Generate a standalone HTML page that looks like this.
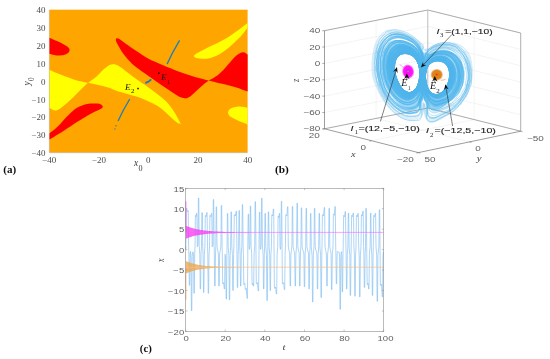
<!DOCTYPE html>
<html><head><meta charset="utf-8"><title>Figure</title>
<style>
html,body{margin:0;padding:0;background:#fff;}
body{width:550px;height:359px;overflow:hidden;}
svg{display:block;}
</style></head><body>
<svg width="550" height="359" viewBox="0 0 550 359">
<defs><filter id="soft" x="0" y="0" width="550" height="359" filterUnits="userSpaceOnUse"><feGaussianBlur stdDeviation="0.38"/></filter></defs>
<rect width="550" height="359" fill="#ffffff"/>
<g filter="url(#soft)">
<rect x="49.3" y="9.7" width="198.3" height="143.0" fill="#ffa500"/>
<path d="M49.3,37.7C50.6,38.2 54.7,40.0 57.0,41.0C59.3,42.0 61.4,43.1 63.0,44.0C64.6,44.9 65.8,45.6 66.8,46.3C67.8,47.0 68.5,47.6 69.0,48.3C69.5,48.9 69.6,49.5 69.5,50.2C69.4,50.9 69.3,51.9 68.6,52.6C67.9,53.3 66.9,54.1 65.5,54.6C64.1,55.1 61.9,55.5 60.0,55.6C58.1,55.7 55.8,55.3 54.0,55.0C52.2,54.7 50.1,53.9 49.3,53.7Z" fill="#ff0000"/>
<path d="M116.2,38.2C116.6,38.3 117.4,38.1 118.5,38.6C119.6,39.1 121.0,40.3 122.8,41.5C124.5,42.7 126.9,44.5 129.0,46.0C131.1,47.5 132.3,48.4 135.6,50.5C138.8,52.6 144.2,56.5 148.5,58.8C152.8,61.1 157.7,62.9 161.3,64.4C164.9,65.9 166.9,66.7 170.0,68.0C173.1,69.3 175.8,70.5 180.0,72.0C184.2,73.5 190.2,75.6 195.0,77.0C199.8,78.4 206.4,79.9 208.7,80.5L208.7,80.5C209.4,80.1 211.4,79.3 213.0,78.3C214.6,77.3 216.5,76.3 218.5,74.6C220.5,72.9 222.3,71.0 224.9,68.2C227.5,65.4 231.5,60.4 233.8,58.0C236.1,55.6 237.0,55.0 238.5,54.0C240.0,53.0 241.6,52.4 242.8,52.2C244.0,52.0 244.7,52.6 245.5,53.0C246.3,53.4 247.2,54.4 247.6,54.7L247.6,54.7C247.6,60.9 247.6,85.4 247.6,91.6L247.6,91.6C245.6,90.9 239.9,88.6 235.5,87.3C231.1,86.0 225.4,84.7 220.9,83.6C216.4,82.5 210.7,81.0 208.7,80.5L208.7,80.5C207.8,81.2 205.1,83.1 203.5,84.4C201.9,85.7 200.5,87.2 199.0,88.5C197.5,89.8 196.1,91.1 194.7,92.4C193.3,93.7 191.7,95.4 190.5,96.3C189.3,97.2 188.5,97.7 187.5,98.0C186.5,98.3 185.8,98.5 184.5,98.3C183.2,98.1 181.7,97.8 180.0,97.0C178.3,96.2 177.2,95.5 174.1,93.5C171.0,91.5 165.6,87.9 161.3,85.0C157.0,82.1 152.8,79.0 148.5,76.0C144.2,73.0 138.8,69.3 135.6,66.8C132.4,64.3 131.3,63.1 129.2,60.8C127.1,58.5 124.6,55.5 122.8,53.0C121.0,50.5 119.6,48.0 118.5,46.0C117.4,44.0 116.4,42.3 116.0,41.0C115.6,39.7 116.2,38.7 116.2,38.2Z" fill="#ff0000"/>
<path d="M49.3,133.5C50.7,132.3 54.7,129.5 57.8,126.5C60.9,123.5 64.8,118.6 68.0,115.5C71.2,112.4 73.8,109.7 77.0,107.8C80.2,105.9 84.1,104.7 87.3,104.0C90.5,103.3 94.0,103.5 96.3,103.6C98.6,103.7 99.9,104.0 101.0,104.5C102.1,105.0 102.6,106.2 102.9,106.5L102.9,106.5C102.8,106.8 102.5,107.5 102.0,108.0C101.5,108.5 102.0,108.3 100.0,109.3C98.0,110.3 93.7,112.1 89.9,114.2C86.1,116.3 81.3,119.3 77.0,122.0C72.7,124.7 68.8,127.5 64.2,130.5C59.6,133.4 51.8,138.2 49.3,139.7Z" fill="#ff0000"/>
<path d="M49.3,69.8C50.4,70.3 53.5,71.8 56.0,72.8C58.5,73.8 60.7,74.7 64.2,76.0C67.7,77.3 73.0,79.4 77.0,80.5C81.0,81.6 86.2,82.4 88.0,82.8L88.0,82.8C86.8,83.9 83.8,86.7 80.9,89.5C78.0,92.3 73.4,97.1 70.6,99.7C67.8,102.3 66.1,103.7 64.2,105.3C62.3,106.9 60.5,108.4 59.0,109.3C57.5,110.2 56.5,110.5 55.3,110.5C54.1,110.5 53.0,110.0 52.0,109.5C51.0,109.0 49.8,108.1 49.3,107.8Z" fill="#ffff00"/>
<path d="M88.0,82.8C89.4,81.8 93.8,78.8 96.3,76.7C98.8,74.6 100.6,72.2 102.7,70.3C104.8,68.4 107.2,66.3 109.1,65.3C110.9,64.3 112.3,64.2 113.8,64.2C115.3,64.2 116.5,64.8 118.0,65.6C119.5,66.4 120.9,67.4 122.8,68.8C124.7,70.2 127.1,72.2 129.2,73.8C131.3,75.4 132.4,76.3 135.6,78.6C138.8,80.9 144.2,84.5 148.5,87.6C152.8,90.7 158.1,94.6 161.3,97.2C164.5,99.8 165.6,100.6 167.7,103.0C169.8,105.4 172.4,109.1 174.1,111.7C175.8,114.3 176.8,116.4 178.0,118.5C179.2,120.6 180.5,123.3 181.0,124.3L181.0,124.3C180.4,124.0 179.1,124.1 177.3,122.8C175.5,121.5 172.4,118.6 170.0,116.5C167.6,114.4 165.5,112.0 163.0,110.0C160.5,108.0 158.4,106.5 154.9,104.6C151.4,102.7 146.3,100.3 142.0,98.6C137.7,96.9 133.5,95.9 129.2,94.6C124.9,93.3 119.8,91.9 116.4,90.8C113.1,89.7 112.4,88.8 109.1,87.8C105.8,86.8 99.8,85.4 96.3,84.6C92.8,83.8 89.4,83.1 88.0,82.8Z" fill="#ffff00"/>
<path d="M247.6,23.0C245.9,24.3 240.8,28.3 237.7,30.6C234.5,32.9 231.7,34.8 228.7,36.7C225.7,38.6 222.3,40.5 219.5,42.0C216.7,43.5 214.3,44.5 212.0,45.6C209.7,46.7 207.7,47.7 205.6,48.8C203.5,49.9 200.9,51.1 199.2,52.0C197.5,52.9 196.2,53.6 195.3,54.3C194.4,55.0 194.1,55.9 193.8,56.2L193.8,56.2C194.1,56.5 194.6,57.4 195.5,57.8C196.4,58.2 197.1,58.4 199.2,58.5C201.3,58.6 205.0,59.1 208.2,58.5C211.4,57.9 215.1,56.5 218.5,54.7C221.9,52.9 225.7,50.1 228.7,47.7C231.7,45.3 234.3,42.5 236.4,40.5C238.5,38.5 239.6,37.6 241.5,35.5C243.4,33.4 246.6,29.1 247.6,27.8Z" fill="#ffff00"/>
<path d="M247.6,107.8C246.3,107.6 242.3,106.5 239.8,106.5C237.3,106.5 234.3,107.2 232.5,107.8C230.7,108.4 229.8,109.2 229.0,110.0C228.2,110.8 228.1,112.2 227.9,112.7L227.9,112.7C228.1,113.1 228.5,114.5 229.0,115.2C229.5,115.9 229.5,116.1 231.1,117.0C232.7,117.9 235.7,119.5 238.4,120.7C241.2,121.9 246.1,123.8 247.6,124.4Z" fill="#ffff00"/>
<path d="M179.3,40.8Q172.5,52 167.3,63.6" fill="none" stroke="#1f7fb8" stroke-width="1.35" stroke-linecap="round"/>
<path d="M146.1,82.7Q149,81.6 150.7,79.9" fill="none" stroke="#1f7fb8" stroke-width="2.0" stroke-linecap="round"/>
<path d="M129.5,99.5Q123,110 118.3,120.6" fill="none" stroke="#1f7fb8" stroke-width="1.35" stroke-linecap="round"/>
<circle cx="116" cy="125.8" r="0.8" fill="#1f7fb8" opacity="0.85"/><circle cx="114.9" cy="129" r="0.8" fill="#1f7fb8" opacity="0.8"/>
<rect x="158" y="72.5" width="1.5" height="1.5" fill="#111"/>
<rect x="137.3" y="87.8" width="1.5" height="1.5" fill="#111"/>
<path d="M49.3,9.7V152.7H247.6" fill="none" stroke="#b0b0b0" stroke-width="0.5"/>
<text transform="translate(36.54,13.00) scale(1.120,1)" font-family="Liberation Serif, serif" font-size="8.00" fill="#4a4a4a">40</text>
<text transform="translate(36.54,30.90) scale(1.120,1)" font-family="Liberation Serif, serif" font-size="8.00" fill="#4a4a4a">30</text>
<text transform="translate(36.54,48.80) scale(1.120,1)" font-family="Liberation Serif, serif" font-size="8.00" fill="#4a4a4a">20</text>
<text transform="translate(36.54,66.70) scale(1.120,1)" font-family="Liberation Serif, serif" font-size="8.00" fill="#4a4a4a">10</text>
<text transform="translate(41.02,84.60) scale(1.120,1)" font-family="Liberation Serif, serif" font-size="8.00" fill="#4a4a4a">0</text>
<text transform="translate(31.49,102.50) scale(1.120,1)" font-family="Liberation Serif, serif" font-size="8.00" fill="#4a4a4a">−10</text>
<text transform="translate(31.49,120.40) scale(1.120,1)" font-family="Liberation Serif, serif" font-size="8.00" fill="#4a4a4a">−20</text>
<text transform="translate(31.49,138.30) scale(1.120,1)" font-family="Liberation Serif, serif" font-size="8.00" fill="#4a4a4a">−30</text>
<text transform="translate(31.49,156.20) scale(1.120,1)" font-family="Liberation Serif, serif" font-size="8.00" fill="#4a4a4a">−40</text>
<text transform="translate(42.29,163.10) scale(1.120,1)" font-family="Liberation Serif, serif" font-size="8.00" fill="#4a4a4a">−40</text>
<text transform="translate(91.99,163.10) scale(1.120,1)" font-family="Liberation Serif, serif" font-size="8.00" fill="#4a4a4a">−20</text>
<text transform="translate(145.96,163.10) scale(1.120,1)" font-family="Liberation Serif, serif" font-size="8.00" fill="#4a4a4a">0</text>
<text transform="translate(193.52,163.10) scale(1.120,1)" font-family="Liberation Serif, serif" font-size="8.00" fill="#4a4a4a">20</text>
<text transform="translate(243.32,163.10) scale(1.120,1)" font-family="Liberation Serif, serif" font-size="8.00" fill="#4a4a4a">40</text>
<text transform="translate(134.00,166.40) scale(0.986,1)" font-family="Liberation Serif, serif" font-size="9.60" fill="#3a3a3a" font-style="italic">x</text>
<text transform="translate(138.50,170.50) scale(1.108,1)" font-family="Liberation Serif, serif" font-size="7.40" fill="#3a3a3a">0</text>
<text transform="translate(29.9,85.6) rotate(-90)" font-family="Liberation Serif, serif" font-style="italic" font-size="9.4" fill="#3a3a3a">y</text>
<text transform="translate(33.9,80.9) rotate(-90)" font-family="Liberation Serif, serif" font-size="7.2" fill="#3a3a3a">0</text>
<text transform="translate(161.00,80.00) scale(1.042,1)" font-family="Liberation Serif, serif" font-size="8.80" fill="#151515" font-style="italic">E</text>
<text transform="translate(167.20,83.80) scale(0.839,1)" font-family="Liberation Serif, serif" font-size="6.20" fill="#151515">1</text>
<text transform="translate(125.00,89.60) scale(1.042,1)" font-family="Liberation Serif, serif" font-size="8.80" fill="#151515" font-style="italic">E</text>
<text transform="translate(131.00,92.70) scale(1.097,1)" font-family="Liberation Serif, serif" font-size="6.20" fill="#151515">2</text>
<text transform="translate(3.30,172.70) scale(1.054,1)" font-family="Liberation Serif, serif" font-size="10.50" fill="#111" font-weight="bold">(a)</text>
<path d="M324.5,30.7L427.8,10.0L520.7,33.0M324.5,47.0L427.8,26.3L520.7,49.4M324.5,63.4L427.8,42.7L520.7,65.7M324.5,79.8L427.8,59.0L520.7,82.1M324.5,96.1L427.8,75.3L520.7,98.5M324.5,112.5L427.8,91.7L520.7,114.8M324.5,128.8L427.8,108.0L520.7,131.2M371.4,140.7L474.2,119.6L474.2,21.5M469.6,141.9L376.1,118.4L376.1,20.4" stroke="#e9e9e9" stroke-width="0.5" fill="none"/>
<path d="M324.5,30.7L427.8,10.0L520.7,33.0V131.2L427.8,108.0L324.5,128.8" stroke="#6e6e6e" stroke-width="0.55" fill="none"/>
<path d="M427.8,10.0V108.0" stroke="#b6b6b6" stroke-width="0.9" fill="none"/>
<path d="M324.5,30.7V128.8L418.4,152.6L520.7,131.2" stroke="#5a5a5a" stroke-width="0.6" fill="none"/>
<path d="M324.5,30.7h-2.2M324.5,47.0h-2.2M324.5,63.4h-2.2M324.5,79.8h-2.2M324.5,96.1h-2.2M324.5,112.5h-2.2M324.5,128.8h-2.2M324.5,128.8l-2.0,0.4M418.4,152.6l1.9,0.5M371.4,140.7l-2.0,0.4M469.6,141.9l1.9,0.5M418.4,152.6l-2.0,0.4M520.7,131.2l1.9,0.5" stroke="#5a5a5a" stroke-width="0.5" fill="none"/>
<path d="M381.4,73.1L381.3,71.7L381.1,70.2L381.0,68.8L380.9,67.3L380.9,65.8L380.9,64.2L381.0,62.7L381.1,61.1L381.3,59.4L381.5,57.7L381.8,56.0L382.2,54.2L382.7,52.5L383.3,50.7L384.1,49.0L385.0,47.4L386.1,45.8L387.2,44.2L388.5,42.8L390.0,41.7L391.7,40.8L393.5,40.2L395.5,40.0L397.4,39.9L399.3,40.1L401.2,40.5L403.1,41.0L404.8,41.4L406.5,42.0L408.2,42.6L409.7,43.2L411.2,43.9L412.7,44.7L414.0,45.5L415.3,46.4L416.6,47.2L417.7,48.1L418.8,49.1L419.8,50.2L420.9,51.0L422.2,51.5L423.2,52.3L424.0,53.5L424.0,55.5L424.0,57.2L424.0,58.8L424.0,60.2L424.0,61.6L424.0,62.8L424.0,63.9L424.0,65.0L424.0,66.0L424.0,67.0L424.0,67.9L424.0,68.8L424.0,69.7L424.0,70.6L424.0,71.4L424.0,72.2L424.0,73.1L424.0,73.9L424.0,74.7L424.0,75.6L424.0,76.4L424.0,77.3L424.0,78.2L424.0,79.2L424.0,80.1L424.0,81.1L424.0,82.2L424.0,83.4L424.0,84.6L424.0,85.9L424.0,87.3L424.0,88.9L424.0,90.7L424.0,92.6L424.0,94.9L424.0,97.5L423.5,99.6L422.3,100.9L420.9,101.8L419.6,102.9L418.7,105.4L417.2,106.9L415.6,107.9L413.8,108.4L411.9,108.8L410.0,108.9L408.2,108.6L406.3,108.1L404.5,107.5L402.8,106.8L401.2,105.8L399.7,104.7L398.3,103.5L396.9,102.3L395.7,101.0L394.6,99.8L393.5,98.5L392.5,97.2L391.5,96.0L390.6,94.7L389.8,93.5L389.0,92.3L388.2,91.0L387.5,89.8L386.9,88.5L386.3,87.3L385.7,86.0L385.2,84.8L384.6,83.5L384.1,82.3L383.6,81.1L383.1,79.8L382.6,78.5L382.2,77.2L381.9,75.8L381.6,74.5ZM394.0,73.1L393.8,72.3L393.6,71.5L393.4,70.7L393.3,69.9L393.2,69.1L393.1,68.2L393.0,67.3L393.0,66.3L393.0,65.4L393.1,64.4L393.3,63.4L393.5,62.4L393.8,61.5L394.2,60.5L394.6,59.5L395.1,58.6L395.7,57.7L396.4,56.8L397.1,56.1L398.0,55.4L398.8,54.8L399.8,54.3L400.8,53.9L401.8,53.6L402.9,53.5L404.0,53.5L405.1,53.4L406.1,53.5L407.1,53.6L408.2,53.7L409.2,53.9L410.1,54.2L411.1,54.6L412.0,55.0L412.9,55.5L413.7,56.1L414.4,56.7L415.2,57.4L415.8,58.0L416.4,58.8L417.0,59.5L417.4,60.3L417.9,61.1L418.3,61.8L418.6,62.6L418.9,63.4L419.2,64.1L419.4,64.9L419.6,65.6L419.8,66.4L419.9,67.1L419.9,67.8L420.0,68.5L420.0,69.2L420.1,69.9L420.1,70.5L420.1,71.2L420.1,71.8L420.1,72.5L420.1,73.1L420.1,73.7L420.0,74.3L420.0,75.0L419.9,75.6L419.9,76.2L419.8,76.9L419.7,77.5L419.6,78.2L419.5,78.9L419.4,79.6L419.3,80.3L419.1,81.0L418.9,81.8L418.7,82.6L418.5,83.4L418.2,84.2L417.9,85.1L417.5,86.0L417.1,86.8L416.6,87.6L416.0,88.4L415.3,89.2L414.6,90.0L413.9,90.7L413.1,91.3L412.2,91.9L411.2,92.4L410.2,92.7L409.2,92.8L408.2,92.6L407.1,92.4L406.2,92.0L405.2,91.5L404.4,91.0L403.5,90.3L402.8,89.6L402.1,88.9L401.5,88.1L400.9,87.4L400.3,86.6L399.8,85.9L399.4,85.2L398.9,84.5L398.5,83.8L398.1,83.1L397.7,82.5L397.4,81.8L397.1,81.1L396.7,80.5L396.4,79.8L396.1,79.2L395.9,78.5L395.6,77.9L395.3,77.2L395.1,76.6L394.9,75.9L394.6,75.2L394.4,74.5L394.2,73.8ZM424.0,77.9L424.0,77.1L424.0,76.3L424.0,75.4L424.0,74.6L424.0,73.7L424.0,72.8L424.0,71.8L424.0,70.9L424.0,69.9L424.0,68.8L424.0,67.6L424.0,66.4L424.0,65.1L424.0,63.7L424.0,62.1L424.0,60.3L424.0,58.4L424.0,56.1L424.0,53.6L424.9,52.1L427.0,52.7L429.2,54.0L430.6,53.8L431.8,53.3L433.1,52.8L434.4,52.3L435.7,52.0L437.1,51.7L438.5,51.4L439.8,51.2L441.2,51.1L442.7,51.1L444.1,51.1L445.5,51.2L447.0,51.3L448.4,51.5L449.9,51.8L451.3,52.1L452.8,52.6L454.1,53.2L455.4,54.0L456.6,54.9L457.6,55.9L458.6,57.1L459.5,58.3L460.3,59.5L461.0,60.8L461.5,62.2L462.0,63.5L462.3,64.9L462.6,66.3L462.8,67.7L462.9,69.1L463.0,70.4L463.1,71.7L463.1,73.0L463.1,74.2L463.1,75.5L463.0,76.7L462.8,77.9L462.6,79.1L462.4,80.3L462.1,81.5L461.8,82.6L461.4,83.7L461.0,84.8L460.6,85.9L460.2,87.0L459.8,88.1L459.3,89.2L458.8,90.2L458.2,91.3L457.6,92.3L456.9,93.3L456.2,94.3L455.5,95.3L454.7,96.3L453.9,97.3L453.0,98.2L452.1,99.2L451.2,100.2L450.2,101.1L449.1,102.1L448.0,103.0L446.8,104.0L445.6,105.0L444.3,105.9L442.9,106.9L441.4,107.9L439.8,108.7L438.2,109.4L436.5,109.9L434.7,110.2L433.0,110.1L431.3,109.7L429.8,108.8L428.7,107.0L428.0,104.6L427.3,102.5L426.0,101.9L424.9,100.9L424.0,99.7L424.0,97.5L424.0,95.5L424.0,93.8L424.0,92.2L424.0,90.8L424.0,89.4L424.0,88.2L424.0,87.1L424.0,86.0L424.0,85.0L424.0,84.0L424.0,83.1L424.0,82.2L424.0,81.3L424.0,80.4L424.0,79.6L424.0,78.8ZM425.3,77.9L425.2,77.2L425.1,76.4L425.1,75.6L425.1,74.8L425.1,74.0L425.1,73.1L425.1,72.3L425.2,71.4L425.3,70.5L425.4,69.6L425.7,68.7L426.0,67.8L426.3,67.0L426.8,66.2L427.3,65.4L427.9,64.6L428.5,63.9L429.2,63.3L430.0,62.7L430.8,62.2L431.6,61.8L432.5,61.5L433.4,61.2L434.4,61.0L435.3,60.9L436.2,60.8L437.1,60.8L438.0,60.8L438.9,60.9L439.8,61.0L440.7,61.2L441.6,61.5L442.4,61.8L443.2,62.1L444.0,62.5L444.7,63.0L445.4,63.5L446.0,64.0L446.7,64.5L447.2,65.1L447.8,65.7L448.2,66.3L448.7,67.0L449.0,67.7L449.3,68.4L449.6,69.1L449.9,69.8L450.1,70.5L450.3,71.2L450.4,71.8L450.5,72.5L450.5,73.2L450.6,73.8L450.5,74.4L450.5,75.1L450.5,75.7L450.4,76.3L450.3,76.8L450.2,77.4L450.1,77.9L450.0,78.5L449.9,79.0L449.8,79.5L449.6,80.0L449.5,80.5L449.3,81.0L449.1,81.5L449.0,82.0L448.8,82.5L448.6,83.0L448.3,83.4L448.1,83.9L447.9,84.4L447.6,84.9L447.3,85.4L447.0,85.9L446.7,86.4L446.4,87.0L446.1,87.5L445.7,88.1L445.3,88.6L444.9,89.2L444.4,89.8L443.9,90.4L443.3,91.0L442.7,91.6L442.1,92.1L441.4,92.6L440.6,93.2L439.8,93.6L439.0,94.1L438.1,94.4L437.2,94.6L436.3,94.7L435.4,94.6L434.5,94.4L433.6,94.2L432.8,93.8L432.0,93.3L431.2,92.8L430.6,92.2L429.9,91.5L429.4,90.8L428.9,90.1L428.4,89.4L428.0,88.6L427.6,87.8L427.3,87.0L427.0,86.3L426.7,85.5L426.5,84.7L426.3,84.0L426.1,83.2L425.9,82.5L425.7,81.7L425.6,80.9L425.5,80.2L425.4,79.4L425.3,78.7Z" fill="#5cbcee" fill-rule="evenodd" opacity="0.6"/>
<path d="M432.2,93.7l1,.5 .9,.3 .9,.2 .9,.1 1,0 1.1-.1 1.1-.4 1.1-.6 1.3-.8 1.5-1.1 1.6-1.6 1.7-2.3 1.7-3.3 1.5-4.3 .7-4.9 -.3-4.8 -1.4-3.9 -1.9-2.9 -2.1-1.7 -2.1-1.1 -2.2-.6 -2.3-.2 -2.5,.3 -2.7,.9 -2.6,1.8 -2.3,2.8 -1.6,3.6 -.8,4.1 -.1,4 .4,3.5 .5,3.1 .7,2.5 .8,2.1 .9,1.7 1,1.2 .9,1 .9,.8 .9,.5 .9,.5 .8,.3 .9,.2 .9,.2 .9,0 1-.1 1.1-.2 1.1-.5 1.3-.6 1.5-1 1.7-1.4 2-2.1 2-3.1 1.9-4.4 .9-5.4 -.2-5.4 -1.4-4.6 -2.1-3.2 -2.4-2 -2.3-1.2 -2.4-.5 -2.4-.2 -2.6,.4 -2.8,.9 -2.7,1.9 -2.3,2.9 -1.5,3.7 -.8,4 -.2,3.9 .2,3.5 .4,3.1 .5,2.6 .6,2.2 .8,1.9 .8,1.4 .8,1.1 .8,.9 .9,.7 .8,.5 .7,.5 .8,.4 .7,.3 .8,.2 .8,.3 .9,.1 .9,0 1.1-.1 1.2-.4 1.3-.5 1.6-.7 1.9-1.2 2.3-1.9 2.5-3.1 2.3-4.8 1.5-6.2 -.1-6.5 -1.5-5.7 -2.4-4 -2.9-2.4 -2.8-1.2 -2.7-.4 -2.8,0 -2.9,.6 -2.9,1.2 -2.7,2.3 -2.2,3.2 -1.4,3.8 -.8,4 -.2,3.8 -.1,3.4 .2,3 .1,2.7 .3,2.5 .2,2.2 .4,1.9 .4,1.7 .5,1.4 .5,1.2 .6,1 .5,.8 .5,.7 .5,.6 .5,.7 .4,.6 .5,.6 .5,.6 .5,.5 .6,.4 .6,.4 .7,.4 .8,.3 .9,.3 1.1,.1 1.3-.1 1.5-.4 1.7-.6 2.2-.6 2.6-1.1 3.3-2.1 4.1-4.3 4.1-6.9 2.9-9.3 -.2-10.1 -2.9-8.5 -4.5-5.5 -4.6-2.6 -4.3-.8 -3.9,.2 -3.8,.7 -3.6,1.6 -3.2,2.5 -2.4,3.8 -1.7,4.2 -.9,4.3 -.8,3.8 -.7,3.4 -.7,3.1 -.8,2.6 -.9,2.3 -.8,1.8 -.8,1.5 -.8,1.1 -.8,1 -.7,.7 -.7,.7 -.7,.7 -.6,.6 -.8,.6 -.7,.5 -.9,.5 -.9,.5 -1.2,.3 -1.4,.2 -1.7-.2 -2.1-.7 -2.7-1.5 -3.2-3 -3.4-4.9 -2.9-7.2 -1.4-8.5 .5-8.1 2.2-6 3.2-3.6 3.4-1.5 3.2-.3 3.1,.5 3,1 3,1.7 2.8,2.6 2.4,3.6 1.7,4.3 1.1,4.5 .5,4.2 .2,3.6 0,3.3 -.2,2.7 -.3,2.4 -.5,2 -.4,1.8 -.5,1.4 -.6,1.2 -.6,1 -.6,.8 -.6,.7 -.6,.6 -.5,.6 -.6,.7 -.6,.6 -.6,.5 -.7,.5 -.9,.6 -.9,.5 -1.1,.4 -1.4,.4 -1.8,.1 -2.2-.3 -2.8-1.1 -3.6-2.6 -4-4.9 -3.7-7.7 -2.4-9.8 -.2-10.1 2-8.2 3.7-5.1 4.2-2.1 4-.4 3.7,.7 3.6,1.3 3.5,2 3.1,3.1 2.5,4.2 1.8,4.8 1.1,4.9 .7,4.3 .4,3.8 .3,3.4 .2,3 .2,2.9 .1,2.6 .1,2.4 .2,2.2 .2,2 .2,1.9 .2,1.6 .4,1.4 .5,1.3 .7,1.1 .5,1 .4,1 .3,.9 .1,1 .2,1 .1,1 .1,1 .1,1 .1,.9 .1,1 .2,.9 .2,.8 .4,.7 .4,.5 .4,.6 .6,.5 .6,.4 .8,.3 1,.3 1.1,.1 1.3-.2 1.6-.4 1.9-.9 2.2-1.1 2.7-1.1 3.3-1.4 4.6-2.2 6.4-4.5 6.9-8.5 4.8-12.7 -.5-14.6 -4.9-12.2 -7.2-7.3 -6.8-2.8 -5.9-.4 -5.1,.9 -4.7,1.5 -4.2,2.6 -3.5,3.5 -2.2,4.8 -1.3,4.7 -.9,4.4 -.7,3.8 -.7,3.5 -.7,3.2 -.7,2.8 -.8,2.4 -.9,2 -.9,1.6 -.8,1.3 -.9,1 -.9,.9 -.8,.8 -1,.6 -1,.5 -1.2,.3 -1.3,.1 -1.5-.3 -1.8-.8 -2.1-1.5 -2.3-2.5 -2.5-3.9 -2.4-5.2 -1.6-6.3 -.4-6.5 1-5.4 2.1-3.7 2.5-2.1 2.5-1 2.3-.2 2.4,.2 2.4,.6 2.5,1.3 2.5,2 2.2,2.9 1.8,3.8 1,4.2 .4,4.1 -.1,3.7 -.3,3.1 -.5,2.5 -.6,2.2 -.7,1.7 -.7,1.5 -.8,1.1 -.7,1 -.8,.9 -.8,.7 -.8,.7 -.9,.5 -1,.5 -1.1,.3 -1.3,0 -1.6-.3 -1.8-.8 -2.1-1.5 -2.4-2.6 -2.6-4 -2.4-5.5 -1.6-6.5 -.2-6.5 1.2-5.4 2.2-3.7 2.6-2 2.5-.9 2.5-.1 2.4,.3 2.4,.8 2.6,1.3 2.5,2.3 2.2,3.2 1.6,3.9 .9,4.2 .3,4 -.1,3.6 -.4,3 -.5,2.5 -.6,2 -.6,1.7 -.7,1.4 -.8,1.1 -.7,.9 -.7,.9 -.8,.7 -.8,.6 -.8,.6 -.9,.5 -1.1,.4 -1.2,.1 -1.5-.1 -1.7-.5 -2-1.2 -2.4-2.2 -2.5-3.5 -2.6-5.1 -2-6.4 -.8-6.9 .7-6.1 1.9-4.4 2.6-2.6 2.7-1.2 2.6-.3 2.5,.3 2.5,.6 2.6,1.3 2.6,2.1 2.3,3 1.8,3.9 1.1,4.2 .5,4.1 0,3.7 -.3,3.1 -.5,2.6 -.5,2.2 -.7,1.7 -.6,1.5 -.7,1.2 -.7,1 -.8,.8 -.7,.7 -.7,.7 -.7,.6 -.9,.6 -.9,.4 -1,.4 -1.2,.2 -1.5-.1 -1.8-.4 -2.1-1.2 -2.4-2.1 -2.7-3.6 -2.7-5.3 -2.1-6.8 -.8-7.2 .8-6.4 2.1-4.6 2.8-2.6 2.8-1.1 2.8-.2 2.6,.3 2.7,.9 2.7,1.5 2.6,2.3 2.2,3.3 1.7,4.1 1,4.2 .4,4.1 0,3.6 -.2,3 -.4,2.6 -.6,2.1 -.6,1.8 -.6,1.4 -.7,1.2 -.7,1 -.7,.8 -.6,.7 -.7,.7 -.7,.6 -.7,.5 -.8,.6 -.9,.5 -1.1,.3 -1.2,.3 -1.5,0 -1.8-.4 -2.3-1.1 -2.6-2.2 -3-3.9 -2.9-5.8 -2.2-7.4 -.8-7.9 1-6.8 2.5-4.6 3.1-2.6 3.2-.9 2.9,0 2.9,.5 2.8,1.1 2.9,1.9 2.6,2.8 2.2,3.8 1.5,4.3 .8,4.3 .4,4 0,3.5 -.2,3 -.3,2.5 -.5,2.1 -.5,1.8 -.6,1.5 -.6,1.2 -.7,1 -.6,.8 -.7,.7 -.6,.7 -.6,.6 -.6,.6 -.7,.5 -.7,.6 -.9,.5 -.9,.4 -1.1,.5 -1.4,.2 -1.7,0 -2.1-.5 -2.8-1.4 -3.3-2.7 -3.7-4.9 -3.3-7.3 -1.9-9 .3-8.8 2.3-6.9 3.4-4.1 3.6-1.8 3.6-.3 3.2,.6 3.2,1 3.2,1.8 3,2.7 2.4,3.9 1.7,4.5 1.1,4.6 .6,4.2 .3,3.7 .1,3.3 -.1,2.9 -.2,2.5 -.3,2.2 -.3,1.9 -.4,1.7 -.4,1.5 -.5,1.2 -.5,1 -.5,.8 -.5,.8 -.5,.7 -.4,.8 -.5,.7 -.5,.7 -.5,.6 -.6,.6 -.6,.5 -.8,.5 -.9,.5 -1,.5 -1.3,.5 -1.5,.4 -2,.1 -2.6-.4 -3.3-1.3 -4.2-3 -4.9-5.8 -4.4-9.3 -2.5-11.7 .3-11.8 2.9-9.2 4.6-5.4 4.9-1.9 4.7,.2 4.3,1.2 4.1,1.9 3.9,2.8 3.2,4 2.3,5.1 1.5,5.4 .9,5 .7,4.2 .5,3.8 .3,3.4 .4,3.2 .4,2.9 .6,2.5 .7,2.1 .8,1.8 .8,1.3 .8,1.1 .9,.8 .8,.6 .7,.5 .7,.5 .7,.4 .7,.4 .7,.3 .8,.2 .8,.3 .9,.1 1,.1 1.1-.2 1.3-.3 1.5-.6 1.8-.7 2.3-1.2 3-2.1 3.4-3.7 2.9-5.9 1.2-7.5 -1-7.5 -2.7-5.8 -3.4-3.7 -3.3-2 -3.1-.8 -3-.2 -3.1,.3 -3,1.1 -3,1.8 -2.5,3 -1.8,3.7 -1.1,4 -.5,3.9 -.2,3.5 -.2,3.2 -.2,2.8 -.2,2.6 -.4,2.3 -.4,2.1 -.3,1.8 -.5,1.5 -.4,1.4 -.5,1.1 -.5,.9 -.5,.9 -.3,.9 -.3,1 -.3,1 -.2,1 -.3,1 -.3,.9 -.3,.9 -.4,.7 -.5,.7 -.6,.5 -.7,.5 -.9,.4 -1,.4 -1.1,.3 -1.4,.4 -1.8,.4 -2.1,.1 -2.8-.4 -3.7-1.5 -4.7-3.2 -6-6.1 -5.7-10.1 -4.1-13.8 -.4-15 3.1-12.3 5.7-7.2 6.2-2.7 6,.3 5.3,1.7 4.9,2.4 4.5,3.6 3.7,4.8 2.3,6 1.3,6.1 .6,5.2 .4,4.3 .3,3.9 .4,3.6 .5,3.5 .8,3 .9,2.5 1.1,2 1.1,1.6 1.1,1.1 1,.8 1,.6 .9,.5 .9,.3 .9,.2 1,.1 .9,0 1.1-.2 1.1-.4 1.2-.5 1.4-.9 1.5-1.1 1.7-1.8 1.8-2.5 1.9-3.7 1.4-4.6 .6-5.3 -.7-4.9 -1.6-3.8 -2.2-2.5 -2.2-1.6 -2.3-.9 -2.3-.4 -2.4,0 -2.6,.5 -2.8,1.2 -2.5,2.2 -2.1,3.2 -1.3,3.8 -.5,4.1 0,3.8 .3,3.4 .6,2.8 .6,2.5 .8,2 .8,1.5 .9,1.3 .9,.9 .9,.8 .8,.5 .9,.5 .8,.3 .8,.3 .8,.2 .9,.2 .9,0 1-.1 1.1-.3 1.3-.4 1.4-.7 1.6-1 1.9-1.6 2.3-2.5 2.4-3.8 2-5.2 .7-6.1 -.9-5.7 -2.2-4.3 -2.6-2.8 -2.6-1.6 -2.5-.8 -2.6-.3 -2.6,.1 -2.8,.7 -2.8,1.5 -2.5,2.5 -1.9,3.4 -1.2,4 -.5,3.9 -.1,3.7 .2,3.3 .3,2.9 .4,2.5 .5,2.1 .6,1.8 .7,1.5 .7,1.3 .7,.9 .8,.7 .7,.6 .7,.6 .6,.4 .7,.4 .6,.4 .7,.3 .8,.3 .8,.3 .8,.2 1,0 1.2-.1 1.3-.3 1.5-.5 1.8-.7 2.2-1.1 2.8-2 3.3-3.7 3-5.8 1.5-7.5 -.5-7.7 -2.4-6.4 -3.3-4.2 -3.4-2.2 -3.3-.9 -3.1-.2 -3.1,.3 -3.2,1 -3,1.9 -2.5,2.9 -1.8,3.7 -1.2,4.1 -.5,3.9 -.3,3.5 -.3,3.2 -.3,2.8 -.5,2.5 -.5,2.2 -.6,1.9 -.5,1.7 -.6,1.3 -.5,1.2 -.6,.9 -.5,.9 -.4,.8 -.4,.8 -.4,.8 -.4,.8 -.4,.8 -.5,.7 -.5,.7 -.6,.6 -.7,.5 -.7,.5 -.9,.5 -1.1,.4 -1.3,.5 -1.6,.4 -2,.2 -2.7-.4 -3.4-1.3 -4.3-3 -5.1-5.9 -4.8-9.4 -3.1-12.5 -.2-12.9 2.8-10.4 4.8-6.1 5.4-2.3 5.2,.2 4.7,1.3 4.4,2.1 4.1,3 3.4,4.2 2.4,5.5 1.4,5.6 .9,5.2 .5,4.3 .5,3.8 .3,3.5 .4,3.2 .6,3 .7,2.5 .9,2.1 1,1.6 .9,1.2 1,.9 .9,.7 .8,.5 .8,.5 .8,.3 .8,.3 .8,.3 .8,.2 .9,.1 1-.1 1.1-.2 1.3-.4 1.4-.6 1.6-.9 2-1.3 2.4-2.2 2.6-3.6 2.1-5.2 .9-6.4 -.6-6.2 -2-4.9 -2.7-3.3 -2.8-1.8 -2.6-1 -2.7-.3 -2.7,.1 -2.9,.7 -2.8,1.4 -2.6,2.6 -2,3.3 -1.2,3.9 -.6,4 -.2,3.7 .1,3.3 .2,2.9 .3,2.6 .3,2.4 .5,2 .5,1.7 .5,1.4 .6,1.2 .6,1 .6,.8 .6,.6 .6,.6 .6,.6 .5,.5 .6,.5 .6,.4 .6,.4 .7,.4 .7,.3 .8,.3 1,.2 1.1,0 1.2-.2 1.5-.4 1.8-.6 2.2-.8 2.8-1.2 3.9-2.3 4.4-4.7 3.8-7.6 1.2-9.6 -1.8-9.1 -4-6.5 -4.5-3.6 -4.2-1.5 -3.7-.5 -3.6,.3 -3.4,.9 -3.4,1.7 -2.9,2.7 -2.2,3.7 -1.3,4.2 -.8,4.1 -.6,3.7 -.6,3.3 -.7,2.9 -.7,2.5 -.8,2.2 -.7,1.7 -.8,1.5 -.7,1.2 -.7,.9 -.7,.7 -.7,.7 -.6,.6 -.6,.6 -.6,.6 -.6,.6 -.7,.6 -.8,.5 -.9,.5 -1,.4 -1.3,.4 -1.6,.3 -2-.2 -2.5-.9 -3.1-2.1 -3.8-3.9 -3.8-6.5 -3-8.9 -1-9.9 1.3-8.6 3.2-5.8 4-2.9 4-.8 3.6,.2 3.5,1 3.4,1.6 3.2,2.6 2.7,3.7 2,4.5 1.3,4.8 .8,4.5 .5,4 .3,3.5 .1,3.1 0,2.8 0,2.5 -.1,2.4 -.1,2.1 -.1,1.9 -.2,1.7 -.3,1.5 -.4,1.2 -.4,1 -.4,1 -.4,.9 -.2,1.1 -.2,1 -.2,1.1 -.2,1.1 -.2,1 -.3,1 -.3,.8 -.5,.8 -.5,.6 -.6,.6 -.7,.5 -.8,.4 -1,.3 -1.2,.3 -1.4,.3 -1.7,.4 -2.2,.1 -2.8-.4 -3.6-1.5 -4.7-3.1 -6.2-5.7 -6.3-9.8 -5-14 -.9-15.7 2.9-13.4 6.1-8 6.7-3 6.3,.1 5.5,1.7 5.2,2.4 4.6,3.5 3.8,4.8 2.5,6.2 1.3,6.2 .6,5.4 .4,4.3 .3,3.9 .3,3.8 .6,3.5 .8,3.1 .9,2.6 1.1,2.1 1.1,1.6 1.1,1.1 1.1,.9 1,.6 1,.4 .9,.3 1,.2 1,.1 1-.2 1-.2 1.2-.5 1.3-.7 1.3-1 1.6-1.5 1.7-2 1.8-2.9 1.6-3.9 1-4.8 0-5 -1-4.3 -1.7-3.3 -2.1-2.1 -2.1-1.3 -2.2-.7 -2.3-.3 -2.4,.1 -2.6,.7 -2.7,1.4 -2.5,2.5 -1.9,3.4 -1,4 -.3,4 .2,3.7 .5,3.3 .6,2.7 .8,2.2 .9,1.8 .9,1.4 1,1.1 .9,.8 .9,.6 .8,.5 .9,.4 .8,.3 .9,.2 .9,.1 1-.1 1-.1 1.1-.4 1.3-.6 1.4-.8 1.6-1.2 1.8-1.8 2-2.7 2-3.9 1.5-5.1 .3-5.5 -.9-5.1 -1.9-3.8 -2.3-2.5 -2.4-1.4 -2.4-.8 -2.4-.2 -2.6,.1 -2.7,.7 -2.7,1.5 -2.5,2.5 -1.9,3.4 -1.1,4 -.4,3.9 0,3.7 .4,3.3 .4,2.8 .6,2.4 .7,1.9 .8,1.7 .8,1.2 .8,1 .8,.8 .8,.6 .8,.5 .8,.4 .7,.3 .8,.3 .7,.3 .9,.1 .9,.1 1,0 1.1-.2 1.3-.4 1.4-.6 1.7-.9 2.1-1.3 2.6-2.4 2.8-3.9 2.3-5.6 .9-6.7 -.9-6.5 -2.3-5 -2.9-3.1 -3-1.7 -2.8-.8 -2.8-.3 -2.8,.3 -2.9,.8 -2.9,1.7 -2.5,2.8 -1.8,3.5 -1.1,4 -.6,3.9 -.1,3.6 0,3.2 .2,2.9 .1,2.6 .2,2.4 .3,2.1 .3,1.9 .4,1.6 .5,1.4 .5,1.1 .5,.9 .6,.8 .4,.8 .5,.7 .4,.6 .4,.7 .4,.6 .5,.6 .4,.6 .6,.5 .6,.4 .7,.4 .7,.4 .9,.3 1,.2 1.2,0 1.4-.4 1.7-.5 2-.7 2.4-.9 3.3-1.3 4.7-2.5 5.5-5.3 4.7-8.9 1.4-11.4 -2.5-10.7 -5.1-7.3 -5.6-3.7 -5-1.3 -4.3-.2 -3.9,.6 -3.8,1.4 -3.5,2.3 -2.9,3.4 -2,4.1 -1.2,4.4 -.8,4 -.8,3.6 -.7,3.2 -.7,2.9 -.9,2.4 -.8,2 -.9,1.6 -.8,1.3 -.8,1 -.7,.9 -.8,.7 -.7,.7 -.7,.6 -.7,.6 -.8,.6 -.9,.5 -1,.4 -1.1,.3 -1.5,.1 -1.7-.3 -2.1-.8 -2.6-1.9 -3-3.3 -3.1-5.3 -2.6-7.1 -1.2-8 .6-7.4 2.3-5.4 3.1-3.2 3.2-1.2 3-.2 2.9,.5 2.9,1 2.9,1.6 2.8,2.6 2.3,3.6 1.6,4.2 1,4.4 .5,4.1 .1,3.6 -.1,3.1 -.3,2.7 -.4,2.3 -.5,1.9 -.6,1.6 -.5,1.3 -.7,1 -.6,.9 -.6,.7 -.7,.7 -.6,.6 -.6,.6 -.6,.6 -.7,.5 -.7,.6 -.9,.5 -1,.4 -1.2,.4 -1.5,.3 -1.8-.2 -2.4-.7 -2.9-1.8 -3.6-3.5 -3.7-5.8 -3-8.2 -1.4-9.4 .9-8.6 2.8-6.1 3.7-3.4 3.8-1.2 3.5,.1 3.4,.8 3.3,1.4 3.1,2.2 2.9,3.2 2.2,4.3 1.4,4.6 .9,4.6 .5,4.1 .3,3.5 .1,3.2 -.1,2.8 -.2,2.4 -.2,2.2 -.3,2 -.3,1.7 -.4,1.5 -.4,1.2 -.5,1.1 -.4,.9 -.5,.8 -.4,.9 -.3,.8 -.4,.8 -.4,.8 -.5,.8 -.4,.6 -.6,.6 -.7,.6 -.7,.5 -.9,.5 -1,.4 -1.2,.4 -1.6,.5 -1.9,.3 -2.4-.3 -3.2-1.1 -4.1-2.5 -5.2-5 -5.3-8.4 -4.1-12 -.9-13.3 2.2-11.4 4.9-7 5.6-2.9 5.4-.2 4.8,1.1 4.4,1.7 4.2,2.7 3.6,4 2.6,5.2 1.6,5.7 1.1,5.3 .6,4.5 .5,3.8 .3,3.6 .4,3.3 .5,3.1 .8,2.6 .8,2.2 .9,1.7 1,1.3 1,1 .9,.7 .8,.6 .9,.5 .7,.3 .8,.4 .8,.2 .9,.2 .9,.1 .9,0 1.1-.2 1.2-.4 1.4-.6 1.5-.8 2-1.2 2.3-2 2.5-3.2 2.3-4.9 1.1-6.1 -.4-6.4 -1.7-5.2 -2.5-3.6 -2.7-2.1 -2.7-1.1 -2.7-.5 -2.7,0 -2.8,.6 -2.9,1.3 -2.6,2.3 -2.1,3.2 -1.4,3.8 -.7,4 -.3,3.8 .1,3.4 .2,3 .3,2.7 .3,2.3 .4,2.1 .5,1.7 .6,1.5 .6,1.3 .6,1 .6,.8 .6,.6 .6,.6 .6,.5 .6,.6 .5,.4 .6,.5 .6,.4 .7,.3 .8,.4 .8,.3 .9,.1 1.1,.1 1.3-.3 1.5-.4 1.7-.5 2.2-.8 2.9-1.3 3.8-2.4 4.4-4.7 3.7-7.6 1.2-9.6 -1.9-8.9 -4-6.3 -4.5-3.5 -4.2-1.5 -3.7-.4 -3.4,.3 -3.5,.9 -3.3,1.7 -2.9,2.7 -2.2,3.7 -1.3,4.1 -.8,4.1 -.5,3.7 -.6,3.3 -.7,2.9 -.7,2.5 -.8,2.2 -.7,1.8 -.7,1.5 -.7,1.1 -.8,1 -.6,.7 -.7,.7 -.6,.6 -.6,.6 -.6,.6 -.6,.6 -.7,.6 -.7,.5 -.9,.5 -1,.5 -1.2,.4 -1.5,.3 -1.9-.1 -2.4-.6 -3.1-1.7 -3.8-3.2 -4.1-5.8 -3.5-8.5 -1.5-10.1 .9-9.4 3-6.8 3.9-3.8 4.1-1.2 3.8,.1 3.6,.9 3.5,1.5 3.3,2.4 2.9,3.4 2.2,4.4 1.5,4.9 .9,4.6 .6,4.1 .3,3.6 .2,3.3 .1,2.9 0,2.6 0,2.5 0,2.2 0,2.1 0,1.9 -.1,1.7 -.2,1.4 -.3,1.3 -.5,1 -.4,1 -.3,1.1 -.2,1.2 0,1.3 -.1,1.2 -.1,1.3 0,1.3 -.1,1.3 -.1,1.2 -.1,1.1 -.3,.9 -.3,.8 -.4,.8 -.5,.7 -.6,.5 -.8,.4 -.9,.2 -1,.2 -1.3,.1 -1.5,.1 -1.9,.1 -2.3,0 -2.9-.6 -3.8-1.5 -5.2-3 -6.7-5.6 -7.4-9.9 -6-15.3 -1.9-18 2.8-15.8 6.7-9.7 7.7-3.8 7.3,.1 6.3,1.8 5.7,2.7 5.1,3.9 4.1,5.3 2.5,6.6 1.2,6.6 .4,5.5 .2,4.4 .2,4 .3,3.9 .6,3.8 .8,3.3 1.1,2.8 1.1,2.2 1.2,1.7 1.2,1.2 1.2,.9 1.1,.5 1.1,.4 1.1,.1 1,0 1.1-.1 1.2-.4 1.2-.6 1.3-.9 1.3-1.2 1.5-1.7 1.6-2.2 1.6-3.1 1.4-3.9 .7-4.5 -.2-4.5 -1.1-3.7 -1.7-2.8 -1.9-1.8 -1.9-1.1 -2-.7 -2.1-.3 -2.3,0 -2.6,.5 -2.7,1.3 -2.5,2.4 -1.9,3.4 -1,4.1 -.2,4.2 .3,3.9 .7,3.2 .8,2.7 1,2.2 1,1.6 1,1.3 1.1,1 1,.7 1,.5 1,.4 .9,.2 1,.1 1.1-.1 1.1-.3 1.1-.5 1.2-.7 1.4-1 1.4-1.4 1.6-2 1.6-2.6 1.6-3.6 1.1-4.4 .2-4.7 -.7-4.3 -1.5-3.3 -1.9-2.3 -2-1.4 -2-.9 -2.1-.4 -2.3-.1 -2.5,.3 -2.7,1.1 -2.6,2 -2.1,3.1 -1.4,3.9 -.5,4.2 .2,3.9 .5,3.4 .7,2.9 .8,2.4 1,1.8 1,1.5 1,1.1 .9,.8 1,.7 .9,.4 1,.4 .9,.2 1,0 1,0 1-.2 1.1-.5 1.2-.6 1.4-.9 1.5-1.3 1.6-1.8 1.8-2.6 1.7-3.6 1.3-4.6 .4-4.9 -.7-4.6 -1.6-3.6 -2-2.5 -2.1-1.5 -2.2-.8 -2.2-.5 -2.4,0 -2.5,.4 -2.7,1.1 -2.6,2.2 -2.1,3.1 -1.3,3.9 -.6,4 .1,3.9 .4,3.4 .6,2.9 .8,2.4 .9,1.9 .9,1.5 .9,1.2 .9,.9 .9,.6 .9,.6 .9,.4 .8,.3 .9,.2 .9,.1 1,0 1-.1 1.1-.4 1.2-.5 1.4-.7 1.5-1.1 1.7-1.6 2.1-2.5 2.1-3.7 1.7-4.8 .6-5.5 -.7-5.2 -1.8-4.1 -2.3-2.7 -2.4-1.6 -2.3-.9 -2.4-.4 -2.5,0 -2.7,.5 -2.8,1.3 -2.5,2.3 -2.1,3.2 -1.3,3.8 -.5,4 -.1,3.8 .3,3.4 .5,2.9 .5,2.5 .7,2 .8,1.7 .8,1.3 .8,1.1 .9,.8 .8,.6 .8,.5 .7,.4 .8,.4 .8,.2 .7,.3 .9,.2 .9,.1 1-.1 1.1-.2 1.2-.4 1.5-.6 1.7-.9 2.1-1.3 2.4-2.4 2.7-3.8 2.3-5.5 .9-6.6 -.8-6.3 -2.3-5 -2.8-3.1 -2.9-1.8 -2.7-.8 -2.8-.3 -2.8,.2 -2.9,.8 -2.8,1.7 -2.5,2.6 -1.9,3.5 -1.2,4 -.5,3.9 -.2,3.6 .1,3.3 .2,2.9 .2,2.6 .2,2.4 .4,2 .4,1.8 .5,1.5 .5,1.3 .5,1.1 .6,.9 .5,.7 .5,.7 .5,.6 .5,.6 .5,.6 .5,.6 .5,.5 .5,.4 .7,.4 .7,.4 .7,.4 .9,.3 1.1,.1 1.2-.1 1.4-.3 1.7-.5 2-.6 2.5-.9 3.3-1.8 4.3-3.5 4.8-6.3 3.6-9 .4-10.5 -2.9-9 -4.9-5.9 -4.9-2.8 -4.5-.9 -3.9,0 -3.7,.6 -3.6,1.4 -3.3,2.4 -2.6,3.5 -1.8,4.1 -1.1,4.3 -.8,3.9 -.6,3.5 -.8,3.1 -.7,2.7 -.8,2.3 -.9,1.9 -.8,1.6 -.8,1.2 -.7,1 -.8,.8 -.7,.7 -.6,.7 -.7,.6 -.7,.6 -.7,.5 -.8,.5 -.9,.5 -1.1,.4 -1.2,.4 -1.6,0 -1.9-.3 -2.4-1.1 -2.9-2.2 -3.3-4.1 -3.1-6.3 -2.4-8.1 -.7-8.6 1.3-7.4 2.8-4.8 3.5-2.5 3.4-.8 3.2,.1 3.1,.8 3.1,1.4 3,2.2 2.6,3.3 2,4.1 1.4,4.6 .7,4.4 .4,3.9 .1,3.4 -.1,3 -.2,2.6 -.4,2.2 -.4,1.9 -.4,1.7 -.6,1.4 -.5,1.1 -.6,.9 -.6,.8 -.5,.7 -.5,.6 -.6,.7 -.5,.6 -.6,.6 -.6,.6 -.7,.5 -.8,.5 -.9,.5 -1.1,.5 -1.4,.4 -1.7,.3 -2.1-.2 -2.8-.9 -3.4-2.2 -4.2-4.4 -4.2-7.2 -3.2-9.9 -.9-10.9 1.6-9.4 3.8-6 4.4-2.7 4.4-.6 4,.5 3.7,1.2 3.7,2 3.3,3 2.7,4.3 1.9,4.9 1.2,5 .7,4.5 .6,3.9 .4,3.5 .3,3.2 .3,2.9 .2,2.8 .4,2.4 .4,2.3 .5,1.9 .5,1.6 .6,1.4 .6,1.1 .6,.8 .6,.8 .5,.7 .5,.6 .4,.7 .4,.6 .5,.6 .5,.6 .5,.5 .6,.4 .6,.4 .7,.4 .8,.4 1,.2 1.1,.1 1.3-.2 1.5-.4 1.8-.6 2.3-.7 2.7-1.2 3.6-2.2 4.2-4.4 4.2-7.3 2.4-9.7 -.6-10.3 -3.3-8.4 -4.6-5.3 -4.6-2.4 -4.2-.7 -4,.3 -3.8,.8 -3.6,1.8 -3.2,2.7 -2.3,3.9 -1.5,4.3 -.9,4.3 -.8,3.8 -.7,3.3 -.7,3 -.8,2.6 -.9,2.2 -.8,1.8 -.9,1.4 -.8,1.2 -.7,.9 -.8,.7 -.7,.7 -.6,.7 -.7,.6 -.8,.5 -.7,.6 -.9,.5 -1.1,.4 -1.2,.3 -1.5,0 -1.8-.3 -2.3-1 -2.8-2.1 -3.1-3.8 -3-5.9 -2.4-7.6 -.9-8.3 1-7.2 2.6-5 3.2-2.7 3.3-.9 3.1,0 3,.6 3,1.2 2.9,2 2.7,2.9 2.1,3.9 1.5,4.4 .8,4.4 .4,4 .1,3.5 -.1,3 -.3,2.6 -.4,2.2 -.5,1.9 -.5,1.6 -.6,1.3 -.6,1 -.6,.9 -.6,.7 -.6,.7 -.6,.6 -.6,.6 -.6,.6 -.6,.5 -.7,.6 -.8,.5 -1,.5 -1.1,.4 -1.4,.4 -1.7,.1 -2.1-.3 -2.8-1.1 -3.4-2.6 -3.8-4.7 -3.6-7.4 -2.3-9.5 -.3-9.7 2-7.9 3.5-4.9 4-2.2 3.8-.4 3.6,.6 3.5,1.1 3.3,1.9 3.2,2.9 2.5,4 1.8,4.7 1.1,4.8 .7,4.3 .4,3.8 .2,3.4 .1,3 .1,2.8 -.1,2.5 0,2.3 -.1,2.1 -.1,1.9 -.2,1.7 -.2,1.4 -.4,1.2 -.4,1.1 -.4,.9 -.4,1 -.2,1.1 -.1,1.2 -.2,1.1 -.1,1.1 -.2,1.2 -.2,1.1 -.2,.9 -.4,.8 -.4,.7 -.5,.7 -.6,.6 -.7,.5 -.9,.3 -1,.3 -1.2,.2 -1.5,.2 -1.8,.3 -2.3,.1 -2.9-.5 -3.7-1.6 -4.9-3.3 -6.5-6 -6.6-10.3 -5.1-14.6 -.9-16.4 3.2-13.8 6.4-8.3 6.9-3 6.6,.3 5.8,1.9 5.3,2.6 4.7,3.8 3.9,5.1 2.4,6.4 1.1,6.2 .5,5.4 .3,4.3 .3,3.9 .3,3.8 .6,3.6 .9,3.1 1,2.7 1.1,2 1.1,1.6 1.2,1.1 1.1,.9 1,.6 1,.4 1,.2 1,.1 1,0 1.1-.3 1.1-.4 1.2-.6 1.3-1 1.5-1.2 1.6-1.8 1.6-2.5 1.7-3.4 1.2-4.4 .5-4.7 -.5-4.6 -1.4-3.6 -1.9-2.5 -2-1.5 -2.1-1 -2.1-.5 -2.3-.2 -2.5,.3 -2.7,1 -2.6,1.8 -2.2,3 -1.5,3.7 -.7,4.2 0,3.9 .5,3.5 .6,3 .8,2.4 .9,2 1,1.6 1,1.2 .9,.9 1,.6 .9,.6 .9,.3 .9,.3 .9,.2 .9,0 1-.1 1.1-.3 1.2-.5 1.2-.7 1.4-1 1.6-1.4 1.8-2 1.9-3 1.6-4.1 1-5 -.1-5.1 -1.1-4.4 -1.8-3.2 -2.2-2.1 -2.2-1.2 -2.2-.7 -2.3-.2 -2.5,.2 -2.7,.7 -2.7,1.6 -2.4,2.6 -1.8,3.6 -.9,4 -.3,4 .2,3.6 .5,3.2 .6,2.6 .8,2.3 .8,1.7 .9,1.4 .9,1.1 .9,.8 .9,.7 .8,.5 .8,.4 .9,.3 .8,.2 .8,.2 1,0 .9,0 1.1-.3 1.2-.4 1.4-.7 1.5-.9 1.8-1.4 2.2-2.1 2.2-3.4 2-4.7 .9-5.8 -.5-5.7 -1.6-4.7 -2.3-3.2 -2.6-1.9 -2.4-1.1 -2.5-.4 -2.6-.1 -2.7,.5 -2.8,1.2 -2.6,2.2 -2.2,3.1 -1.4,3.8 -.7,4 -.2,3.8 .2,3.4 .3,3 .5,2.6 .5,2.3 .6,1.8 .7,1.6 .8,1.2 .7,.9 .8,.8 .7,.6 .8,.5 .6,.4 .7,.4 .7,.4 .7,.3 .8,.2 .8,.3 .9,.1 1.1,0 1.2-.3 1.3-.3 1.6-.6 1.9-.9 2.4-1.4 2.9-2.6 3.4-4.5 2.8-6.5 .9-7.7 -1.5-7.1 -3.1-5.1 -3.5-2.9 -3.4-1.5 -3.1-.6 -3,0 -3,.5 -3.1,1.3 -2.9,2.1 -2.3,3.2 -1.6,3.8 -.8,4.1 -.5,3.8 -.1,3.4 -.2,3.1 -.2,2.7 -.2,2.5 -.4,2.3 -.3,2 -.3,1.8 -.4,1.6 -.5,1.2 -.5,1.1 -.5,.9 -.4,.9 -.3,1 -.3,1 -.2,1.1 -.2,1 -.2,1.1 -.3,1 -.3,.9 -.4,.7 -.5,.7 -.5,.6 -.7,.6 -.8,.4 -.9,.4 -1.1,.3 -1.3,.3 -1.6,.3 -2,.3 -2.5-.2 -3.3-1 -4.4-2.2 -5.8-4.3 -6.5-8.1 -5.6-12.9 -2.4-15.6 1.8-14.6 5.2-9.8 6.6-4.7 6.5-.8 5.7,1.2 5.3,2.1 4.8,3.1 4.1,4.4 2.9,5.8 1.7,6.3 .9,5.7 .4,4.6 .3,4 .4,3.8 .4,3.6 .7,3.2 .9,2.8 1.1,2.3 1.1,1.7 1.1,1.3 1,1 1.1,.7 .9,.5 1,.4 .9,.2 1,.1 1,0 1-.2 1.1-.4 1.2-.6 1.3-.8 1.5-1.2 1.6-1.7 1.8-2.5 1.8-3.4 1.5-4.5 .6-5 -.6-4.8 -1.5-3.8 -2-2.7 -2.2-1.6 -2.2-1 -2.2-.5 -2.3-.1 -2.6,.4 -2.7,1 -2.6,2 -2.2,3.1 -1.4,3.7 -.7,4.1 0,3.9 .4,3.5 .5,2.9 .8,2.5 .8,2 .9,1.6 .9,1.2 .9,1 .9,.7 .9,.5 .8,.5 .9,.3 .8,.3 .9,.1 .9,.1 1-.1 1-.2 1.2-.4 1.3-.6 1.4-.9 1.8-1.3 1.9-2 2.2-3.1 1.9-4.3 1.1-5.4 -.2-5.7 -1.3-4.8 -2.1-3.4 -2.3-2.2 -2.5-1.2 -2.4-.6 -2.4-.1 -2.7,.3 -2.7,1 -2.8,1.8 -2.3,2.9 -1.6,3.6 -.8,4 -.3,3.9 .2,3.6 .3,3.1 .5,2.7 .6,2.2 .6,1.9 .8,1.6 .8,1.2 .8,.9 .8,.7 .8,.6 .7,.5 .7,.4 .8,.4 .7,.3 .8,.2 .8,.2 .9,.2 1,0 1.1-.2 1.2-.4 1.5-.6 1.7-.7 2.1-1.3 2.7-2.1 3-3.6 2.6-5.5 1.1-6.9 -.8-6.9 -2.4-5.4 -2.9-3.5 -3.1-2 -2.9-.9 -2.8-.3 -2.9,.2 -3,.9 -2.9,1.6 -2.5,2.7 -1.9,3.6 -1.2,3.9 -.6,3.9 -.2,3.7 0,3.2 0,2.9 .1,2.7 0,2.4 .1,2.2 .1,2 .1,1.8 .2,1.6 .4,1.5 .4,1.2 .6,1 .5,1 .4,.8 .3,.9 .2,.9 .2,.9 .2,.9 .2,.9 .2,.8 .3,.8 .3,.8 .3,.7 .5,.5 .5,.5 .6,.5 .7,.4 .8,.4 1,.2 1.1,.1 1.4-.2 1.6-.5 1.8-.8 2.3-1 2.8-1.1 3.7-1.5 5.3-2.7 6.7-5.9 6.2-10 2.4-13.5 -2.9-12.9 -6.4-9.1 -7-4.4 -6-1.3 -5.1,.1 -4.6,.9 -4.2,1.8 -3.8,2.9 -2.8,4.1 -1.9,4.6 -1.2,4.4 -.8,4.1 -.7,3.6 -.7,3.3 -.8,3 -.8,2.5 -.9,2.1 -.8,1.7 -.9,1.3 -.8,1.2 -.8,.9 -.8,.8 -.9,.7 -.8,.6 -1,.5 -1.1,.4 -1.2,.1 -1.5-.1 -1.7-.5 -2-1.2 -2.3-2.2 -2.6-3.5 -2.5-5.1 -1.9-6.3 -.9-6.8 .7-6 1.9-4.4 2.6-2.6 2.6-1.2 2.6-.3 2.4,.2 2.5,.6 2.6,1.2 2.6,2.1 2.3,2.9 1.8,3.8 1.1,4.2 .5,4.2 0,3.7 -.3,3.1 -.4,2.6 -.6,2.2 -.6,1.8 -.7,1.4 -.7,1.2 -.7,1 -.8,.9 -.7,.7 -.7,.7 -.8,.6 -.8,.5 -1,.5 -1.1,.3 -1.2,.2 -1.5-.2 -1.8-.6 -2.2-1.3 -2.5-2.4 -2.7-3.9 -2.6-5.6 -1.9-6.9 -.5-7 1.2-6 2.3-4.1 2.7-2.3 2.8-.8 2.7-.2 2.6,.5 2.6,.9 2.6,1.5 2.6,2.5 2.2,3.4 1.5,4.1 .9,4.3 .4,4 -.1,3.5 -.3,2.9 -.5,2.5 -.5,2 -.7,1.7 -.6,1.4 -.7,1.1 -.7,1 -.7,.8 -.7,.7 -.7,.6 -.7,.6 -.8,.6 -.8,.5 -1,.4 -1.1,.3 -1.4,.1 -1.6-.2 -2.1-.8 -2.4-1.7 -2.9-2.9 -3.1-4.7 -2.6-6.6 -1.3-7.7 .3-7.3 2-5.6 2.8-3.4 3.1-1.6 2.9-.4 2.8,.3 2.8,.7 2.8,1.4 2.7,2.2 2.4,3.2 1.9,4 1.1,4.3 .6,4.2 .1,3.8 -.1,3.2 -.3,2.7 -.4,2.3 -.6,2 -.6,1.6 -.6,1.3 -.6,1 -.7,.9 -.7,.7 -.6,.7 -.6,.6 -.7,.6 -.7,.6 -.7,.5 -.9,.5 -.9,.5 -1.2,.3 -1.4,.2 -1.7-.1 -2.2-.7 -2.7-1.6 -3.3-3 -3.5-5.1 -3-7.4 -1.4-8.6 .6-8.3 2.3-6.1 3.3-3.6 3.5-1.5 3.3-.2 3.1,.6 3.1,1.1 3,1.7 2.9,2.7 2.3,3.8 1.7,4.4 1,4.5 .6,4.2 .2,3.6 0,3.2 -.2,2.8 -.3,2.4 -.4,2 -.4,1.8 -.5,1.5 -.5,1.3 -.6,1 -.6,.8 -.6,.7 -.5,.7 -.5,.7 -.6,.6 -.5,.6 -.6,.6 -.7,.5 -.8,.5 -.8,.5 -1.1,.5 -1.2,.5 -1.5,.3 -1.9,.1 -2.5-.6 -3.2-1.5 -4.1-3.2 -4.5-5.8 -3.8-9 -1.9-10.8 .8-10.3 3.1-7.5 4.3-4.3 4.5-1.4 4.1,.2 3.8,1 3.7,1.7 3.5,2.6 3.1,3.6 2.2,4.7 1.4,5.1 .9,4.8 .7,4.1 .5,3.7 .3,3.3 .2,3 .3,2.8 .3,2.6 .3,2.3 .5,2.1 .5,1.8 .6,1.5 .5,1.2 .6,1 .6,.8 .5,.7 .5,.7 .5,.6 .4,.7 .4,.6 .5,.6 .4,.6 .6,.4 .6,.5 .6,.4 .8,.4 .8,.3 1,.2 1.2,0 1.4-.3 1.6-.5 1.9-.7 2.4-.8 3.2-1.2 4.5-2.3 5.5-4.9 4.8-8.3 1.6-11 -2.3-10.7 -4.9-7.7 -5.4-4.1 -4.9-1.6 -4.2-.4 -4,.5 -3.8,1.3 -3.5,2.1 -3,3.2 -2,4.1 -1.3,4.3 -.9,4.2 -.7,3.6 -.7,3.2 -.8,2.9 -.8,2.5 -.8,2 -.9,1.7 -.8,1.3 -.8,1.1 -.8,.9 -.7,.7 -.7,.7 -.7,.6 -.7,.6 -.7,.6 -.9,.5 -.9,.4 -1.2,.4 -1.3,.2 -1.6-.2 -2.1-.6 -2.5-1.5 -3-2.7 -3.4-4.7 -2.9-6.7 -1.6-8.1 .2-7.9 2-6.1 3.1-3.8 3.2-1.8 3.2-.4 3,.3 2.9,.8 2.9,1.5 2.8,2.3 2.5,3.4 1.8,4.1 1.2,4.5 .6,4.2 .2,3.8 -.1,3.2 -.2,2.8 -.3,2.4 -.5,2 -.5,1.8 -.6,1.4 -.6,1.1 -.6,1 -.6,.7 -.6,.7 -.6,.6 -.6,.7 -.6,.6 -.7,.5 -.7,.6 -.8,.5 -.9,.5 -1.1,.4 -1.3,.4 -1.6,.1 -2.1-.2 -2.6-1 -3.1-2.4 -3.7-4.4 -3.5-6.9 -2.7-9 -.6-9.5 1.5-8.1 3.3-5.1 3.9-2.5 3.9-.6 3.5,.3 3.4,1 3.3,1.7 3.1,2.7 2.7,3.7 1.9,4.6 1.2,4.8 .7,4.4 .4,3.9 .3,3.4 0,3 0,2.7 -.1,2.5 -.2,2.2 -.2,2 -.3,1.8 -.3,1.5 -.4,1.3 -.4,1.1 -.4,.9 -.4,.9 -.3,.9 -.3,1 -.3,.9 -.3,.9 -.3,1 -.4,.8 -.4,.7 -.5,.7 -.6,.5 -.7,.6 -.9,.4 -.9,.4 -1.2,.4 -1.4,.4 -1.8,.3 -2.2,.1 -2.8-.4 -3.7-1.5 -4.8-3.4 -5.6-6.5 -5.1-10.5 -3.3-13.7 .1-14 3.2-11.2 5.4-6.4 6-2.1 5.6,.4 5,1.7 4.8,2.5 4.2,3.6 3.5,4.8 2.2,5.9 1.2,5.9 .7,5.1 .4,4.2 .4,3.8 .3,3.6 .6,3.3 .7,2.9 .9,2.5 1,1.9 1.1,1.5 1,1.1 1,.8 1,.7 .9,.4 .9,.4 .8,.2 .9,.2 1,0 .9,0 1.1-.3 1.2-.4 1.3-.7 1.4-.9 1.7-1.4 2-2 2-3.1 1.9-4.4 1-5.3 -.2-5.5 -1.4-4.6 -2-3.3 -2.3-2.1 -2.4-1.2 -2.4-.5 -2.4-.2 -2.6,.3 -2.8,1 -2.7,1.8 -2.3,2.8 -1.6,3.7 -.8,4 -.2,3.9 .2,3.6 .4,3.1 .5,2.6 .6,2.2 .7,1.9 .8,1.4 .8,1.2 .9,.9 .8,.7 .8,.5 .8,.5 .7,.4 .8,.3 .7,.2 .8,.3 .9,.1 1,0 1-.1 1.2-.3 1.3-.5 1.6-.7 1.9-1.1 2.2-1.8 2.5-3.1 2.4-4.7 1.6-6.1 .2-6.6 -1.5-5.8 -2.5-4.1 -2.8-2.5 -2.8-1.2 -2.8-.5 -2.8,0 -2.8,.5 -3,1.2 -2.7,2.1 -2.2,3.2 -1.5,3.8 -.8,4 -.3,3.8 -.1,3.4 .1,3.1 .2,2.7 .2,2.5 .3,2.2 .3,2 .4,1.7 .5,1.4 .5,1.2 .6,1 .5,.9 .5,.7 .5,.7 .5,.6 .4,.7 .4,.6 .5,.5 .5,.6 .6,.4 .6,.4 .7,.4 .8,.4 .8,.3 1.1,.1 1.2,0 1.4-.3 1.7-.6 2-.6 2.6-.9 3.3-1.6 4.6-3.2 5.4-6 4.2-9.3 .8-11.1 -3.1-9.6 -5.4-6.3 -5.4-2.8 -4.6-1 -4.1,0 -3.8,.6 -3.7,1.4 -3.4,2.4 -2.6,3.5 -1.9,4.2 -1.1,4.3 -.8,3.9 -.7,3.5 -.7,3.2 -.8,2.7 -.8,2.4 -.8,1.9 -.9,1.6 -.8,1.2 -.7,1 -.8,.8 -.7,.7 -.7,.7 -.7,.6 -.7,.6 -.7,.5 -.9,.5 -.9,.5 -1.1,.4 -1.4,.2 -1.6-.2 -2.1-.6 -2.6-1.4 -3.1-2.7 -3.4-4.8 -3-6.8 -1.7-8.3 .3-8.1 2.1-6.3 3.1-3.9 3.3-1.7 3.3-.4 3,.4 3,.8 3,1.6 2.8,2.4 2.5,3.5 1.8,4.2 1.1,4.5 .6,4.2 .2,3.8 0,3.2 -.2,2.8 -.3,2.5 -.4,2 -.5,1.8 -.5,1.4 -.6,1.2 -.6,1 -.6,.8 -.6,.7 -.6,.6 -.6,.7 -.5,.6 -.6,.6 -.7,.5 -.7,.5 -.9,.6 -.9,.4 -1.2,.5 -1.4,.3 -1.8,.1 -2.3-.5 -3-1.3 -3.7-2.8 -4.1-5.3 -3.7-8 -2-10 .4-9.7 2.6-7.6 3.8-4.4 4.1-1.8 3.9-.1 3.6,.8 3.5,1.4 3.4,2.1 3.1,3.2 2.3,4.3 1.6,4.8 1.1,4.8 .6,4.2 .4,3.7 .3,3.3 .1,3 .1,2.7 0,2.5 .1,2.4 0,2.1 0,2 0,1.7 0,1.6 -.2,1.4 -.4,1.1 -.5,1.1 -.4,1.1 -.2,1.3 -.1,1.3 .1,1.4 0,1.4 0,1.4 .1,1.4 0,1.4 .1,1.5 0,1.4 -.1,1.2 -.1,1 -.3,.9 -.2,.8 -.4,.9 -.4,.7 -.6,.5 -.8,.3 -.8,.1 -1.1,.1 -1.2-.1 -1.5,0 -1.8-.1 -2.2,0 -2.8-.4 -3.5-1.1 -4.5-2.5 -6-4.6 -7.3-8.1 -7-13.2 -4.5-17.7 .3-18.5 4.5-14.6 7.3-8.1 7.9-2.2 7.3,1.3 6.5,2.6 5.8,3.8 4.9,5.2 3.3,6.7 1.7,7.1 .7,6.1 .1,4.9 .1,4.1 .2,4 .4,4 .7,3.7 .9,3.3 1.2,2.6 1.3,2 1.3,1.5 1.2,1 1.2,.6 1.2,.4 1.2,.2 1.1,0 1.2-.2 1.2-.5 1.2-.7 1.4-1 1.4-1.3 1.5-1.8 1.6-2.4 1.5-3.3 1.3-4 .5-4.5 -.5-4.3 -1.2-3.4 -1.8-2.4 -1.8-1.6 -1.9-1.1 -1.9-.6 -2.1-.3 -2.3,0 -2.5,.5 -2.7,1.4 -2.5,2.5 -1.9,3.5 -.9,4.2 -.2,4.3 .5,3.9 .7,3.3 .9,2.7 1.1,2.1 1.1,1.6 1.1,1.2 1.1,.9 1.1,.6 1.1,.4 1.1,.3 1,0 1.1-.1 1.2-.3 1.2-.5 1.2-.8 1.3-1.1 1.5-1.5 1.5-2 1.7-2.7 1.4-3.6 1-4.3 .2-4.5 -.8-4 -1.5-3.1 -1.8-2.1 -1.9-1.3 -1.9-.9 -2-.5 -2.2-.2 -2.4,.3 -2.7,.8 -2.6,1.9 -2.3,3 -1.4,3.8 -.6,4.3 .1,4.1 .6,3.6 .8,3 1,2.4 1,1.9 1.1,1.4 1.1,1.1 1.1,.8 1,.5 1.1,.4 1,.2 1,.1 1.1-.2 1.1-.3 1.2-.5 1.2-.8 1.4-1.1 1.4-1.5 1.6-2 1.6-2.7 1.5-3.7 .9-4.3 .2-4.6 -.9-4 -1.5-3.1 -1.8-2.1 -2-1.4 -1.9-.8 -2.1-.5 -2.2-.1 -2.5,.3 -2.6,1.1 -2.7,2 -2.1,3 -1.4,4 -.4,4.2 .1,4 .6,3.5 .8,2.8 .9,2.4 1,1.8 1.1,1.4 1,1.1 1.1,.8 1,.6 1,.4 .9,.2 1,.1 1.1,0 1-.2 1.2-.4 1.2-.7 1.3-.9 1.4-1.3 1.5-1.7 1.6-2.4 1.7-3.3 1.2-4.2 .6-4.7 -.5-4.5 -1.3-3.6 -1.8-2.5 -2-1.7 -2-1 -2.1-.6 -2.2-.2 -2.4,.2 -2.6,.8 -2.7,1.7 -2.3,2.8 -1.7,3.6 -.7,4.2 0,4 .4,3.6 .6,3.1 .9,2.5 .9,2 1,1.6 1,1.2 1,.9 .9,.7 1,.5 .9,.4 1,.2 .9,.1 1,0 1-.2 1.1-.4 1.2-.5 1.3-.9 1.5-1.1 1.6-1.7 1.7-2.3 1.8-3.4 1.4-4.3 .7-4.9 -.5-4.7 -1.4-3.9 -1.9-2.7 -2.1-1.7 -2.1-1.1 -2.2-.5 -2.3-.2 -2.5,.3 -2.7,.9 -2.7,1.8 -2.2,2.9 -1.6,3.7 -.7,4.1 -.1,3.9 .4,3.6 .6,3 .7,2.5 .8,2 1,1.6 .9,1.3 .9,.9 1,.8 .9,.5 .8,.5 .9,.3 .8,.2 .9,.2 1,0 1-.1 1.1-.4 1.2-.4 1.3-.7 1.5-1.1 1.7-1.5 1.9-2.3 2-3.4 1.7-4.5 .8-5.4 -.4-5.3 -1.5-4.3 -2.2-2.9 -2.3-1.8 -2.3-1.1 -2.4-.5 -2.4-.1 -2.7,.4 -2.7,1.1 -2.7,2.1 -2.1,3 -1.5,3.8 -.7,4 -.1,3.9 .3,3.4 .4,3 .6,2.6 .6,2.1 .8,1.7 .8,1.4 .9,1.1 .8,.8 .9,.6 .8,.5 .7,.5 .8,.3 .8,.3 .7,.2 .9,.2 .9,.1 1,0 1.1-.3 1.2-.4 1.5-.6 1.6-.8 2.1-1.4 2.4-2.3 2.6-3.8 2.2-5.4 1-6.5 -.8-6.2 -2.2-4.9 -2.8-3.2 -2.8-1.7 -2.7-.9 -2.7-.3 -2.8,.1 -2.8,.8 -2.9,1.6 -2.5,2.6 -1.9,3.5 -1.2,3.9 -.6,4 -.1,3.6 .1,3.3 .1,2.9 .3,2.6 .3,2.3 .4,2 .5,1.8 .5,1.4 .5,1.3 .6,1 .6,.9 .5,.7 .6,.6 .5,.6 .5,.5 .5,.6 .6,.5 .6,.4 .6,.4 .7,.3 .7,.4 .9,.3 1,.2 1.2-.1 1.3-.2 1.6-.5 1.9-.6 2.4-.9 3.1-1.5 4.2-3 4.8-5.7 3.9-8.6 .8-10.2 -2.7-9 -4.8-5.9 -4.9-2.9 -4.4-1.1 -3.8-.2 -3.6,.5 -3.6,1.2 -3.3,2.1 -2.7,3.2 -1.9,4 -1.2,4.2 -.7,4 -.6,3.6 -.7,3.2 -.8,2.7 -.7,2.4 -.8,2 -.8,1.7 -.8,1.3 -.8,1 -.7,.8 -.7,.8 -.6,.6 -.7,.6 -.6,.6 -.7,.6 -.7,.5 -.8,.6 -.9,.5 -1.1,.4 -1.2,.3 -1.6,.1 -2.1-.3 -2.5-1 -3.1-2.4 -3.5-4.3 -3.3-6.7 -2.5-8.6 -.6-9.1 1.5-7.7 3.2-5 3.7-2.3 3.6-.7 3.4,.3 3.2,.9 3.2,1.6 3.1,2.5 2.6,3.5 2,4.5 1.2,4.6 .7,4.4 .4,3.9 .2,3.4 0,3 -.2,2.6 -.2,2.3 -.3,2.1 -.4,1.8 -.4,1.5 -.4,1.4 -.5,1 -.5,1 -.5,.8 -.4,.8 -.5,.7 -.4,.8 -.4,.7 -.5,.7 -.5,.6 -.6,.6 -.7,.6 -.8,.5 -.9,.4 -1.1,.5 -1.3,.5 -1.7,.4 -2,0 -2.7-.5 -3.6-1.6 -4.6-3.3 -5.2-6.4 -4.7-10 -2.4-12.4 .9-12 3.7-8.9 5.1-4.8 5.2-1.5 4.7,.3 4.4,1.5 4.2,2.1 3.8,3.1 3.2,4.4 2.1,5.3 1.4,5.5 .8,4.9 .6,4.1 .5,3.7 .3,3.4 .4,3.2 .5,2.8 .7,2.5 .7,2 .9,1.6 .9,1.3 .9,.9 .8,.7 .8,.6 .8,.4 .7,.5 .7,.3 .8,.3 .8,.3 .8,.2 .9,.1 1,0 1.1-.1 1.2-.4 1.5-.6 1.7-.7 2.2-1.3 2.7-2 3.1-3.7 2.7-5.6 1.1-7 -.9-7 -2.4-5.5 -3.1-3.6 -3.1-1.9 -2.9-.9 -2.9-.3 -2.9,.3 -3,.9 -2.9,1.7 -2.5,2.7 -1.9,3.6 -1.2,4 -.6,3.9 -.2,3.6 0,3.2 0,2.9 0,2.7 0,2.4 -.1,2.2 0,2 .1,1.8 0,1.7 .2,1.5 .3,1.3 .5,1.2 .6,1.2 .5,1 .3,1 .1,1 .1,1 .1,1.1 0,1.1 .1,1.1 0,1.1 0,1 .1,1 .1,1 .1,1 .2,.9 .2,.7 .4,.6 .4,.5 .5,.5 .6,.5 .7,.4 .8,.2 1.1,.1 1.2,0 1.4-.3 1.8-.7 2-1 2.4-1.3 3-1.2 3.7-1.7 4.5-3.1 6-6.2 6-10.1 4-13.6 -.9-14.3 -4.9-11.5 -7.1-6.7 -6.7-2.6 -5.8-.2 -5.2,1.1 -4.8,2 -4.1,3.2 -3.2,4.3 -2,4.8 -1.2,4.7 -.7,4.2 -.7,3.7 -.6,3.5 -.7,3.2 -.7,2.9 -.9,2.4 -.8,1.9 -.9,1.6 -.9,1.3 -.9,1 -.9,.9 -1,.7 -1,.6 -1.2,.4 -1.3,.1 -1.5-.2 -1.7-.6 -2-1.3 -2.2-2.3 -2.4-3.4 -2.4-4.8 -1.9-6 -.8-6.3 .6-5.7 1.8-4.2 2.3-2.5 2.5-1.2 2.3-.5 2.3,0 2.3,.4 2.4,.9 2.5,1.6 2.4,2.6 2,3.4 1.3,4.1 .7,4.2 0,3.9 -.3,3.4 -.4,2.8 -.6,2.3 -.7,1.9 -.7,1.6 -.8,1.3 -.8,1 -.8,.9 -.8,.8 -.9,.7 -.9,.6 -1.1,.4 -1.2,.3 -1.3-.1 -1.6-.4 -1.9-1 -2.1-1.8 -2.4-2.9 -2.5-4.2 -2.2-5.6 -1.4-6.4 .1-6.2 1.4-4.9 2.2-3.2 2.5-1.7 2.4-.7 2.4-.2 2.3,.3 2.4,.8 2.4,1.3 2.5,2.3 2.2,3.1 1.6,4 .8,4.2 .3,4 -.2,3.5 -.4,3 -.5,2.5 -.7,2 -.7,1.7 -.7,1.3 -.8,1.2 -.7,.9 -.8,.8 -.8,.7 -.9,.7 -1,.5 -1,.4 -1.2,.2 -1.5-.2 -1.6-.5 -2-1.2 -2.2-2.1 -2.5-3.3 -2.4-4.7 -2.1-6 -.9-6.5 .4-6 1.7-4.5 2.4-2.7 2.6-1.4 2.4-.5 2.4,.1 2.4,.4 2.4,1 2.6,1.7 2.4,2.7 1.9,3.5 1.3,4.1 .6,4.2 .1,3.8 -.2,3.3 -.5,2.8 -.5,2.3 -.7,1.9 -.7,1.5 -.7,1.3 -.7,1 -.8,.9 -.8,.8 -.7,.7 -.9,.6 -.9,.5 -1.1,.4 -1.1,.2 -1.4-.1 -1.7-.4 -1.9-1.1 -2.3-2 -2.5-3.2 -2.5-4.6 -2.2-6.1 -1.1-6.7 .4-6.3 1.7-4.7 2.4-2.9 2.7-1.4 2.5-.5 2.5,0 2.4,.5 2.5,1.1 2.6,1.8 2.4,2.7 2,3.6 1.2,4.2 .6,4.1 .1,3.8 -.2,3.3 -.4,2.8 -.6,2.2 -.6,1.9 -.7,1.5 -.7,1.3 -.7,1 -.7,.9 -.7,.8 -.8,.7 -.8,.6 -.8,.5 -1,.5 -1,.3 -1.3,.2 -1.5-.2 -1.8-.6 -2.1-1.4 -2.5-2.3 -2.7-3.9 -2.5-5.5 -1.9-6.7 -.5-7 1.1-5.9 2.2-4.1 2.7-2.3 2.8-.9 2.6-.1 2.5,.3 2.6,.9 2.6,1.5 2.6,2.3 2.2,3.4 1.6,4 .9,4.2 .4,4.1 -.1,3.5 -.3,3 -.5,2.5 -.5,2 -.7,1.7 -.6,1.4 -.7,1.1 -.7,1 -.7,.8 -.7,.7 -.7,.7 -.8,.6 -.8,.5 -.9,.5 -1,.4 -1.2,.2 -1.4,0 -1.7-.3 -2.1-1 -2.5-2 -2.8-3.4 -2.8-5.2 -2.3-6.8 -1-7.5 .7-6.8 2.1-4.9 2.8-2.9 3-1.2 2.8-.2 2.7,.3 2.7,.9 2.8,1.5 2.6,2.3 2.4,3.3 1.7,4.1 1,4.3 .4,4.1 .1,3.6 -.2,3.1 -.4,2.7 -.5,2.1 -.6,1.9 -.6,1.5 -.6,1.2 -.7,1 -.7,.8 -.6,.7 -.7,.6 -.6,.7 -.7,.5 -.8,.6 -.8,.5 -.9,.5 -1.1,.3 -1.4,.3 -1.6-.1 -2-.6 -2.5-1.3 -3-2.6 -3.3-4.6 -3-6.6 -1.8-8.1 .1-8.1 1.8-6.5 3-4 3.3-1.9 3.2-.5 3,.2 3,.8 2.9,1.5 2.9,2.3 2.5,3.3 1.9,4.2 1.2,4.5 .6,4.2 .3,3.8 0,3.3 -.2,2.9 -.3,2.4 -.5,2.1 -.5,1.7 -.5,1.5 -.6,1.2 -.6,1 -.6,.8 -.6,.7 -.6,.6 -.6,.6 -.6,.7 -.6,.5 -.7,.6 -.7,.5 -.9,.5 -1,.5 -1.2,.4 -1.4,.3 -1.9,0 -2.3-.6 -3-1.6 -3.8-3.1 -4.1-5.6 -3.5-8.3 -1.6-9.9 .8-9.5 2.8-6.9 3.9-3.9 4-1.4 3.8,0 3.6,.9 3.4,1.4 3.3,2.3 3,3.3 2.2,4.4 1.5,4.8 1,4.6 .6,4.2 .3,3.6 .2,3.2 .1,3 0,2.6 0,2.4 -.1,2.3 -.1,2 -.1,1.9 -.1,1.6 -.3,1.4 -.4,1.2 -.5,.9 -.3,1 -.3,1.1 -.2,1.1 -.1,1.2 -.1,1.1 -.2,1.2 -.1,1.1 -.2,1.2 -.3,.9 -.3,.8 -.4,.8 -.5,.7 -.6,.5 -.7,.5 -.9,.3 -1,.3 -1.2,.2 -1.5,.2 -1.8,.2 -2.2,.1 -2.9-.5 -3.7-1.5 -4.9-3.1 -6.4-5.6 -6.8-9.9 -5.5-14.7 -1.5-16.8 2.9-14.5 6.3-8.8 7.3-3.2 6.8,.2 5.9,1.7 5.4,2.5 4.9,3.7 3.9,5.1 2.5,6.4 1.2,6.3 .6,5.5 .2,4.4 .3,3.9 .3,3.9 .6,3.6 .8,3.2 1,2.7 1.2,2.1 1.1,1.6 1.2,1.2 1.1,.8 1,.6 1,.4 1,.3 1.1,.1 1-.1 1.1-.2 1.1-.5 1.2-.7 1.4-.9 1.4-1.3 1.6-1.9 1.6-2.5 1.7-3.5 1.2-4.3 .4-4.8 -.6-4.4 -1.5-3.5 -1.9-2.4 -2-1.5 -2-.9 -2.1-.5 -2.3-.2 -2.5,.3 -2.7,1 -2.6,1.9 -2.2,3 -1.5,3.8 -.6,4.1 .1,4 .4,3.5 .7,2.9 .9,2.4 .9,2 1,1.5 .9,1.1 1,.9 1,.7 .9,.5 .9,.3 .9,.3 1,.1 .9,0 1.1-.2 1.1-.3 1.2-.6 1.3-.8 1.4-1.1 1.6-1.6 1.8-2.3 1.8-3.3 1.4-4.4 .8-5 -.4-4.8 -1.4-4 -2-2.8 -2.1-1.8 -2.1-1 -2.2-.6 -2.4-.2 -2.5,.3 -2.7,1 -2.7,1.8 -2.2,2.8 -1.6,3.8 -.7,4 -.1,4 .3,3.5 .6,3 .7,2.6 .8,2 .8,1.7 1,1.3 .9,.9 .9,.8 .9,.6 .8,.4 .9,.4 .8,.2 .9,.2 .9,.1 1-.1 1-.2 1.2-.4 1.2-.6 1.5-.9 1.6-1.2 2-1.9 2-3 1.9-4.2 1.2-5.2 .1-5.7 -1.1-4.9 -2-3.6 -2.4-2.3 -2.4-1.3 -2.4-.6 -2.4-.2 -2.7,.3 -2.7,.9 -2.8,1.7 -2.3,2.7 -1.7,3.6 -1,4 -.3,3.9 .2,3.6 .3,3.2 .4,2.7 .6,2.3 .7,1.9 .7,1.6 .8,1.2 .8,1 .9,.7 .7,.6 .8,.5 .7,.4 .7,.4 .8,.3 .8,.2 .8,.3 .9,.1 .9,0 1.1-.2 1.3-.4 1.4-.5 1.7-.8 2.1-1.2 2.7-2 3-3.6 2.6-5.3 1.1-6.9 -.8-6.8 -2.2-5.6 -3-3.5 -3-2 -2.9-1 -2.8-.3 -2.9,.2 -2.9,.8 -2.9,1.6 -2.6,2.6 -1.9,3.5 -1.3,4 -.6,3.9 -.2,3.6 0,3.3 .1,2.9 0,2.7 .1,2.4 .1,2.2 .1,2 .2,1.8 .3,1.6 .3,1.4 .5,1.2 .6,1 .5,.9 .4,.8 .3,.9 .2,.8 .3,.9 .2,.8 .3,.8 .2,.8 .4,.8 .3,.6 .5,.6 .5,.5 .6,.4 .7,.4 .8,.4 .9,.3 1.2,.1 1.3-.1 1.6-.5 1.8-.8 2.2-.9 2.8-1.1 3.8-1.4 5.5-2.6 6.7-5.8 5.9-10.1 1.6-13.4 -3.1-12.5 -6.4-8.5 -6.8-3.9 -5.8-1.2 -4.9,.1 -4.4,.9 -4.2,1.8 -3.6,2.8 -2.8,4 -1.8,4.6 -1.2,4.4 -.9,4 -.7,3.6 -.7,3.2 -.8,2.9 -.8,2.5 -.9,2 -.8,1.7 -.9,1.3 -.8,1.1 -.8,.9 -.8,.8 -.8,.7 -.8,.6 -.9,.5 -1,.4 -1.2,.3 -1.4,0 -1.6-.4 -2-.9 -2.2-1.8 -2.7-3.1 -2.6-4.6 -2.4-6.1 -1.2-7 .3-6.5 1.7-5.1 2.5-3.2 2.8-1.5 2.6-.5 2.6,0 2.5,.6 2.6,1.1 2.6,1.9 2.5,2.8 1.9,3.7 1.3,4.2 .6,4.2 .1,3.8 -.2,3.3 -.3,2.7 -.6,2.3 -.6,1.9 -.6,1.5 -.7,1.3 -.7,1 -.7,.9 -.7,.7 -.7,.7 -.7,.6 -.8,.6 -.9,.5 -.9,.5 -1.1,.3 -1.3,.1 -1.6-.2 -1.9-.7 -2.4-1.5 -2.7-2.6 -2.9-4.4 -2.7-6.1 -1.6-7.3 0-7.3 1.6-5.8 2.7-3.7 2.9-1.8 2.9-.7 2.7,.1 2.7,.5 2.7,1.2 2.7,1.9 2.5,2.9 2,3.8 1.3,4.3 .7,4.2 .2,3.9 -.1,3.3 -.3,2.8 -.4,2.4 -.6,2 -.6,1.6 -.6,1.3 -.7,1.1 -.7,.9 -.6,.7 -.7,.7 -.6,.6 -.7,.6 -.7,.6 -.8,.5 -.9,.5 -1.1,.4 -1.2,.3 -1.6,0 -1.8-.4 -2.4-1.1 -2.7-2.2 -3.1-4 -3-6 -2.2-7.7 -.7-8.1 1.1-7 2.6-4.7 3.3-2.5 3.2-.9 3.1,.1 2.9,.6 3,1.2 2.9,2 2.6,3 2.1,4 1.4,4.4 .8,4.3 .4,4 0,3.4 -.1,3 -.3,2.6 -.5,2.1 -.5,1.9 -.5,1.5 -.6,1.2 -.6,1.1 -.6,.8 -.7,.7 -.5,.6 -.6,.7 -.6,.6 -.6,.5 -.7,.6 -.8,.5 -.8,.5 -1,.5 -1.2,.4 -1.5,.3 -1.8,0 -2.3-.7 -3-1.6 -3.7-3.1 -4-5.5 -3.3-8.2 -1.6-9.7 .8-9.2 2.7-6.8 3.8-3.8 4-1.4 3.7,0 3.4,.9 3.4,1.3 3.3,2.2 2.9,3.3 2.3,4.2 1.5,4.8 .9,4.6 .6,4.1 .3,3.7 .2,3.2 0,2.9 -.1,2.6 -.1,2.3 -.1,2.1 -.2,2 -.3,1.7 -.3,1.4 -.4,1.3 -.4,1 -.4,.9 -.4,.9 -.3,1 -.2,1 -.3,.9 -.3,1 -.3,1 -.3,.8 -.4,.8 -.5,.6 -.6,.6 -.7,.5 -.8,.4 -1,.4 -1.1,.4 -1.4,.3 -1.7,.4 -2.2,.2 -2.7-.4 -3.6-1.4 -4.6-3.1 -5.9-5.9 -5.8-9.8 -4.1-13.6 -.5-14.8 2.9-12.3 5.6-7.3 6.2-2.7 5.9,.2 5.3,1.6 4.9,2.3 4.4,3.4 3.7,4.7 2.4,6 1.3,6 .7,5.3 .4,4.3 .4,3.9 .3,3.6 .6,3.4 .7,3.1 .9,2.5 1.1,2 1,1.6 1.1,1.1 1,.9 1,.6 .9,.5 .9,.3 .9,.3 .9,.1 1,0 1-.1 1.1-.3 1.2-.5 1.3-.8 1.5-1 1.7-1.6 1.8-2.3 2-3.4 1.5-4.5 .8-5.2 -.4-5.2 -1.4-4.1 -2.1-2.9 -2.3-1.8 -2.3-1 -2.3-.6 -2.4-.1 -2.6,.4 -2.7,1 -2.7,2 -2.2,3 -1.4,3.8 -.7,4 -.1,3.9 .3,3.5 .4,3 .6,2.5 .8,2.1 .8,1.7 .8,1.3 .9,1.1 .9,.8 .8,.6 .8,.5 .8,.4 .8,.3 .8,.3 .8,.2 .9,.1 1,0 1-.2 1.2-.4 1.3-.5 1.5-.8 1.8-1.2 2.1-1.8 2.3-3.1 2.2-4.4 1.3-5.8 .1-6.1 -1.3-5.4 -2.3-3.9 -2.6-2.4 -2.6-1.2 -2.6-.6 -2.6,0 -2.8,.4 -2.8,1.1 -2.8,1.9 -2.3,3 -1.5,3.7 -.9,4 -.3,3.9 .1,3.5 .2,3.1 .3,2.7 .3,2.4 .5,2.1 .6,1.7 .6,1.5 .6,1.2 .7,.9 .7,.8 .7,.6 .6,.5 .6,.5 .6,.5 .6,.4 .7,.4 .7,.3 .7,.3 .8,.3 .9,.2 1.1,0 1.2-.2 1.4-.3 1.7-.6 2-.8 2.6-1.2 3.5-2.3 4-4.3 3.4-6.9 1.1-8.7 -1.5-8.4 -3.5-6.2 -4-3.6 -3.8-1.6 -3.5-.6 -3.3,.1 -3.3,.7 -3.2,1.4 -3,2.4 -2.3,3.4 -1.5,4 -.8,4.2 -.5,3.7 -.4,3.4 -.5,3 -.6,2.6 -.7,2.2 -.7,2 -.6,1.6 -.7,1.3 -.6,1.1 -.7,.9 -.6,.8 -.5,.7 -.6,.6 -.5,.7 -.5,.6 -.6,.6 -.6,.6 -.7,.6 -.8,.5 -.8,.5 -1.1,.5 -1.3,.4 -1.6,.4 -2-.1 -2.6-.7 -3.5-1.7 -4.3-3.5 -4.7-6.4 -3.8-9.6 -1.6-11.3 1.2-10.5 3.5-7.4 4.6-3.8 4.6-1.2 4.2,.4 4,1.2 3.8,1.9 3.5,2.9 3,4 2,5 1.3,5.1 .9,4.7 .7,4.1 .4,3.6 .4,3.3 .3,3 .3,2.8 .4,2.6 .5,2.2 .6,1.8 .7,1.5 .6,1.3 .7,1 .7,.8 .6,.6 .6,.6 .6,.6 .5,.5 .6,.5 .6,.4 .6,.4 .6,.4 .8,.3 .8,.3 .9,.3 1.1,0 1.2-.2 1.5-.4 1.7-.5 2.1-.8 2.7-1.1 3.8-2.1 4.4-4.3 3.9-7.1 1.6-9.4 -1.6-9.2 -3.7-7 -4.4-4.1 -4.2-1.9 -3.7-.6 -3.6,.2 -3.5,.8 -3.4,1.6 -3,2.5 -2.2,3.6 -1.5,4.2 -.8,4.1 -.6,3.8 -.6,3.3 -.7,3 -.7,2.6 -.8,2.2 -.7,1.8 -.8,1.5 -.7,1.2 -.8,.9 -.7,.8 -.6,.7 -.6,.6 -.6,.6 -.6,.6 -.7,.6 -.7,.5 -.7,.6 -.9,.5 -1.1,.4 -1.2,.4 -1.6,.3 -1.9-.2 -2.5-.8 -3.1-2 -3.7-3.8 -3.9-6.3 -3.1-8.6 -1.1-9.8 1.2-8.8 3.1-6 3.9-3.1 4-1 3.7,.2 3.4,1 3.4,1.5 3.2,2.5 2.8,3.6 2.1,4.5 1.3,4.8 .8,4.5 .6,4 .3,3.5 .1,3.2 0,2.8 -.1,2.5 -.1,2.3 -.1,2.2 -.2,1.9 -.2,1.7 -.3,1.4 -.4,1.2 -.4,1 -.4,1 -.4,.9 -.2,1 -.3,1 -.2,1.1 -.2,1 -.3,1 -.3,.9 -.4,.8 -.4,.7 -.6,.6 -.6,.5 -.8,.5 -.9,.4 -1.1,.3 -1.2,.3 -1.6,.4 -1.9,.3 -2.5-.2 -3.2-.8 -4.2-2 -5.6-4.1 -6.4-7.8 -5.7-12.4 -2.8-15.3 1.5-14.5 4.9-10.2 6.5-5.1 6.5-1.1 5.7,1.1 5.2,2 4.8,3 4.1,4.2 3.1,5.7 1.8,6.2 1,5.7 .5,4.8 .3,4 .3,3.8 .5,3.6 .6,3.3 .9,2.8 1,2.3 1.1,1.8 1.1,1.3 1,1 1.1,.7 .9,.6 1,.3 .9,.3 .9,.1 1,.1 1-.2 1.1-.3 1.2-.5 1.3-.8 1.4-1 1.6-1.5 1.8-2.3 1.8-3.2 1.6-4.3 .8-5 -.3-5 -1.2-4.2 -1.9-2.9 -2.2-1.9 -2.2-1.1 -2.2-.6 -2.4-.2 -2.5,.3 -2.7,.9 -2.7,1.7 -2.3,2.8 -1.6,3.7 -.8,4 -.1,4 .2,3.5 .5,3.1 .7,2.6 .7,2.1 .9,1.7 .9,1.3 .9,1.1 .9,.8 .9,.6 .8,.4 .9,.4 .8,.3 .8,.2 .9,.1 .9,.1 1-.2 1.1-.3 1.3-.4 1.4-.7 1.6-1.1 1.8-1.6 2.2-2.5 2.3-3.7 1.9-5.1 .6-5.8 -.8-5.5 -2-4.3 -2.5-2.7 -2.5-1.6 -2.5-.9 -2.5-.3 -2.6,.1 -2.7,.6 -2.8,1.4 -2.5,2.5 -2,3.3 -1.2,3.9 -.6,4 0,3.7 .2,3.3 .4,2.9 .5,2.5 .5,2.1 .7,1.7 .7,1.5 .8,1.1 .8,.9 .7,.7 .8,.5 .7,.5 .7,.4 .7,.4 .7,.3 .8,.3 .8,.2 .8,.2 1,0 1.1-.1 1.2-.3 1.5-.5 1.7-.7 2.1-1.2 2.6-1.9 2.9-3.5 2.7-5.3 1.5-7 -.4-7.2 -2-6.1 -2.9-4.1 -3.2-2.2 -3-1.1 -3-.3 -3,.2 -3,.8 -3,1.6 -2.6,2.7 -2,3.5 -1.2,4 -.7,3.9 -.2,3.7 -.1,3.3 -.1,2.9 -.2,2.6 -.2,2.4 -.2,2.2 -.3,2 -.2,1.8 -.3,1.6 -.4,1.3 -.4,1.1 -.6,.9 -.4,1 -.3,1.1 -.1,1.1 -.2,1.2 -.1,1.2 -.1,1.2 -.1,1.2 -.1,1.1 -.3,1 -.3,.9 -.4,.8 -.4,.7 -.6,.6 -.7,.5 -.8,.3 -1,.3 -1.1,.2 -1.4,.2 -1.7,.2 -2.1,.1 -2.6-.2 -3.4-1 -4.5-2.2 -5.9-4.5 -7.1-8.4 -6.3-13.3 -3.3-16.7 1.5-16.1 5.4-11.3 7.2-5.6 7.1-1 6.3,1.3 5.6,2.3 5.2,3.4 4.3,4.8 3.1,6.2 1.6,6.5 .8,5.8 .3,4.7 .2,4.1 .3,3.9 .5,3.7 .7,3.4 1,2.9 1.1,2.4 1.2,1.8 1.1,1.3 1.2,1 1,.7 1.1,.4 1,.3 1.1,.1 1,0 1.1-.2 1.1-.4 1.2-.7 1.3-.9 1.4-1.2 1.6-1.8 1.6-2.4 1.6-3.3 1.3-4.1 .6-4.7 -.5-4.4 -1.3-3.7 -1.8-2.6 -1.9-1.6 -2-1.1 -2.1-.6 -2.2-.2 -2.4,.2 -2.6,.8 -2.7,1.6 -2.4,2.8 -1.6,3.6 -.8,4.2 0,4 .4,3.6 .6,3.1 .9,2.5 .9,2.1 1,1.6 1,1.2 1,.9 .9,.7 1,.5 .9,.4 1,.2 .9,.1 1,0 1-.2 1.2-.4 1.1-.6 1.3-.8 1.5-1.2 1.6-1.6 1.7-2.4 1.8-3.4 1.4-4.3 .6-4.9 -.4-4.7 -1.4-3.8 -2-2.7 -2-1.7 -2.2-1.1 -2.1-.5 -2.3-.2 -2.5,.3 -2.7,.9 -2.7,1.8 -2.2,2.9 -1.6,3.7 -.7,4.1 -.1,4 .4,3.5 .6,3 .7,2.5 .9,2.1 .9,1.6 1,1.2 .9,1 .9,.7 .9,.5 .9,.5 .8,.3 .9,.2 .9,.1 1,0 1-.1 1.1-.3 1.2-.5 1.3-.8 1.5-1 1.7-1.6 2-2.4 2-3.5 1.7-4.6 .7-5.4 -.5-5.2 -1.7-4.1 -2.2-2.9 -2.3-1.7 -2.3-1 -2.4-.5 -2.4,0 -2.7,.4 -2.7,1.2 -2.6,2.1 -2.1,3.1 -1.5,3.8 -.6,4 -.1,3.9 .3,3.4 .5,2.9 .6,2.6 .7,2 .7,1.7 .9,1.4 .8,1 .9,.8 .8,.6 .8,.5 .8,.4 .8,.4 .7,.3 .8,.2 .9,.1 .9,.1 1-.1 1.2-.3 1.2-.4 1.5-.6 1.8-1 2-1.6 2.4-2.7 2.6-4.2 2.2-5.6 .7-6.5 -1.1-6 -2.5-4.4 -2.9-2.8 -2.8-1.4 -2.7-.7 -2.7-.2 -2.8,.3 -2.8,.9 -2.9,1.7 -2.4,2.8 -1.7,3.6 -1.1,4 -.4,3.9 -.1,3.6 .1,3.2 .3,2.8 .2,2.6 .4,2.2 .5,1.9 .5,1.6 .5,1.4 .6,1.2 .6,.9 .6,.7 .6,.7 .6,.6 .5,.5 .6,.5 .5,.5 .6,.5 .6,.3 .7,.4 .8,.3 .8,.3 1,.2 1.1,0 1.3-.2 1.5-.5 1.9-.5 2.3-.8 2.9-1.4 3.9-2.7 4.6-5.3 3.7-8.1 1.2-9.9 -2.2-8.8 -4.4-6.1 -4.8-3.1 -4.2-1.2 -3.8-.3 -3.5,.3 -3.5,1.1 -3.3,1.9 -2.8,2.9 -2.1,3.8 -1.2,4.2 -.8,4.1 -.5,3.6 -.6,3.2 -.8,2.9 -.7,2.4 -.8,2.1 -.7,1.7 -.8,1.4 -.7,1.1 -.7,.9 -.7,.7 -.7,.7 -.6,.6 -.6,.6 -.6,.6 -.7,.6 -.7,.5 -.8,.5 -.9,.5 -1.2,.5 -1.3,.3 -1.7,.1 -2.1-.3 -2.8-1.2 -3.3-2.5 -3.8-4.8 -3.5-7.3 -2.3-9.3 -.1-9.5 1.9-7.7 3.5-4.8 3.9-2.1 3.8-.4 3.5,.5 3.3,1.1 3.4,1.9 3,2.8 2.6,4 1.8,4.6 1.1,4.7 .6,4.4 .4,3.8 .2,3.3 .1,3 0,2.7 -.2,2.4 -.1,2.2 -.2,2 -.2,1.8 -.3,1.5 -.4,1.3 -.4,1.1 -.4,.9 -.4,1 -.3,.9 -.3,1 -.2,1 -.3,.9 -.3,1 -.3,.8 -.4,.8 -.5,.7 -.6,.6 -.7,.5 -.7,.5 -.9,.4 -1.1,.3 -1.3,.4 -1.7,.4 -2,.2 -2.5-.3 -3.3-1.1 -4.4-2.5 -5.7-4.8 -6.2-8.6 -4.9-13 -1.7-15 2.3-13.3 5.3-8.4 6.4-3.5 6.2-.3 5.3,1.2 4.9,2 4.6,3.1 3.8,4.4 2.7,5.7 1.6,6.1 .9,5.5 .5,4.5 .4,3.9 .3,3.7 .5,3.5 .7,3.1 .8,2.7 1,2.2 1.1,1.6 1.1,1.3 1,.9 1,.7 .9,.5 .9,.4 .9,.2 1,.2 .9,.1 1-.1 1.1-.3 1.1-.4 1.3-.7 1.4-1 1.6-1.3 1.9-2 2-3 1.7-4.2 1-5.1 0-5.3 -1.2-4.6 -1.9-3.3 -2.3-2.1 -2.2-1.3 -2.3-.6 -2.4-.2 -2.6,.2 -2.7,.9 -2.7,1.6 -2.4,2.7 -1.7,3.6 -.9,4 -.2,3.9 .1,3.6 .5,3.2 .5,2.7 .7,2.2 .8,1.8 .8,1.5 .9,1.1 .9,.9 .8,.6 .8,.6 .8,.4 .8,.3 .8,.3 .8,.2 .8,.2 1,.1 1-.1 1.1-.3 1.2-.5 1.5-.6 1.7-.9 1.9-1.6 2.4-2.5 2.6-3.9 2.1-5.5 .7-6.3 -.9-5.9 -2.3-4.5 -2.8-2.8 -2.7-1.6 -2.7-.8 -2.6-.2 -2.7,.2 -2.8,.8 -2.9,1.6 -2.4,2.6 -1.9,3.5 -1.1,3.9 -.5,4 -.1,3.6 .1,3.3 .3,2.8 .3,2.6 .4,2.2 .5,1.9 .6,1.6 .6,1.3 .7,1.1 .7,.8 .6,.7 .7,.6 .6,.5 .6,.5 .6,.5 .6,.4 .6,.3 .7,.4 .8,.3 .8,.3 1,.1 1.1,0 1.2-.3 1.5-.4 1.8-.5 2.2-.9 2.8-1.5 3.7-3 4.2-5.2 3.4-7.7 .7-9 -2.3-8.1 -4.1-5.5 -4.3-2.8 -3.9-1.2 -3.5-.4 -3.4,.3 -3.3,1 -3.2,1.7 -2.8,2.8 -2,3.7 -1.3,4.1 -.7,4 -.5,3.7 -.5,3.2 -.6,2.9 -.7,2.5 -.7,2.1 -.6,1.8 -.7,1.5 -.7,1.2 -.7,1 -.6,.8 -.6,.7 -.6,.7 -.5,.6 -.6,.7 -.5,.6 -.7,.5 -.6,.6 -.8,.5 -.9,.5 -1,.5 -1.2,.5 -1.6,.3 -1.9,0 -2.5-.6 -3.2-1.6 -4.1-3.2 -4.5-5.9 -3.9-9 -1.7-10.9 .8-10.3 3.2-7.5 4.3-4.1 4.5-1.4 4.1,.2 3.9,1.1 3.7,1.7 3.5,2.7 3,3.6 2.2,4.8 1.4,5.1 .9,4.7 .6,4.1 .5,3.7 .3,3.3 .3,3 .2,2.8 .3,2.6 .4,2.3 .5,2.1 .5,1.7 .6,1.5 .6,1.2 .5,.9 .6,.8 .6,.7 .4,.7 .5,.7 .4,.6 .5,.6 .4,.6 .5,.5 .6,.5 .6,.4 .7,.4 .7,.4 .9,.3 1.1,.2 1.2-.1 1.4-.3 1.7-.6 2-.6 2.5-.9 3.4-1.4 4.5-2.9 5.4-5.9 4.4-9.4 1.2-11.3 -2.9-10 -5.3-6.4 -5.6-3.1 -4.8-1 -4.2-.1 -3.8,.6 -3.8,1.4 -3.4,2.4 -2.7,3.5 -1.8,4.1 -1.2,4.4 -.8,3.9 -.7,3.6 -.7,3.1 -.8,2.8 -.8,2.4 -.9,1.9 -.8,1.6 -.8,1.3 -.8,1 -.8,.8 -.7,.7 -.7,.7 -.6,.6 -.7,.6 -.8,.5 -.9,.5 -.9,.5 -1.2,.3 -1.4,.2 -1.6-.2 -2.1-.7 -2.6-1.5 -3.2-2.9 -3.3-4.9 -2.8-7 -1.5-8.3 .5-7.9 2.1-5.9 3.1-3.6 3.3-1.6 3.2-.3 3,.4 2.9,.9 3,1.6 2.8,2.5 2.4,3.5 1.8,4.2 1,4.5 .6,4.2 .2,3.7 -.1,3.2 -.2,2.8 -.4,2.3 -.4,2 -.5,1.7 -.6,1.4 -.6,1.2 -.6,.9 -.6,.8 -.6,.6 -.6,.7 -.6,.6 -.6,.6 -.6,.6 -.7,.5 -.8,.5 -.9,.5 -1,.5 -1.3,.4 -1.5,.2 -2-.1 -2.5-.9 -3.2-2 -3.8-3.9 -3.8-6.5 -3.1-8.8 -1-9.9 1.3-8.7 3.2-5.9 4-3 4-.9 3.6,.2 3.5,1 3.4,1.6 3.2,2.6 2.8,3.6 2,4.6 1.3,4.8 .8,4.5 .5,4 .3,3.5 .2,3.1 0,2.8 0,2.6 -.1,2.3 -.1,2.2 -.1,1.9 -.2,1.8 -.3,1.5 -.3,1.2 -.5,1.1 -.4,.9 -.3,1 -.3,1 -.2,1.1 -.1,1.1 -.2,1.1 -.2,1.1 -.2,1 -.4,.9 -.3,.8 -.5,.7 -.5,.6 -.7,.5 -.8,.4 -.9,.4 -1.1,.3 -1.3,.3 -1.6,.3 -2,.2 -2.5-.1 -3.3-.9 -4.3-2.1 -5.7-4.2 -6.7-8 -6-12.7 -3-15.8 1.4-15.1 5.2-10.7 6.8-5.3 6.6-1.1 6,1.1 5.4,2.1 4.9,3.2 4.3,4.4 3,5.8 1.8,6.4 .9,5.8 .4,4.7 .3,4.1 .3,3.8 .5,3.6 .6,3.4 .9,2.8 1.1,2.4 1.1,1.7 1.1,1.4 1.1,.9 1.1,.8 1,.5 .9,.3 1,.2 1,.1 1-.1 1.1-.2 1.1-.5 1.2-.6 1.4-1 1.4-1.3 1.7-1.8 1.7-2.7 1.7-3.6 1.2-4.6 .4-4.9 -.8-4.5 -1.6-3.5 -2-2.4 -2.1-1.4 -2.1-.9 -2.2-.4 -2.4,0 -2.5,.4 -2.7,1.2 -2.6,2.1 -2.1,3.2 -1.3,3.9 -.5,4.1 .1,3.8 .5,3.4 .6,2.8 .8,2.4 .9,1.9 .9,1.5 1,1.1 .9,.9 .9,.7 .9,.5 .9,.4 .8,.3 .9,.1 .9,.1 1,0 1-.2 1.2-.4 1.2-.6 1.4-.9 1.6-1.2 1.7-1.8 2-2.7 1.9-3.9 1.4-4.9 .3-5.4 -.9-4.9 -1.8-3.8 -2.3-2.4 -2.3-1.4 -2.3-.8 -2.4-.3 -2.5,.1 -2.7,.7 -2.7,1.4 -2.5,2.4 -1.9,3.4 -1.1,4 -.4,4 0,3.7 .4,3.2 .5,2.8 .6,2.4 .7,2 .9,1.5 .8,1.3 .9,.9 .8,.7 .8,.6 .8,.5 .8,.3 .8,.4 .8,.2 .8,.2 .9,.1 .9,0 1.1-.1 1.2-.4 1.3-.6 1.6-.7 1.8-1.2 2.2-1.9 2.5-3.2 2.2-4.7 1.3-6 -.1-6.3 -1.5-5.4 -2.4-3.9 -2.7-2.2 -2.7-1.2 -2.7-.5 -2.7,0 -2.8,.5 -2.9,1.2 -2.7,2.2 -2.2,3.1 -1.4,3.8 -.8,4 -.3,3.8 .1,3.4 .2,3.1 .2,2.7 .3,2.4 .4,2.1 .5,1.8 .6,1.5 .6,1.3 .6,1 .6,.8 .6,.7 .6,.6 .6,.5 .5,.6 .6,.5 .6,.4 .6,.4 .6,.4 .8,.3 .8,.3 .9,.2 1.1,.1 1.2-.2 1.4-.3 1.7-.6 2.1-.7 2.7-1.2 3.5-2.1 4.2-4.2 3.8-6.9 1.7-9.1 -1.3-9.1 -3.5-7 -4.3-4.2 -4.1-2 -3.7-.7 -3.5,.1 -3.5,.7 -3.4,1.6 -3,2.4 -2.3,3.6 -1.5,4.1 -.9,4.2 -.6,3.8 -.5,3.3 -.7,3 -.7,2.6 -.8,2.2 -.7,1.9 -.7,1.5 -.8,1.2 -.7,1 -.7,.8 -.6,.7 -.7,.6 -.6,.6 -.5,.6 -.7,.6 -.6,.6 -.8,.5 -.8,.5 -1,.5 -1.2,.4 -1.5,.3 -1.8,0 -2.4-.6 -3-1.6 -3.8-3.1 -4.1-5.5 -3.4-8.3 -1.7-9.9 .7-9.5 2.9-6.9 3.8-4 4.1-1.4 3.8,0 3.5,.9 3.5,1.4 3.3,2.3 2.9,3.3 2.3,4.3 1.5,4.8 1,4.7 .5,4.1 .4,3.7 .2,3.2 .1,2.9 0,2.7 -.1,2.4 0,2.2 -.1,2.1 -.1,1.8 -.1,1.7 -.3,1.4 -.4,1.1 -.5,1 -.4,1 -.2,1 -.2,1.2 -.1,1.1 -.2,1.2 -.1,1.1 -.1,1.2 -.2,1.1 -.3,1 -.3,.8 -.5,.7 -.4,.7 -.6,.6 -.8,.4 -.8,.3 -1.1,.3 -1.2,.2 -1.5,.2 -1.8,.3 -2.3,.1 -2.8-.6 -3.7-1.6 -5-3.2 -6.5-5.8 -6.8-10.1 -5.3-14.7 -1.2-16.7 3.1-14.2 6.4-8.6 7.1-3.2 6.8,.3 5.8,1.8 5.4,2.6 4.8,3.8 4,5.1 2.4,6.4 1.2,6.3 .5,5.4 .2,4.4 .3,3.9 .3,3.8 .6,3.6 .9,3.2 1,2.7 1.1,2.1 1.2,1.6 1.1,1.1 1.1,.9 1,.6 1.1,.3 1,.3 1,.1 1-.1 1.1-.2 1.1-.5 1.3-.7 1.3-.9 1.4-1.4 1.6-1.8 1.7-2.6 1.6-3.5 1.2-4.3 .4-4.8 -.6-4.4 -1.5-3.5 -1.9-2.4 -2-1.5 -2.1-.9 -2.1-.5 -2.3-.1 -2.5,.3 -2.7,1 -2.6,1.9 -2.2,3.1 -1.4,3.8 -.6,4.1 .1,4 .5,3.4 .6,3 .9,2.4 .9,1.9 1,1.5 1,1.2 .9,.8 1,.7 .9,.5 .9,.3 .9,.3 1,.1 .9,0 1.1-.2 1.1-.3 1.1-.6 1.4-.8 1.4-1.1 1.6-1.6 1.8-2.3 1.8-3.3 1.5-4.4 .7-5 -.4-4.8 -1.4-4 -1.9-2.8 -2.2-1.8 -2.1-1.1 -2.3-.5 -2.3-.2 -2.5,.3 -2.7,.9 -2.7,1.9 -2.2,2.8 -1.6,3.8 -.7,4 -.1,4 .3,3.5 .5,3 .7,2.6 .8,2 .9,1.7 .9,1.3 1,.9 .9,.8 .8,.6 .9,.4 .8,.4 .9,.2 .8,.2 .9,.1 1,0 1-.2 1.2-.4 1.3-.6 1.4-.9 1.7-1.2 1.9-1.9 2-2.8 2-4.2 1.2-5.3 .2-5.6 -1.1-5 -2-3.7 -2.3-2.4 -2.5-1.3 -2.4-.6 -2.4-.2 -2.6,.2 -2.8,.9 -2.8,1.6 -2.3,2.8 -1.8,3.5 -.9,4 -.4,3.9 .1,3.6 .3,3.2 .5,2.7 .6,2.4 .6,1.9 .7,1.6 .8,1.3 .8,1 .8,.7 .8,.6 .8,.5 .7,.5 .7,.3 .8,.3 .7,.3 .8,.2 .9,.2 1,0 1-.1 1.3-.4 1.4-.5 1.6-.7 2-1.2 2.5-1.9 2.8-3.4 2.5-5.1 1.4-6.6 -.3-6.9 -1.8-5.8 -2.8-4 -3-2.2 -2.9-1.1 -2.9-.4 -2.9,.1 -2.9,.7 -3,1.5 -2.6,2.5 -2,3.4 -1.4,3.9 -.7,4 -.2,3.7 0,3.3 0,3 0,2.7 .1,2.4 0,2.3 .1,2 .1,1.9 .2,1.6 .2,1.5 .4,1.3 .6,1.1 .5,1 .4,.9 .4,.9 .2,.9 .2,.9 .1,1 .2,.9 .2,.9 .2,.8 .2,.9 .3,.7 .4,.7 .4,.5 .6,.5 .6,.5 .7,.4 .8,.3 1,.2 1.2,.1 1.4-.2 1.7-.6 1.9-.9 2.3-1.1 3-1.1 3.9-1.5 5.8-2.7 7.2-6.2 6.3-10.7 1.8-14.3 -3.4-13.2 -7-8.9 -7.2-3.9 -6.2-1 -5.1,.3 -4.7,1 -4.2,2 -3.7,3.1 -2.8,4.2 -1.8,4.6 -1.1,4.5 -.8,3.9 -.7,3.6 -.7,3.3 -.8,2.9 -.8,2.5 -.8,2.1 -.9,1.7 -.8,1.4 -.9,1.1 -.8,.9 -.8,.8 -.9,.7 -.9,.6 -1,.5 -1.1,.3 -1.3,.1 -1.6-.3 -1.8-.8 -2.1-1.4 -2.4-2.6 -2.6-3.9 -2.4-5.4 -1.7-6.5 -.3-6.7 1.1-5.5 2.2-3.8 2.6-2.1 2.6-.9 2.5-.1 2.4,.3 2.5,.7 2.5,1.4 2.5,2.3 2.3,3.1 1.6,4 .9,4.2 .4,4 -.1,3.6 -.4,3 -.5,2.5 -.6,2 -.6,1.7 -.7,1.4 -.8,1.1 -.7,1 -.7,.8 -.7,.7 -.8,.7 -.8,.6 -.9,.5 -1.1,.4 -1.1,.2 -1.4,0 -1.7-.4 -2-1.1 -2.3-1.9 -2.6-3.2 -2.6-4.7 -2.3-6.3 -1.1-7 .4-6.4 1.8-4.9 2.6-3 2.7-1.4 2.7-.4 2.5,.1 2.6,.6 2.6,1.2 2.6,1.9 2.4,2.9 1.9,3.8 1.2,4.2 .5,4.2 .1,3.7 -.2,3.2 -.4,2.7 -.5,2.3 -.6,1.8 -.7,1.5 -.7,1.3 -.7,1 -.7,.8 -.7,.8 -.7,.7 -.7,.6 -.8,.6 -.9,.5 -.9,.4 -1.2,.3 -1.3,.1 -1.6-.3 -2-.8 -2.4-1.6 -2.7-2.7 -3-4.6 -2.6-6.3 -1.4-7.4 .2-7.1 1.8-5.6 2.7-3.5 2.9-1.7 2.9-.5 2.7,.2 2.7,.6 2.7,1.2 2.7,2 2.5,3 1.9,3.9 1.2,4.3 .7,4.2 .1,3.8 -.1,3.2 -.3,2.8 -.5,2.3 -.5,2 -.6,1.5 -.7,1.3 -.7,1.1 -.6,.9 -.7,.7 -.7,.7 -.6,.6 -.7,.6 -.7,.6 -.9,.5 -.9,.5 -1,.3 -1.3,.3 -1.6-.1 -1.9-.4 -2.4-1.2 -2.8-2.4 -3.2-4.2 -3-6.3 -2-7.8 -.4-8.1 1.5-6.7 2.7-4.4 3.3-2.2 3.2-.7 3,.1 2.9,.7 3,1.2 2.8,2.2 2.6,3.1 2,4 1.3,4.5 .7,4.3 .4,3.9 0,3.4 -.2,2.9 -.3,2.5 -.4,2.1 -.5,1.8 -.6,1.5 -.6,1.2 -.6,1 -.6,.8 -.7,.7 -.6,.6 -.5,.6 -.6,.6 -.7,.6 -.6,.5 -.8,.6 -.9,.5 -1,.4 -1.2,.5 -1.6,.2 -1.9-.1 -2.4-.8 -3-1.9 -3.7-3.6 -3.7-6.1 -3.2-8.4 -1.3-9.7 1-8.8 3-6.2 3.8-3.3 4-1.1 3.6,.2 3.4,.9 3.4,1.4 3.2,2.4 2.9,3.4 2.1,4.4 1.4,4.8 .8,4.6 .6,4 .3,3.6 .1,3.1 0,2.8 -.1,2.6 -.2,2.3 -.1,2.1 -.3,1.8 -.2,1.7 -.4,1.3 -.4,1.2 -.4,1 -.4,.9 -.4,.9 -.3,1 -.2,1 -.3,.9 -.3,1 -.3,.8 -.4,.8 -.5,.7 -.5,.6 -.7,.6 -.7,.5 -.9,.4 -1,.4 -1.3,.4 -1.5,.3 -1.9,.3 -2.4-.1 -3.1-.8 -4.2-2 -5.4-4 -6.2-7.7 -5.3-12.1 -2.4-14.7 1.5-13.9 4.8-9.6 6.2-4.7 6.1-1 5.5,1 5,1.9 4.6,2.8 4.1,4.1 3,5.5 1.8,6 1.1,5.7 .5,4.7 .4,4.1 .3,3.7 .4,3.5 .7,3.2 .8,2.8 .9,2.3 1.1,1.8 1.1,1.3 1,1 1,.7 .9,.6 .9,.4 .9,.3 .9,.2 .9,.1 1,0 1-.2 1.2-.4 1.2-.5 1.4-.8 1.5-1.2 1.8-1.8 1.9-2.6 1.9-3.8 1.5-4.9 .5-5.4 -.8-5 -1.8-3.8 -2.2-2.6 -2.4-1.4 -2.3-.9 -2.3-.3 -2.5,.1 -2.7,.6 -2.8,1.3 -2.5,2.4 -2,3.3 -1.2,3.9 -.4,4 0,3.8 .3,3.3 .5,2.8 .6,2.4 .8,2 .8,1.6 .8,1.3 .9,.9 .8,.8 .8,.6 .8,.4 .8,.4 .8,.3 .8,.3 .8,.2 .8,.1 1,.1 1-.2 1.2-.3 1.3-.5 1.6-.8 1.8-1.1 2.1-1.8 2.4-3 2.3-4.6 1.6-5.8 .1-6.4 -1.4-5.6 -2.3-4.1 -2.7-2.4 -2.7-1.3 -2.7-.5 -2.7-.1 -2.8,.5 -2.9,1.1 -2.8,2 -2.2,3 -1.6,3.8 -.8,4 -.3,3.8 0,3.5 .1,3.1 .2,2.8 .4,2.4 .3,2.1 .5,1.9 .5,1.5 .6,1.4 .6,1 .6,.9 .6,.7 .6,.6 .6,.6 .5,.5 .6,.5 .6,.5 .6,.4 .6,.3 .7,.4 .8,.3 .9,.3 1,.1 1.2-.1 1.4-.3 1.6-.5 2-.6 2.4-1 2.9-2 3.7-3.8 3.6-6.3 2.6-8.4 -.1-9.1 -2.4-7.8 -3.9-5.1 -4.2-2.5 -3.9-1 -3.6,0 -3.5,.5 -3.4,1.2 -3.2,2.2 -2.5,3.4 -1.7,4 -1.1,4.2 -.7,3.8 -.5,3.5 -.7,3.1 -.7,2.7 -.7,2.3 -.8,2 -.7,1.6 -.8,1.3 -.7,1 -.7,.8 -.7,.7 -.6,.7 -.6,.6 -.6,.6 -.7,.6 -.6,.6 -.8,.5 -.8,.5 -1,.5 -1.2,.4 -1.4,.3 -1.8,0 -2.3-.5 -2.9-1.5 -3.6-2.9 -4.1-5.3 -3.5-8 -1.8-9.7 .5-9.4 2.7-7.1 3.8-4.1 4-1.6 3.7-.1 3.5,.8 3.4,1.3 3.3,2.1 3,3.2 2.3,4.2 1.6,4.7 1,4.7 .6,4.2 .4,3.7 .1,3.2 .1,2.9 -.1,2.7 -.1,2.3 -.1,2.2 -.1,2 -.2,1.8 -.3,1.6 -.3,1.2 -.4,1.1 -.5,.9 -.4,1 -.3,1 -.2,1 -.2,1 -.2,1 -.3,1 -.3,1 -.3,.8 -.5,.7 -.5,.7 -.6,.6 -.7,.5 -.9,.3 -1,.4 -1.2,.3 -1.4,.3 -1.8,.4 -2.3,.1 -2.9-.5 -3.8-1.6 -4.9-3.5 -5.9-6.5 -5.6-10.8 -3.8-14.2 -.1-15 3.4-12 5.7-7 6.3-2.4 6,.5 5.3,1.9 5,2.6 4.4,3.8 3.6,5 2.2,6.2 1.1,6 .6,5.2 .4,4.2 .3,3.8 .4,3.7 .6,3.4 .8,3 .9,2.5 1.1,1.9 1.1,1.5 1.1,1.1 1,.8 1,.6 .9,.4 1,.3 .9,.2 1,.1 1-.1 1-.3 1.2-.4 1.2-.7 1.4-1 1.6-1.3 1.7-1.9 1.8-2.8 1.7-4 1.1-4.8 .1-5.1 -.9-4.5 -1.7-3.5 -2.1-2.2 -2.2-1.3 -2.3-.8 -2.2-.3 -2.5,.1 -2.6,.7 -2.8,1.4 -2.5,2.4 -1.8,3.4 -1.1,4 -.4,4 .2,3.8 .4,3.2 .6,2.7 .8,2.3 .8,1.9 .9,1.4 .9,1.1 .9,.9 .9,.7 .8,.5 .9,.4 .8,.3 .8,.3 .9,.1 .9,.1 1-.1 1-.2 1.2-.5 1.3-.6 1.6-.9 1.8-1.3 2-2.1 2.3-3.2 2-4.7 1-5.6 -.4-5.8 -1.6-4.7 -2.2-3.3 -2.5-2 -2.5-1.1 -2.4-.6 -2.6,0 -2.7,.4 -2.8,1.1 -2.6,2.1 -2.2,3 -1.5,3.8 -.8,4 -.1,3.8 .1,3.5 .4,3 .4,2.6 .5,2.3 .7,1.9 .7,1.5 .7,1.3 .8,.9 .8,.7 .7,.6 .8,.5 .7,.5 .6,.4 .8,.3 .7,.3 .8,.2 .8,.2 .9,.1 1.1,0 1.2-.3 1.3-.4 1.7-.5 1.9-1 2.3-1.7 2.8-3 3.1-4.7 2.4-6.6 .6-7.4 -1.5-6.6 -3-4.8 -3.4-2.7 -3.2-1.3 -3-.5 -3,0 -3,.6 -3.1,1.4 -2.8,2.2 -2.2,3.3 -1.5,3.8 -.8,4.1 -.3,3.7 -.2,3.4 -.1,3.1 -.1,2.7 -.2,2.5 -.3,2.3 -.2,2 -.2,1.9 -.3,1.6 -.3,1.4 -.5,1.2 -.5,1 -.5,.9 -.3,1 -.2,1.2 -.1,1.1 -.2,1.2 -.1,1.2 -.1,1.2 -.1,1.2 -.2,1 -.3,.9 -.4,.8 -.4,.7 -.6,.7 -.6,.5 -.8,.4 -.9,.2 -1.1,.3 -1.4,.1 -1.6,.3 -1.9,.2 -2.5-.1 -3.2-.8 -4.2-1.9 -5.3-4 -6.5-7.4 -6-11.9 -3.8-15.7 .1-16.3 3.9-12.9 6.4-7.2 6.9-2.1 6.5,.8 5.8,2.2 5.3,3.1 4.6,4.5 3.4,5.9 1.9,6.6 1,6 .3,5 .3,4.1 .2,3.9 .5,3.8 .6,3.5 .9,3.1 1.1,2.5 1.1,1.9 1.2,1.4 1.2,1.1 1.1,.7 1,.5 1,.3 1.1,.2 1,0 1.1-.1 1.1-.4 1.2-.6 1.2-.8 1.4-1.1 1.5-1.6 1.6-2.2 1.6-3 1.5-4 .8-4.5 -.1-4.7 -1.1-3.9 -1.7-2.9 -2-1.9 -2-1.2 -2-.7 -2.2-.3 -2.3,.1 -2.6,.6 -2.7,1.4 -2.5,2.4 -1.8,3.4 -1.1,4.1 -.2,4.1 .3,3.8 .6,3.2 .8,2.7 .9,2.1 1,1.7 1,1.4 1,1 .9,.7 1,.6 .9,.4 1,.2 .9,.2 1,0 1-.1 1.1-.3 1.1-.5 1.3-.8 1.4-1 1.5-1.5 1.7-2.1 1.8-3 1.5-4 1-4.8 -.1-4.9 -1.1-4.2 -1.8-3.1 -2-2 -2.2-1.3 -2.1-.6 -2.3-.3 -2.4,.1 -2.6,.7 -2.7,1.5 -2.5,2.6 -1.8,3.4 -.9,4.1 -.3,4 .3,3.7 .5,3.2 .7,2.6 .8,2.2 .9,1.8 .9,1.3 .9,1.1 1,.8 .9,.6 .8,.5 .9,.3 .9,.3 .8,.1 1,.1 1-.1 1-.2 1.2-.5 1.2-.6 1.5-.9 1.6-1.4 1.9-1.9 2-3 1.8-4.2 1.1-5.2 0-5.4 -1.2-4.7 -1.9-3.5 -2.3-2.1 -2.4-1.3 -2.3-.6 -2.4-.2 -2.6,.3 -2.7,.8 -2.7,1.7 -2.4,2.7 -1.7,3.6 -.9,4 -.3,3.9 .2,3.6 .4,3.2 .5,2.7 .6,2.2 .8,1.9 .8,1.5 .8,1.2 .8,.9 .9,.6 .8,.6 .8,.4 .7,.4 .8,.3 .8,.3 .8,.2 .9,.1 .9,0 1.1-.2 1.2-.3 1.3-.6 1.6-.7 1.9-1.2 2.3-1.9 2.5-3.2 2.3-4.9 1.3-6.1 -.2-6.5 -1.6-5.4 -2.5-3.9 -2.7-2.2 -2.8-1.2 -2.7-.4 -2.7,0 -2.9,.6 -2.8,1.3 -2.7,2.2 -2.2,3.2 -1.4,3.8 -.8,4 -.2,3.8 0,3.4 .2,3 .2,2.7 .3,2.5 .3,2.1 .5,1.8 .4,1.6 .6,1.3 .5,1.1 .6,.9 .6,.8 .6,.6 .5,.6 .5,.6 .5,.5 .5,.5 .6,.5 .6,.4 .6,.4 .8,.4 .8,.3 .9,.2 1.1,.1 1.3-.2 1.5-.4 1.7-.6 2.2-.7 2.7-1.2 3.7-2.2 4.4-4.4 4-7.2 1.9-9.6 -1.3-9.5 -3.7-7.5 -4.5-4.4 -4.3-2 -4-.6 -3.6,.2 -3.7,.8 -3.4,1.7 -3.1,2.6 -2.2,3.8 -1.5,4.2 -.8,4.2 -.7,3.8 -.6,3.3 -.8,3 -.7,2.5 -.8,2.2 -.8,1.8 -.8,1.4 -.8,1.2 -.7,.9 -.7,.7 -.7,.7 -.6,.6 -.7,.6 -.6,.6 -.7,.6 -.8,.5 -.9,.5 -1,.4 -1.2,.4 -1.5,.2 -1.8-.1 -2.3-.8 -2.9-1.9 -3.5-3.5 -3.5-5.8 -3-8 -1.2-9.2 .9-8.3 2.7-5.9 3.6-3.3 3.7-1.1 3.4,0 3.3,.8 3.2,1.3 3.1,2.2 2.9,3.1 2.1,4.2 1.5,4.6 .9,4.5 .5,4.1 .2,3.5 0,3.2 -.1,2.7 -.2,2.4 -.3,2.2 -.4,1.8 -.4,1.6 -.4,1.4 -.5,1.1 -.5,1 -.5,.8 -.5,.8 -.4,.7 -.5,.8 -.4,.7 -.5,.7 -.5,.6 -.6,.6 -.7,.5 -.8,.5 -.9,.5 -1.1,.5 -1.3,.5 -1.6,.3 -2.1,.1 -2.6-.5 -3.5-1.6 -4.5-3.3 -5.2-6.3 -4.6-9.9 -2.3-12.2 .9-11.8 3.6-8.7 5-4.7 5.1-1.5 4.7,.4 4.3,1.3 4.1,2.1 3.8,3.1 3.1,4.2 2.2,5.3 1.3,5.4 .9,4.9 .6,4.1 .5,3.7 .3,3.4 .4,3.2 .5,2.8 .6,2.5 .7,2 .9,1.7 .8,1.3 .9,.9 .8,.8 .8,.6 .7,.5 .8,.4 .7,.4 .7,.3 .7,.3 .8,.3 .8,.2 1,.1 1-.1 1.2-.3 1.4-.4 1.6-.6 2-.9 2.3-1.8 2.8-3 2.9-4.9 2.3-6.6 .6-7.3 -1.5-6.6 -3-4.7 -3.3-2.7 -3.2-1.3 -3-.5 -3,.1 -3,.7 -3.1,1.3 -2.7,2.3 -2.2,3.3 -1.5,3.9 -.8,4 -.4,3.8 -.1,3.3 -.1,3.1 -.1,2.7 -.3,2.5 -.2,2.2 -.2,2.1 -.3,1.8 -.3,1.6 -.3,1.4 -.5,1.2 -.5,.9 -.5,1 -.3,1 -.2,1.1 -.1,1.2 -.1,1.2 -.2,1.1 -.1,1.2 -.2,1.2 -.2,1 -.3,.8 -.4,.8 -.4,.7 -.6,.6 -.7,.5 -.8,.3 -1,.3 -1.1,.2 -1.4,.3 -1.7,.2 -2,.2 -2.7-.3 -3.4-1 -4.5-2.2 -5.9-4.5 -7-8.3 -6.3-13.4 -3.2-16.6 1.6-15.8 5.5-11.1 7.2-5.4 7-1 6.2,1.3 5.6,2.3 5.1,3.4 4.3,4.7 3,6.2 1.7,6.5 .7,5.8 .4,4.7 .2,4 .3,3.9 .5,3.7 .7,3.4 1,2.9 1.1,2.3 1.1,1.8 1.2,1.3 1.1,1 1.1,.7 1,.4 1,.3 1.1,.1 1,0 1.1-.2 1.1-.4 1.2-.6 1.3-.8 1.4-1.2 1.5-1.7 1.6-2.3 1.7-3.2 1.3-4.1 .7-4.7 -.3-4.6 -1.3-3.7 -1.8-2.7 -1.9-1.8 -2-1.1 -2.1-.6 -2.2-.2 -2.4,.1 -2.6,.8 -2.7,1.5 -2.4,2.7 -1.7,3.6 -.9,4.1 -.1,4.1 .4,3.6 .6,3.1 .8,2.6 .9,2.1 1,1.6 1,1.3 1,.9 1,.7 .9,.6 .9,.3 1,.3 .9,.1 1,.1 1-.2 1.1-.3 1.1-.5 1.3-.8 1.4-1 1.6-1.6 1.7-2.1 1.8-3.1 1.5-4.2 .9-4.8 -.2-5 -1.2-4.1 -1.8-3 -2.1-2 -2.1-1.1 -2.2-.6 -2.3-.3 -2.5,.2 -2.6,.8 -2.7,1.6 -2.4,2.6 -1.7,3.6 -.9,4.1 -.2,4 .3,3.6 .5,3.1 .7,2.6 .8,2.2 .9,1.7 .9,1.3 .9,1.1 .9,.7 .9,.6 .9,.5 .8,.4 .9,.2 .9,.2 .9,.1 1-.1 1-.2 1.2-.4 1.2-.6 1.5-.9 1.6-1.3 1.9-1.9 2-2.9 1.8-4.1 1.2-5.2 .1-5.5 -1.1-4.9 -1.9-3.6 -2.3-2.3 -2.4-1.3 -2.3-.6 -2.5-.2 -2.5,.2 -2.8,.8 -2.7,1.7 -2.4,2.7 -1.8,3.5 -.9,4 -.3,4 .1,3.6 .4,3.1 .4,2.8 .6,2.3 .7,1.9 .8,1.5 .8,1.2 .9,1 .8,.7 .8,.6 .8,.4 .7,.4 .7,.4 .8,.3 .8,.2 .8,.2 1,0 1,0 1.1-.3 1.3-.4 1.5-.6 1.8-.9 2.1-1.6 2.7-2.7 2.8-4.2 2.4-5.9 .7-6.8 -1.3-6.3 -2.7-4.7 -3-2.7 -3-1.5 -2.8-.7 -2.8-.1 -2.8,.4 -3,1 -2.8,1.8 -2.4,3 -1.7,3.6 -1,4 -.4,3.9 -.1,3.5 .1,3.2 .1,2.9 .2,2.5 .2,2.3 .3,2.1 .3,1.8 .4,1.5 .5,1.4 .5,1.1 .5,.9 .5,.8 .5,.7 .5,.7 .4,.7 .4,.6 .4,.7 .5,.6 .4,.5 .6,.4 .6,.5 .7,.4 .8,.3 .9,.3 1,.2 1.3-.1 1.4-.3 1.8-.6 2-.7 2.6-.9 3.5-1.5 4.7-3.2 5.6-6.1 4.4-9.6 .9-11.5 -3.1-10.1 -5.6-6.4 -5.7-3 -4.8-.9 -4.2,0 -3.9,.7 -3.8,1.5 -3.4,2.5 -2.6,3.6 -1.8,4.2 -1.2,4.4 -.8,3.9 -.7,3.5 -.7,3.1 -.8,2.8 -.8,2.3 -.9,2 -.8,1.5 -.8,1.3 -.8,.9 -.8,.9 -.7,.7 -.7,.6 -.7,.7 -.7,.5 -.8,.6 -.9,.5 -1.1,.4 -1.2,.2 -1.5,.1 -1.8-.4 -2.2-1 -2.7-2.1 -3-3.7 -3-5.6 -2.3-7.5 -.9-8 .9-7.1 2.5-4.9 3.1-2.7 3.2-1.1 3,0 2.9,.6 2.9,1.1 2.9,1.8 2.7,2.8 2.1,3.7 1.6,4.4 .8,4.4 .5,4 0,3.5 -.1,3 -.4,2.6 -.4,2.2 -.5,1.8 -.6,1.6 -.6,1.2 -.6,1 -.6,.9 -.7,.7 -.6,.6 -.6,.6 -.6,.6 -.6,.6 -.7,.6 -.8,.5 -.9,.5 -1,.4 -1.3,.4 -1.5,.2 -1.9-.2 -2.5-.9 -3-2.1 -3.6-3.8 -3.6-6.3 -2.9-8.6 -.9-9.4 1.2-8.2 3-5.7 3.8-2.8 3.8-.9 3.5,.1 3.3,.9 3.3,1.5 3.1,2.4 2.8,3.5 2,4.4 1.3,4.7 .8,4.5 .5,3.9 .2,3.5 .1,3.1 -.1,2.7 -.2,2.5 -.2,2.1 -.3,1.9 -.4,1.7 -.4,1.5 -.4,1.2 -.4,1 -.5,.9 -.4,.8 -.4,.9 -.4,.8 -.3,.8 -.4,.8 -.5,.8 -.5,.6 -.6,.6 -.6,.5 -.8,.5 -.9,.5 -1,.4 -1.3,.5 -1.5,.4 -2,.3 -2.5-.3 -3.3-1.2 -4.2-2.7 -5.2-5.3 -5.1-8.9 -3.7-12.3 -.6-13.2 2.5-11 4.8-6.7 5.6-2.7 5.3,0 4.7,1.2 4.5,1.9 4.1,2.8 3.5,4.1 2.5,5.4 1.6,5.6 1,5.3 .6,4.4 .4,3.8 .4,3.6 .4,3.3 .5,3 .8,2.5 .8,2.2 1,1.6 .9,1.3 1,1 .9,.7 .9,.5 .8,.5 .8,.4 .8,.3 .8,.2 .8,.2 .9,0 1,0 1.1-.2 1.2-.4 1.4-.6 1.7-.9 1.9-1.3 2.4-2.2 2.5-3.5 2.2-5.2 .9-6.3 -.6-6.1 -2-5 -2.6-3.2 -2.7-1.9 -2.7-.9 -2.6-.4 -2.7,.1 -2.9,.6 -2.8,1.5 -2.6,2.4 -2,3.4 -1.3,3.9 -.6,3.9 -.1,3.7 .1,3.3 .2,3 .3,2.6 .3,2.3 .5,2 .5,1.7 .6,1.4 .6,1.2 .6,.9 .7,.8 .6,.6 .6,.5 .6,.6 .6,.5 .5,.4 .7,.4 .6,.4 .7,.3 .8,.3 .9,.3 1,.1 1.1-.1 1.4-.3 1.6-.4 1.9-.6 2.4-1 2.8-2 3.6-3.8 3.5-6 2.4-8.1 0-8.9 -2.4-7.5 -3.7-5.1 -4-2.5 -3.8-1 -3.5-.1 -3.4,.5 -3.4,1.1 -3.1,2.1 -2.6,3.3 -1.8,3.9 -1,4.1 -.7,3.9 -.5,3.5 -.6,3.2 -.7,2.7 -.7,2.4 -.7,1.9 -.7,1.7 -.7,1.4 -.7,1.1 -.7,.8 -.7,.8 -.6,.6 -.6,.6 -.6,.7 -.5,.6 -.7,.5 -.6,.6 -.8,.5 -.9,.5 -1,.5 -1.2,.4 -1.6,.3 -1.9,0 -2.5-.7 -3.1-1.8 -4-3.4 -4.2-6 -3.4-8.9 -1.5-10.3 1-9.6 3.1-6.8 4.1-3.6 4.2-1.2 3.9,.2 3.7,1 3.5,1.6 3.4,2.6 2.9,3.5 2.1,4.7 1.4,4.9 .9,4.6 .6,4.1 .4,3.6 .2,3.2 .2,2.9 .1,2.8 .1,2.5 .1,2.3 .2,2.1 .2,1.9 .2,1.8 .2,1.5 .4,1.4 .5,1.3 .7,1.1 .5,1.1 .4,.9 .1,1 .2,1 0,1 .1,1.1 0,1.1 .1,1 .1,1 .1,1 .1,1 .1,.9 .3,.8 .3,.6 .4,.6 .5,.5 .5,.5 .7,.4 .8,.3 .9,.2 1.2,.1 1.4-.2 1.6-.6 1.9-.9 2.2-1.2 2.8-1.3 3.4-1.4 4.8-2 6.9-4.3 7.5-8.5 5.6-13.2 -.2-15.5 -5.3-13 -8-7.7 -7.4-2.8 -6.2-.3 -5.3,.9 -4.8,1.5 -4.3,2.7 -3.5,3.6 -2.2,4.9 -1.4,4.7 -.8,4.5 -.8,3.8 -.6,3.6 -.7,3.2 -.7,2.9 -.8,2.5 -.8,2 -.9,1.7 -.9,1.3 -.9,1.1 -.9,.9 -.9,.8 -1,.6 -1.1,.5 -1.2,.2 -1.4,0 -1.6-.4 -1.9-1 -2.1-1.8 -2.4-2.9 -2.5-4.2 -2.2-5.6 -1.3-6.3 0-6.2 1.4-4.9 2.2-3.2 2.5-1.7 2.4-.8 2.3-.1 2.3,.3 2.3,.7 2.5,1.3 2.5,2.2 2.2,3.1 1.6,3.9 .9,4.2 .3,4 -.2,3.6 -.4,3 -.5,2.5 -.7,2.1 -.7,1.7 -.7,1.3 -.8,1.2 -.8,.9 -.8,.8 -.8,.8 -.9,.6 -.9,.5 -1.1,.4 -1.3,.1 -1.4-.1 -1.7-.6 -2-1.3 -2.2-2.2 -2.5-3.4 -2.4-4.9 -1.9-6 -.9-6.5 .6-5.8 1.8-4.3 2.4-2.6 2.5-1.3 2.4-.4 2.4,.1 2.3,.5 2.5,1 2.5,1.7 2.4,2.7 1.9,3.6 1.3,4.1 .5,4.2 .1,3.8 -.3,3.3 -.5,2.7 -.5,2.3 -.7,1.8 -.7,1.5 -.7,1.3 -.8,1 -.7,.9 -.8,.8 -.8,.7 -.9,.6 -.9,.4 -1.1,.4 -1.3,.1 -1.4-.1 -1.8-.6 -2-1.3 -2.3-2.3 -2.4-3.5 -2.5-5 -1.9-6.2 -.8-6.7 .7-5.8 1.9-4.3 2.5-2.5 2.6-1.2 2.5-.3 2.4,.2 2.4,.5 2.5,1.2 2.6,1.9 2.3,2.9 1.9,3.8 1.1,4.1 .5,4.2 0,3.7 -.3,3.2 -.5,2.6 -.6,2.2 -.6,1.8 -.7,1.4 -.7,1.2 -.7,1 -.8,.9 -.7,.8 -.8,.6 -.8,.6 -.9,.6 -1,.4 -1.2,.2 -1.3,0 -1.7-.4 -1.9-.9 -2.3-1.8 -2.5-3 -2.7-4.5 -2.3-6 -1.3-6.9 .3-6.6 1.6-5 2.5-3.2 2.7-1.6 2.6-.6 2.6,.1 2.5,.5 2.5,1 2.6,1.8 2.5,2.8 2,3.6 1.3,4.2 .6,4.2 .2,3.8 -.2,3.3 -.4,2.8 -.5,2.3 -.6,1.9 -.7,1.5 -.7,1.3 -.7,1 -.7,.9 -.7,.8 -.7,.7 -.8,.6 -.8,.6 -.8,.5 -1,.4 -1.2,.3 -1.3,0 -1.7-.3 -1.9-.9 -2.4-1.7 -2.7-2.9 -2.9-4.6 -2.4-6.4 -1.3-7.2 .3-7 1.8-5.3 2.6-3.3 2.9-1.5 2.8-.5 2.7,.1 2.6,.7 2.7,1.2 2.7,2 2.4,3 1.9,3.8 1.2,4.3 .6,4.2 .1,3.7 -.1,3.3 -.4,2.7 -.5,2.3 -.5,1.9 -.7,1.6 -.6,1.2 -.7,1.1 -.7,.8 -.7,.8 -.6,.6 -.7,.7 -.7,.5 -.8,.6 -.9,.5 -.9,.4 -1.2,.3 -1.4,.2 -1.6-.3 -2.1-.8 -2.5-1.7 -3-3 -3.2-4.9 -2.6-6.9 -1.3-7.9 .4-7.5 2.1-5.6 2.9-3.4 3.2-1.5 3.1-.3 2.8,.4 2.9,.9 2.9,1.5 2.7,2.3 2.4,3.4 1.8,4.2 1.1,4.4 .5,4.1 .1,3.7 -.1,3.2 -.3,2.7 -.4,2.3 -.5,2 -.5,1.6 -.6,1.3 -.7,1.1 -.6,.8 -.7,.8 -.6,.6 -.6,.7 -.6,.6 -.7,.5 -.7,.6 -.7,.5 -.9,.5 -1.1,.5 -1.2,.3 -1.5,.2 -2-.2 -2.4-1 -2.9-2 -3.5-3.9 -3.5-6.2 -2.8-8.4 -.9-9.1 1.2-8.1 2.9-5.4 3.7-2.9 3.7-.9 3.4,.2 3.2,.8 3.2,1.4 3.1,2.4 2.8,3.3 2,4.3 1.4,4.7 .8,4.4 .4,4 .2,3.5 0,3 -.1,2.7 -.2,2.4 -.4,2.1 -.3,1.8 -.4,1.6 -.4,1.3 -.5,1.1 -.5,1 -.5,.8 -.5,.8 -.4,.7 -.5,.8 -.4,.7 -.5,.7 -.5,.6 -.6,.6 -.7,.5 -.8,.5 -.9,.5 -1.1,.5 -1.4,.4 -1.6,.4 -2.1,0 -2.7-.6 -3.6-1.6 -4.6-3.5 -5.2-6.5 -4.5-10.1 -2.1-12.4 1-11.8 3.8-8.4 5-4.5 5.2-1.3 4.7,.4 4.3,1.4 4.1,2.1 3.8,3.2 3,4.4 2.1,5.4 1.3,5.3 .9,4.9 .6,4.1 .4,3.6 .4,3.4 .3,3.2 .5,2.8 .7,2.4 .7,2 .9,1.7 .8,1.2 .9,1 .8,.7 .8,.5 .8,.5 .7,.5 .7,.3 .7,.4 .8,.2 .8,.3 .8,.2 1,0 1.1-.1 1.2-.3 1.4-.5 1.7-.7 2-1.1 2.5-1.8 2.8-3.4 2.7-5.1 1.7-6.7 -.1-7.2 -1.8-6.2 -2.8-4.3 -3.1-2.4 -3.1-1.1 -3-.4 -2.9,.1 -3,.8 -3,1.5 -2.7,2.5 -2.1,3.4 -1.3,4 -.7,3.9 -.3,3.7 -.1,3.3 0,3 -.2,2.7 -.1,2.4 -.2,2.3 -.2,2 -.2,1.8 -.2,1.7 -.2,1.4 -.4,1.2 -.6,1.1 -.5,1 -.3,1 -.2,1.2 0,1.3 -.1,1.3 0,1.3 -.1,1.2 0,1.4 -.1,1.3 -.1,1.1 -.2,1 -.3,.8 -.4,.8 -.4,.7 -.6,.6 -.7,.4 -.9,.3 -1,.2 -1.1,.1 -1.5,.1 -1.7,.1 -2.1,.1 -2.7-.3 -3.4-.9 -4.5-2.3 -5.8-4.5 -7-8.2 -6.3-13.1 -3.7-16.9 .7-17.2 4.6-13 7-6.9 7.3-1.8 6.8,1.3 6,2.5 5.5,3.5 4.6,4.9 3.2,6.4 1.7,6.8 .7,6 .3,4.8 .2,4.1 .2,4 .4,3.8 .8,3.6 .9,3.1 1.1,2.5 1.3,1.9 1.2,1.4 1.2,1 1.1,.6 1.1,.5 1.1,.2 1.1,.1 1.1-.2 1.1-.3 1.2-.5 1.3-.8 1.3-1.1 1.4-1.5 1.6-2.1 1.6-2.7 1.5-3.7 1-4.3 .1-4.6 -.9-4 -1.5-3 -1.9-2.1 -1.9-1.3 -1.9-.9 -2.1-.4 -2.2-.2 -2.5,.4 -2.6,1 -2.7,2 -2.1,3.1 -1.4,3.9 -.4,4.2 .2,4 .5,3.5 .8,2.9 1,2.3 1,1.9 1,1.4 1.1,1.1 1,.8 1,.5 1,.4 1,.2 1.1,.1 1,0 1.1-.3 1.1-.4 1.2-.7 1.3-1 1.4-1.3 1.6-1.8 1.6-2.6 1.6-3.4 1.2-4.2 .5-4.7 -.6-4.3 -1.4-3.5 -1.8-2.4 -2-1.6 -2-.9 -2.1-.6 -2.2-.1 -2.4,.2 -2.7,.9 -2.7,1.8 -2.2,2.8 -1.6,3.8 -.6,4.2 0,4 .5,3.5 .7,3 .8,2.5 1,1.9 1,1.6 1,1.1 1,.9 1,.7 .9,.5 1,.3 .9,.2 1,.1 1-.1 1-.2 1.2-.5 1.2-.6 1.3-1 1.5-1.3 1.6-1.8 1.7-2.6 1.7-3.6 1.3-4.5 .3-4.9 -.7-4.5 -1.5-3.5 -2-2.4 -2.1-1.5 -2.1-.9 -2.2-.4 -2.3-.1 -2.5,.4 -2.7,1.1 -2.6,2.1 -2.2,3.1 -1.3,3.8 -.5,4.1 0,3.9 .5,3.4 .6,2.9 .8,2.4 .9,1.9 .9,1.5 1,1.2 .9,.9 1,.6 .9,.5 .8,.4 .9,.3 .9,.2 .9,.1 1-.1 1.1-.2 1.1-.4 1.2-.7 1.4-.9 1.6-1.2 1.8-1.9 1.9-2.8 1.8-4 1.2-4.9 .2-5.3 -1-4.8 -1.7-3.6 -2.2-2.3 -2.3-1.4 -2.3-.7 -2.3-.3 -2.5,.2 -2.7,.6 -2.8,1.5 -2.4,2.5 -1.9,3.4 -1.1,4 -.3,4 .1,3.7 .4,3.2 .5,2.8 .7,2.3 .7,1.9 .9,1.5 .8,1.2 .9,.9 .9,.7 .8,.5 .8,.5 .8,.4 .8,.3 .8,.2 .8,.1 .9,.1 1-.1 1.1-.2 1.3-.4 1.4-.7 1.6-.9 2-1.4 2.2-2.4 2.5-3.6 2.1-5.3 .8-6.2 -.7-5.9 -2-4.7 -2.6-3.1 -2.7-1.7 -2.6-.9 -2.6-.4 -2.7,.1 -2.8,.7 -2.9,1.5 -2.5,2.5 -2,3.4 -1.2,3.9 -.6,4 -.1,3.6 .1,3.4 .3,2.9 .3,2.5 .4,2.3 .5,1.9 .6,1.6 .7,1.4 .6,1.1 .7,.8 .6,.7 .7,.6 .6,.5 .6,.5 .6,.5 .6,.4 .7,.3 .7,.4 .8,.3 .8,.2 1,.2 1.1-.1 1.3-.2 1.5-.4 1.8-.6 2.2-.9 2.7-1.7 3.4-3.2 3.8-5.4 3-7.7 .5-8.7 -2.1-7.7 -3.8-5.3 -4.1-2.7 -3.7-1.2 -3.5-.3 -3.3,.3 -3.3,1 -3.2,1.8 -2.7,2.8 -2,3.7 -1.2,4.1 -.7,4 -.4,3.6 -.5,3.3 -.6,2.8 -.7,2.5 -.6,2.1 -.7,1.8 -.7,1.6 -.6,1.2 -.7,1 -.6,.8 -.6,.7 -.6,.7 -.5,.6 -.5,.7 -.6,.6 -.6,.6 -.6,.5 -.8,.5 -.8,.6 -1,.5 -1.2,.4 -1.4,.4 -1.8,.2 -2.4-.3 -3-1.2 -3.8-2.7 -4.3-5.2 -4-8.3 -2.5-10.5 -.1-10.9 2.3-8.7 4-5.3 4.5-2.1 4.4-.1 3.9,.9 3.8,1.5 3.6,2.3 3.3,3.4 2.4,4.6 1.6,5.1 1.1,4.9 .7,4.3 .6,3.8 .3,3.4 .3,3.1 .3,2.9 .4,2.7 .4,2.4 .5,2 .6,1.7 .7,1.4 .6,1.2 .6,.9 .6,.8 .6,.6 .6,.6 .5,.6 .5,.5 .5,.6 .6,.4 .6,.5 .6,.3 .8,.4 .8,.3 .9,.3 1,.1 1.3-.1 1.4-.4 1.7-.5 2.1-.7 2.6-1.1 3.3-2.1 3.9-4.2 3.8-6.7 2.1-9 -.5-9.5 -2.9-7.8 -4.2-4.9 -4.2-2.4 -3.9-.8 -3.7,.1 -3.6,.6 -3.5,1.5 -3.2,2.5 -2.3,3.6 -1.6,4.1 -1,4.3 -.7,3.8 -.6,3.4 -.7,3 -.8,2.6 -.8,2.3 -.7,1.8 -.8,1.5 -.8,1.2 -.7,1 -.8,.7 -.6,.7 -.7,.7 -.6,.6 -.7,.6 -.6,.5 -.8,.5 -.8,.6 -1,.4 -1.1,.4 -1.5,.3 -1.7-.1 -2.2-.6 -2.8-1.4 -3.5-2.9 -3.7-5.2 -3.3-7.6 -1.7-9.2 .5-8.8 2.5-6.6 3.5-3.9 3.8-1.6 3.5-.2 3.3,.7 3.2,1.1 3.2,2 2.9,2.8 2.4,4 1.6,4.6 1,4.5 .6,4.2 .3,3.7 .1,3.2 -.1,2.9 -.2,2.5 -.3,2.2 -.3,1.9 -.3,1.7 -.5,1.5 -.4,1.2 -.5,1 -.5,.9 -.5,.8 -.4,.7 -.5,.8 -.4,.7 -.4,.8 -.5,.6 -.6,.6 -.6,.6 -.8,.5 -.8,.5 -1,.5 -1.2,.5 -1.4,.4 -1.8,.3 -2.3-.2 -3-.9 -3.9-2.4 -4.9-4.6 -5-8 -4.1-11.2 -1-12.6 2-10.9 4.5-6.9 5.3-2.9 5.1-.4 4.6,.8 4.2,1.6 4,2.4 3.6,3.7 2.7,4.9 1.7,5.4 1.2,5.3 .7,4.5 .5,3.9 .4,3.6 .3,3.2 .5,3.1 .6,2.7 .7,2.2 .8,1.9 .9,1.4 .9,1.1 .8,.8 .8,.7 .8,.5 .8,.5 .7,.4 .7,.3 .8,.3 .8,.2 .8,.2 .9,.1 1.1,0 1.1-.3 1.4-.4 1.6-.6 1.8-.9 2.3-1.6 2.8-2.8 3-4.6 2.5-6.2 .6-7.3 -1.4-6.5 -2.9-4.8 -3.3-2.7 -3.2-1.4 -2.9-.6 -2.9,0 -3,.5 -3,1.2 -2.8,2.1 -2.3,3.1 -1.6,3.8 -.9,4 -.4,3.8 -.1,3.5 0,3.1 0,2.8 -.1,2.5 0,2.3 0,2.2 -.1,1.9 0,1.7 .1,1.6 .1,1.5 .3,1.3 .5,1.3 .7,1.1 .4,1.1 .3,1.1 .1,1 .1,1.1 0,1.1 -.1,1.2 0,1.2 -.1,1.1 0,1.1 0,1.1 0,1.1 0,1.2 0,1.1 0,1 .2,.8 .2,.8 .3,.5 .3,.6 .4,.5 .5,.5 .7,.4 .8,.2 .9,.1 1.1,.1 1.4-.3 1.5-.5 1.9-.9 2.2-1.3 2.6-1.5 3.3-1.5 4-2 5.5-3.3 6.8-6.9 6.8-11.4 3.5-15.4 -1.9-15.4 -6.3-11.6 -8-6 -7.2-1.9 -6.1,.4 -5.4,1.4 -4.8,2.5 -4,3.5 -2.8,4.8 -1.8,4.9 -1.1,4.7 -.8,4.1 -.6,3.7 -.5,3.5 -.7,3.2 -.7,2.9 -.8,2.4 -.9,2 -.9,1.6 -1,1.3 -.9,1 -1,.9 -1.1,.6 -1.1,.5 -1.3,.3 -1.4-.1 -1.7-.5 -1.9-1.1 -2.2-1.9 -2.3-3.1 -2.5-4.3 -2.1-5.6 -1.2-6.2 .1-5.9 1.5-4.7 2.1-3 2.4-1.6 2.4-.7 2.2-.2 2.2,.2 2.3,.6 2.5,1.2 2.4,2.1 2.2,3 1.7,3.8 1,4.3 .3,4.1 -.1,3.7 -.5,3.1 -.5,2.6 -.7,2.1 -.8,1.8 -.7,1.4 -.9,1.1 -.8,1 -.9,.9 -.9,.7 -1,.6 -1.1,.4 -1.2,.2 -1.4-.1 -1.7-.5 -1.9-1.2 -2.2-1.9 -2.3-3.1 -2.5-4.4 -2.1-5.6 -1.1-6.3 .2-5.9 1.5-4.6 2.2-3 2.4-1.5 2.4-.7 2.2-.1 2.3,.2 2.3,.7 2.4,1.3 2.5,2.2 2.2,3.1 1.6,3.9 .9,4.2 .2,4.1 -.2,3.6 -.4,3.1 -.6,2.5 -.6,2 -.8,1.7 -.8,1.4 -.8,1.1 -.8,1 -.8,.8 -.9,.7 -1,.6 -1,.5 -1.3,.2 -1.3,0 -1.7-.5 -1.8-1 -2.2-1.9 -2.3-2.9 -2.5-4.2 -2.2-5.5 -1.3-6.3 .1-6.1 1.4-4.8 2.1-3.2 2.5-1.7 2.4-.7 2.2-.2 2.3,.2 2.3,.7 2.5,1.3 2.5,2.1 2.2,3.1 1.6,3.8 1,4.3 .2,4 -.1,3.7 -.4,3 -.6,2.5 -.6,2.1 -.7,1.7 -.8,1.4 -.8,1.1 -.8,1 -.8,.8 -.9,.8 -.9,.6 -1,.5 -1.1,.3 -1.3,.1 -1.6-.3 -1.7-.8 -2.1-1.5 -2.3-2.5 -2.4-3.8 -2.4-5.1 -1.7-6.2 -.4-6.4 .9-5.4 2-3.7 2.5-2.2 2.4-1 2.4-.3 2.3,.1 2.3,.6 2.4,1.1 2.5,1.9 2.3,2.8 1.9,3.7 1.1,4.2 .5,4.1 -.1,3.8 -.4,3.1 -.5,2.7 -.6,2.2 -.6,1.8 -.8,1.4 -.7,1.2 -.8,1 -.8,.9 -.8,.7 -.9,.7 -.9,.6 -1,.4 -1.2,.2 -1.4,0 -1.6-.5 -1.9-1 -2.2-1.8 -2.4-2.9 -2.5-4.4 -2.2-5.7 -1.3-6.4 .1-6.3 1.5-4.8 2.3-3.2 2.5-1.7 2.5-.6 2.4-.1 2.3,.3 2.4,.8 2.5,1.5 2.5,2.4 2.1,3.3 1.5,4 .8,4.2 .2,4 -.2,3.4 -.4,2.9 -.5,2.4 -.6,2 -.7,1.6 -.8,1.4 -.7,1.1 -.8,.9 -.7,.8 -.8,.7 -.9,.6 -.9,.6 -1,.4 -1.2,.2 -1.3,0 -1.7-.4 -1.9-1 -2.2-1.9 -2.5-2.9 -2.5-4.5 -2.3-5.8 -1.2-6.7 .2-6.3 1.6-4.9 2.3-3.2 2.6-1.6 2.6-.6 2.4,0 2.4,.4 2.5,.9 2.6,1.7 2.4,2.5 2,3.5 1.5,4.1 .7,4.2 .1,3.9 -.2,3.4 -.4,2.8 -.5,2.3 -.6,1.9 -.7,1.6 -.7,1.3 -.7,1.1 -.8,.9 -.7,.8 -.8,.7 -.8,.6 -.8,.6 -1,.4 -1.1,.4 -1.2,.1 -1.5-.2 -1.8-.7 -2.2-1.4 -2.4-2.4 -2.7-3.8 -2.5-5.5 -1.8-6.7 -.4-6.8 1-5.9 2.2-4 2.7-2.2 2.7-.9 2.6-.2 2.5,.4 2.6,.8 2.6,1.5 2.5,2.3 2.2,3.3 1.6,4 1,4.2 .3,4 -.1,3.6 -.3,3 -.5,2.5 -.5,2 -.7,1.7 -.7,1.4 -.7,1.1 -.7,1 -.7,.8 -.7,.7 -.7,.6 -.8,.7 -.8,.5 -.9,.5 -1.1,.3 -1.2,.2 -1.5-.1 -1.8-.6 -2.2-1.2 -2.5-2.3 -2.8-3.8 -2.7-5.6 -2-7 -.6-7.3 1.1-6.2 2.3-4.3 2.8-2.4 2.9-.9 2.8-.1 2.6,.4 2.7,.9 2.7,1.7 2.6,2.5 2.2,3.5 1.5,4.1 .9,4.3 .4,4 0,3.5 -.3,3 -.4,2.5 -.6,2 -.6,1.8 -.6,1.4 -.7,1.1 -.7,.9 -.7,.8 -.6,.7 -.7,.7 -.7,.6 -.7,.6 -.8,.5 -.9,.5 -1.1,.4 -1.2,.2 -1.5,0 -1.8-.3 -2.3-1.1 -2.7-2.2 -3-3.9 -2.9-5.8 -2.3-7.5 -.8-7.9 1.1-7 2.5-4.7 3.1-2.6 3.2-.9 3,0 2.9,.6 2.9,1.1 2.9,1.9 2.6,2.8 2.1,3.8 1.5,4.4 .9,4.3 .3,4 .1,3.5 -.2,3 -.3,2.5 -.5,2.2 -.5,1.8 -.5,1.5 -.7,1.3 -.6,.9 -.6,.9 -.7,.7 -.6,.6 -.6,.6 -.6,.6 -.6,.6 -.7,.5 -.8,.6 -.9,.5 -1.1,.4 -1.3,.3 -1.6,.2 -2-.3 -2.6-1.1 -3.1-2.3 -3.5-4.3 -3.4-6.8 -2.5-8.7 -.7-9.2 1.5-7.8 3.2-5 3.7-2.5 3.7-.6 3.5,.3 3.2,.9 3.3,1.6 3.1,2.5 2.6,3.7 1.9,4.4 1.3,4.7 .7,4.4 .4,3.9 .2,3.4 0,3 -.1,2.7 -.3,2.3 -.2,2.1 -.4,1.8 -.3,1.6 -.4,1.4 -.5,1.1 -.4,1 -.5,.9 -.4,.8 -.4,.8 -.4,.8 -.4,.8 -.5,.7 -.5,.7 -.5,.6 -.6,.6 -.8,.5 -.8,.5 -1,.4 -1.1,.5 -1.5,.4 -1.8,.4 -2.2-.2 -3-.9 -3.9-2.1 -5-4.1 -5.4-7.5 -4.3-11.2 -1.6-13.2 1.7-11.8 4.4-7.8 5.5-3.7 5.3-.7 4.8,.8 4.4,1.6 4.2,2.5 3.7,3.6 2.9,4.9 1.8,5.6 1.2,5.4 .7,4.7 .5,4 .4,3.6 .3,3.3 .5,3.1 .7,2.7 .7,2.3 .9,1.9 .9,1.4 1,1.1 .9,.8 .8,.6 .9,.5 .7,.4 .8,.4 .8,.3 .8,.2 .8,.2 .9,.1 1-.1 1.1-.2 1.3-.4 1.5-.6 1.7-.9 2.1-1.4 2.4-2.4 2.8-3.9 2.2-5.6 1-6.7 -.9-6.3 -2.4-4.8 -2.9-3.1 -2.9-1.7 -2.8-.8 -2.7-.2 -2.8,.2 -2.9,.9 -2.9,1.7 -2.5,2.7 -1.8,3.5 -1.1,4 -.5,3.9 -.2,3.6 .1,3.2 .1,2.9 .3,2.6 .2,2.4 .4,2 .4,1.8 .4,1.5 .5,1.3 .6,1.1 .5,.9 .5,.8 .6,.6 .4,.7 .5,.6 .5,.6 .4,.6 .5,.5 .6,.4 .6,.4 .7,.4 .8,.4 .8,.3 1.1,.2 1.2-.1 1.3-.3 1.7-.5 2-.6 2.4-.9 3.3-1.4 4.4-2.9 5.1-5.8 4.2-9.1 1.2-10.9 -2.7-9.6 -5.1-6.4 -5.4-3 -4.7-1.1 -4-.1 -3.8,.5 -3.6,1.4 -3.4,2.2 -2.7,3.4 -1.9,4.1 -1.2,4.3 -.8,4 -.7,3.5 -.7,3.2 -.8,2.8 -.8,2.4 -.8,1.9 -.8,1.6 -.8,1.3 -.8,1 -.8,.8 -.7,.7 -.7,.7 -.6,.6 -.7,.6 -.7,.6 -.8,.5 -.9,.5 -1.1,.4 -1.3,.3 -1.5,0 -1.9-.3 -2.4-1.1 -2.9-2.3 -3.2-4 -3.1-6.3 -2.4-8.1 -.6-8.4 1.3-7.2 2.8-4.8 3.4-2.5 3.4-.8 3.1,.1 3.1,.8 3,1.3 3,2.2 2.6,3.2 2.1,4.2 1.3,4.5 .8,4.4 .3,3.9 .1,3.4 -.1,3 -.2,2.5 -.4,2.2 -.4,1.9 -.5,1.7 -.6,1.3 -.5,1.1 -.6,.9 -.6,.7 -.6,.7 -.5,.7 -.6,.6 -.5,.6 -.6,.6 -.7,.5 -.7,.6 -.9,.5 -.9,.5 -1.2,.4 -1.5,.4 -1.8,.1 -2.4-.5 -3-1.3 -3.8-2.8 -4.3-5.4 -3.9-8.3 -2.1-10.4 .4-10.2 2.7-7.9 4-4.6 4.3-1.8 4-.1 3.8,.9 3.6,1.5 3.5,2.3 3.1,3.4 2.4,4.5 1.5,4.9 1,4.8 .7,4.3 .5,3.7 .3,3.3 .3,3.1 .1,2.8 .2,2.6 .3,2.4 .3,2.1 .4,2 .4,1.7 .4,1.4 .6,1.2 .6,1 .5,.9 .5,.8 .4,.7 .3,.8 .3,.8 .3,.8 .3,.7 .4,.7 .3,.7 .5,.5 .5,.5 .6,.5 .7,.4 .8,.4 .9,.3 1.1,.1 1.3-.1 1.5-.4 1.8-.7 2.1-.8 2.7-1 3.5-1.3 5.3-2.5 6.2-5.6 5.6-9.7 1.5-12.7 -2.8-11.9 -6-8.1 -6.4-3.9 -5.5-1.2 -4.7,0 -4.2,.7 -4.1,1.7 -3.6,2.6 -2.8,3.8 -1.9,4.4 -1.2,4.4 -.9,4 -.7,3.6 -.7,3.3 -.8,2.8 -.8,2.5 -.9,2 -.9,1.6 -.8,1.3 -.8,1.1 -.8,.8 -.7,.8 -.8,.7 -.8,.6 -.8,.6 -1,.5 -1,.3 -1.3,.2 -1.4-.1 -1.8-.5 -2.2-1.2 -2.5-2.3 -2.7-3.7 -2.6-5.5 -2.1-6.9 -.7-7.2 1-6.3 2.2-4.4 2.8-2.4 2.9-1 2.7-.2 2.7,.5 2.6,.9 2.7,1.5 2.6,2.5 2.2,3.4 1.6,4.1 1,4.3 .3,4 0,3.5 -.2,3 -.5,2.5 -.5,2.1 -.6,1.8 -.7,1.4 -.6,1.1 -.7,1 -.7,.8 -.7,.7 -.7,.6 -.6,.6 -.8,.6 -.8,.5 -.9,.5 -1.1,.4 -1.2,.2 -1.5,0 -1.9-.5 -2.3-1.1 -2.7-2.3 -3-4 -2.9-5.9 -2.1-7.5 -.6-7.9 1.2-6.7 2.5-4.5 3.2-2.4 3.1-.8 2.9,0 2.9,.6 2.9,1.1 2.8,1.9 2.6,2.9 2.1,3.8 1.4,4.4 .8,4.3 .4,4 0,3.4 -.2,3 -.3,2.5 -.5,2.1 -.5,1.8 -.6,1.4 -.6,1.2 -.7,1 -.6,.8 -.7,.7 -.6,.6 -.6,.6 -.6,.6 -.7,.6 -.7,.5 -.9,.5 -.9,.5 -1.2,.4 -1.3,.3 -1.7,0 -2.2-.6 -2.7-1.3 -3.4-2.8 -3.8-5 -3.3-7.4 -1.8-9 .4-8.8 2.3-6.9 3.4-4.1 3.7-1.7 3.5-.3 3.3,.6 3.2,1.1 3.2,1.8 2.9,2.8 2.5,3.8 1.7,4.6 1.1,4.6 .5,4.2 .3,3.7 .1,3.3 -.1,2.8 -.1,2.6 -.3,2.2 -.4,1.9 -.3,1.7 -.5,1.5 -.4,1.2 -.5,1 -.5,.8 -.5,.8 -.5,.8 -.4,.7 -.5,.7 -.4,.7 -.5,.7 -.6,.6 -.7,.5 -.7,.5 -.9,.5 -1,.5 -1.2,.5 -1.5,.4 -1.9,.2 -2.5-.2 -3.2-1.2 -4-2.8 -4.7-5.4 -4.5-8.7 -3.1-11.5 -.4-12.1 2.5-9.8 4.4-6 5-2.4 4.9,0 4.4,1.1 4.1,1.7 3.9,2.7 3.4,3.8 2.4,5 1.6,5.4 1,5.1 .7,4.4 .6,3.8 .3,3.4 .4,3.3 .4,2.9 .6,2.6 .7,2.2 .8,1.8 .8,1.4 .9,1 .8,.9 .8,.6 .8,.5 .7,.5 .7,.4 .7,.3 .7,.3 .8,.3 .8,.2 .9,.2 1,0 1.2-.2 1.3-.4 1.5-.6 1.9-.8 2.3-1.2 2.9-2.3 3.2-4.1 2.7-6.1 1-7.5 -1.1-7.2 -2.8-5.4 -3.3-3.3 -3.3-1.7 -3-.7 -3-.1 -3,.4 -3.1,1.1 -2.9,1.9 -2.4,3 -1.7,3.7 -1,4.1 -.5,3.8 -.2,3.5 -.1,3.2 -.1,2.8 -.2,2.6 -.2,2.3 -.3,2.1 -.2,1.9 -.3,1.7 -.3,1.4 -.5,1.2 -.5,1.1 -.5,.9 -.4,1 -.2,1.1 -.1,1.1 -.2,1.2 -.1,1.1 -.1,1.2 -.2,1.1 -.2,1.1 -.3,.9 -.4,.7 -.4,.8 -.6,.6 -.7,.5 -.7,.4 -1,.2 -1.1,.3 -1.3,.2 -1.7,.3 -2,.2 -2.5-.2 -3.3-.8 -4.3-2.1 -5.7-4.2 -6.6-7.8 -6.1-12.6 -3.3-16.1 .9-15.9 4.6-11.8 6.7-6.3 6.9-1.5 6.3,1.1 5.6,2.2 5.2,3.3 4.4,4.5 3.2,6 1.8,6.5 .8,6 .4,4.8 .3,4 .3,3.9 .4,3.8 .7,3.4 .9,3 1.1,2.3 1.1,1.9 1.2,1.4 1.1,1 1.1,.7 1,.5 1.1,.3 1,.1 1,.1 1.1-.2 1.1-.3 1.1-.6 1.3-.8 1.4-1.1 1.5-1.6 1.6-2.2 1.7-3 1.4-4 .8-4.6 -.1-4.6 -1-4 -1.7-3 -2-1.9 -2-1.2 -2.1-.6 -2.2-.3 -2.4,0 -2.6,.6 -2.7,1.4 -2.4,2.5 -1.9,3.5 -1,4 -.2,4.1 .3,3.8 .6,3.2 .7,2.6 .9,2.2 1,1.7 1,1.3 .9,1 1,.8 1,.6 .9,.4 .9,.3 .9,.2 1,0 1-.1 1-.2 1.2-.5 1.2-.7 1.4-.9 1.5-1.4 1.7-1.9 1.8-2.8 1.6-3.9 1.1-4.7 .2-5 -.9-4.5 -1.7-3.4 -2-2.3 -2.2-1.4 -2.2-.7 -2.2-.3 -2.5,0 -2.6,.6 -2.7,1.4 -2.5,2.4 -1.9,3.3 -1.2,4 -.3,4 .1,3.8 .5,3.2 .6,2.8 .8,2.3 .8,1.8 .9,1.5 1,1.1 .9,.8 .9,.7 .8,.5 .9,.4 .8,.3 .9,.2 .8,.2 1,0 1-.2 1.1-.3 1.2-.5 1.4-.6 1.5-1.1 1.8-1.5 2.1-2.5 2.1-3.6 1.8-4.9 .8-5.6 -.7-5.4 -1.8-4.2 -2.4-2.8 -2.4-1.7 -2.4-.9 -2.5-.4 -2.5,0 -2.7,.5 -2.8,1.3 -2.5,2.3 -2.1,3.2 -1.3,3.9 -.6,4 0,3.7 .2,3.4 .4,2.9 .5,2.5 .6,2.1 .8,1.8 .8,1.4 .8,1.1 .8,.8 .8,.7 .7,.5 .8,.4 .7,.4 .7,.3 .8,.3 .8,.3 .8,.1 1,.1 1-.1 1.2-.2 1.3-.5 1.6-.6 1.8-1 2.2-1.7 2.6-3 2.7-4.7 2.1-6.2 .5-6.9 -1.3-6.2 -2.7-4.5 -3.1-2.6 -3-1.4 -2.8-.5 -2.9,0 -2.9,.5 -3,1.2 -2.8,2.1 -2.2,3.1 -1.6,3.8 -.9,4 -.3,3.8 -.1,3.5 0,3.1 .1,2.8 .1,2.5 0,2.3 .2,2.1 .1,1.9 .2,1.7 .3,1.5 .5,1.3 .5,1 .5,1 .5,.8 .3,.9 .3,.8 .3,.8 .2,.9 .3,.8 .2,.8 .3,.8 .4,.7 .4,.6 .5,.5 .5,.5 .7,.4 .7,.4 .9,.4 1,.2 1.3-.1 1.5-.3 1.7-.6 2-.8 2.6-.9 3.1-1.2 3.9-2.5 4.9-5.2 5.1-8.4 3.5-11.2 -.5-12.1 -3.9-10 -5.7-6.2 -5.5-2.7 -5.1-.5 -4.5,.6 -4.3,1.3 -4,2.3 -3.3,3.3 -2.2,4.4 -1.4,4.5 -.9,4.4 -.7,3.7 -.8,3.4 -.7,3.1 -.8,2.6 -.9,2.3 -.8,1.8 -.9,1.4 -.8,1.2 -.8,1 -.8,.8 -.8,.8 -.8,.6 -.9,.6 -.9,.5 -1.1,.3 -1.3,.1 -1.5-.2 -1.8-.6 -2.2-1.4 -2.4-2.4 -2.7-3.8 -2.5-5.5 -1.9-6.7 -.4-7 1-5.9 2.3-4 2.7-2.2 2.7-.9 2.6-.2 2.5,.4 2.6,.8 2.6,1.5 2.6,2.4 2.2,3.3 1.6,4 .9,4.3 .4,4 -.1,3.5 -.3,3 -.5,2.5 -.6,2 -.6,1.7 -.7,1.4 -.7,1.2 -.7,.9 -.7,.8 -.7,.7 -.7,.7 -.7,.6 -.8,.5 -.9,.5 -1.1,.4 -1.2,.2 -1.4,0 -1.8-.5 -2.1-1 -2.5-2.1 -2.8-3.6 -2.7-5.3 -2.2-6.9 -.9-7.4 .8-6.6 2.1-4.7 2.9-2.8 2.9-1.1 2.8-.2 2.7,.5 2.7,.8 2.8,1.6 2.6,2.4 2.3,3.4 1.6,4.1 1,4.3 .4,4 .1,3.6 -.3,3.1 -.4,2.5 -.5,2.2 -.6,1.8 -.6,1.4 -.6,1.2 -.7,1 -.7,.8 -.7,.7 -.6,.7 -.7,.6 -.7,.6 -.7,.5 -.9,.5 -1,.4 -1.1,.4 -1.4,.1 -1.6-.1 -2.1-.8 -2.6-1.5 -3.1-3 -3.4-4.8 -2.8-7 -1.4-8.2 .4-7.9 2.2-5.9 3.1-3.6 3.3-1.5 3.1-.3 3,.4 2.9,.9 3,1.6 2.8,2.4 2.4,3.5 1.7,4.3 1.1,4.4 .6,4.2 .1,3.7 0,3.2 -.3,2.7 -.3,2.4 -.5,2 -.5,1.7 -.6,1.4 -.6,1.1 -.6,.9 -.6,.8 -.6,.7 -.6,.6 -.6,.6 -.6,.6 -.6,.6 -.7,.5 -.8,.5 -.9,.5 -1.1,.5 -1.3,.4 -1.6,.1 -2.1-.2 -2.6-1 -3.2-2.3 -3.7-4.3 -3.6-6.9 -2.7-9 -.7-9.7 1.5-8.2 3.3-5.3 3.9-2.6 3.9-.6 3.6,.3 3.4,1 3.4,1.7 3.1,2.7 2.7,3.8 1.9,4.6 1.2,4.7 .7,4.5 .5,3.9 .3,3.4 0,3.1 0,2.7 -.1,2.5 -.1,2.3 -.1,2 -.2,1.9 -.3,1.6 -.3,1.3 -.4,1.2 -.5,.9 -.4,1 -.3,.9 -.2,1 -.3,1 -.2,1 -.3,1 -.3,1 -.3,.8 -.4,.8 -.6,.6 -.6,.6 -.7,.5 -.8,.4 -1,.4 -1.2,.3 -1.4,.3 -1.7,.4 -2.2,.1 -2.8-.4 -3.7-1.5 -4.8-3.3 -5.9-6.2 -5.7-10.3 -3.9-13.9 -.3-14.9 3.1-12.1 5.7-7.2 6.2-2.5 6,.3 5.2,1.7 5,2.5 4.4,3.6 3.7,4.8 2.3,6.1 1.2,6 .6,5.3 .4,4.3 .3,3.8 .4,3.7 .6,3.4 .7,3 1,2.5 1,2 1.1,1.5 1.1,1.1 1,.8 1,.7 .9,.4 1,.3 .9,.2 .9,.1 1,0 1-.2 1.2-.4 1.2-.6 1.3-.8 1.5-1.2 1.7-1.8 1.9-2.6 1.8-3.6 1.4-4.8 .5-5.2 -.7-4.8 -1.6-3.8 -2.2-2.5 -2.2-1.5 -2.3-.9 -2.3-.4 -2.4,0 -2.6,.5 -2.8,1.3 -2.5,2.2 -2.1,3.2 -1.2,3.9 -.6,4 .1,3.8 .3,3.4 .6,2.9 .7,2.4 .7,1.9 .9,1.6 .9,1.2 .9,1 .9,.7 .8,.5 .8,.5 .8,.3 .8,.3 .9,.2 .8,.2 1,0 1-.1 1.1-.3 1.2-.5 1.5-.7 1.6-1 1.9-1.7 2.2-2.6 2.4-3.9 1.9-5.3 .7-6 -1-5.6 -2.1-4.3 -2.6-2.7 -2.7-1.5 -2.5-.8 -2.5-.2 -2.7,.1 -2.8,.8 -2.8,1.5 -2.5,2.6 -1.8,3.5 -1.2,3.9 -.4,4 -.1,3.6 .2,3.3 .3,2.8 .5,2.5 .5,2.2 .6,1.7 .7,1.5 .7,1.2 .7,.9 .7,.8 .8,.5 .7,.6 .6,.4 .7,.4 .6,.4 .7,.3 .8,.3 .8,.3 .9,.1 1,.1 1.1-.2 1.3-.3 1.6-.6 1.8-.7 2.4-1.2 3.1-2 3.5-3.7 3.1-6.1 1.3-7.8 -1-7.8 -2.9-6.1 -3.5-3.8 -3.4-2 -3.2-.9 -3.2-.1 -3.1,.4 -3.1,1.1 -3,2 -2.5,3 -1.7,3.8 -1,4.1 -.6,3.8 -.2,3.5 -.3,3.2 -.3,2.8 -.5,2.4 -.5,2.2 -.5,1.9 -.6,1.6 -.5,1.4 -.6,1.1 -.5,1 -.5,.8 -.5,.8 -.4,.9 -.4,.8 -.3,.8 -.4,.8 -.5,.7 -.5,.7 -.5,.6 -.7,.5 -.8,.5 -.9,.5 -1,.4 -1.3,.5 -1.6,.4 -2,.2 -2.5-.3 -3.3-1.2 -4.3-2.8 -5.2-5.5 -5.1-9.1 -3.6-12.3 -.5-13.2 2.6-11 4.9-6.6 5.5-2.5 5.3-.1 4.8,1.3 4.4,1.9 4.2,3 3.5,4.1 2.5,5.4 1.5,5.7 .9,5.2 .6,4.4 .5,3.8 .3,3.6 .4,3.3 .6,3 .7,2.5 .9,2.1 1,1.7 .9,1.2 1,1 .9,.7 .9,.5 .8,.5 .8,.3 .8,.3 .8,.2 .9,.2 .9,.1 1-.1 1.1-.2 1.2-.5 1.4-.6 1.7-.9 2-1.5 2.3-2.4 2.5-3.8 2.1-5.3 .9-6.3 -.8-6 -2.1-4.6 -2.8-3 -2.7-1.7 -2.6-.9 -2.7-.3 -2.7,.2 -2.8,.7 -2.8,1.6 -2.5,2.5 -2,3.5 -1.2,3.9 -.5,3.9 -.1,3.7 .1,3.3 .2,2.9 .4,2.5 .4,2.3 .5,1.9 .5,1.7 .6,1.3 .7,1.1 .6,.9 .7,.7 .6,.6 .6,.5 .6,.5 .6,.5 .6,.4 .6,.4 .7,.4 .7,.3 .9,.3 .9,.2 1.1,0 1.2-.2 1.4-.4 1.7-.6 2.1-.7 2.8-1.3 3.6-2.3 4.1-4.5 3.6-7.2 1.1-9.1 -1.6-8.6 -3.7-6.3 -4.3-3.5 -3.9-1.6 -3.6-.5 -3.4,.2 -3.3,.8 -3.3,1.6 -3,2.4 -2.2,3.6 -1.4,4.1 -.8,4.1 -.5,3.7 -.5,3.4 -.6,2.9 -.7,2.6 -.7,2.2 -.7,1.8 -.7,1.6 -.7,1.3 -.6,1 -.7,.8 -.6,.7 -.6,.7 -.6,.6 -.5,.6 -.6,.6 -.6,.6 -.7,.5 -.8,.6 -.8,.5 -1,.5 -1.3,.4 -1.5,.4 -1.9-.1 -2.5-.6 -3.2-1.6 -4.1-3.2 -4.4-6 -3.7-8.9 -1.7-10.7 .9-10.1 3.1-7.3 4.3-4 4.4-1.3 4,.2 3.8,1 3.6,1.7 3.5,2.6 3,3.6 2.2,4.7 1.4,5 .9,4.8 .6,4.1 .5,3.6 .3,3.3 .2,3 .2,2.8 .3,2.5 .3,2.4 .4,2.1 .4,1.8 .5,1.6 .5,1.3 .6,1.1 .6,.9 .5,.7 .5,.8 .4,.7 .3,.7 .4,.7 .4,.7 .4,.7 .4,.5 .5,.5 .6,.5 .6,.4 .7,.4 .9,.4 .9,.2 1.2,.1 1.4-.2 1.5-.5 1.9-.7 2.4-.7 2.9-1.2 3.6-2.3 4.5-4.7 4.6-7.6 2.9-10.3 -.5-11 -3.4-9.1 -5.1-5.7 -5-2.5 -4.5-.7 -4.2,.4 -4.1,1 -3.7,1.9 -3.3,2.9 -2.2,4.2 -1.5,4.4 -.9,4.3 -.8,3.7 -.7,3.4 -.8,3.1 -.8,2.6 -.9,2.1 -.8,1.8 -.9,1.4 -.8,1.2 -.8,.9 -.7,.8 -.8,.7 -.7,.7 -.7,.6 -.9,.5 -.9,.5 -1,.4 -1.2,.2 -1.5,0 -1.8-.4 -2.1-1 -2.6-2.2 -2.9-3.6 -2.8-5.5 -2.2-7.1 -.8-7.7 .8-6.7 2.3-4.7 3-2.7 3-1 2.9-.2 2.7,.5 2.8,1 2.8,1.7 2.7,2.5 2.2,3.6 1.6,4.2 .9,4.3 .4,4 0,3.6 -.2,3 -.4,2.6 -.5,2.1 -.5,1.8 -.6,1.5 -.7,1.2 -.6,.9 -.7,.8 -.6,.7 -.7,.7 -.6,.6 -.7,.6 -.7,.5 -.8,.6 -.9,.5 -1,.4 -1.3,.3 -1.5,0 -1.9-.3 -2.4-1 -2.9-2.2 -3.2-4 -3.2-6.2 -2.4-8.1 -.8-8.5 1.2-7.4 2.8-4.9 3.5-2.6 3.4-.8 3.2,.1 3.1,.8 3,1.3 3,2.2 2.7,3.1 2,4.2 1.4,4.5 .8,4.4 .4,3.9 .1,3.5 -.1,3 -.3,2.6 -.3,2.2 -.4,1.9 -.5,1.7 -.5,1.3 -.6,1.1 -.6,1 -.6,.7 -.5,.7 -.6,.7 -.5,.6 -.5,.6 -.6,.6 -.7,.6 -.7,.5 -.8,.5 -.9,.5 -1.2,.5 -1.4,.4 -1.7,.2 -2.2-.2 -2.9-1.1 -3.5-2.5 -4.1-4.8 -3.9-7.7 -2.8-10.1 -.4-10.5 1.9-8.7 3.8-5.4 4.3-2.4 4.3-.3 3.8,.6 3.7,1.3 3.6,2.1 3.2,3.1 2.6,4.3 1.7,5 1.1,4.9 .8,4.4 .5,3.8 .4,3.4 .2,3.2 .3,2.9 .2,2.6 .3,2.5 .4,2.2 .4,1.9 .5,1.7 .5,1.4 .6,1.1 .6,1 .5,.8 .5,.7 .4,.7 .4,.7 .4,.7 .4,.7 .4,.6 .4,.6 .5,.5 .6,.5 .6,.4 .8,.4 .8,.4 .9,.2 1.2,.1 1.3-.2 1.5-.4 1.9-.6 2.3-.7 2.8-1.1 3.4-2.3 4.4-4.5 4.5-7.4 3.3-10 -.2-10.8 -3.1-9.2 -5-5.8 -5-2.6 -4.6-.7 -4.2,.3 -4,.8 -3.7,1.8 -3.3,2.8 -2.3,4.1 -1.6,4.3 -1,4.3 -.8,3.8 -.7,3.4 -.8,3.1 -.8,2.6 -.8,2.2 -.9,1.8 -.8,1.5 -.8,1.1 -.8,1 -.8,.8 -.7,.7 -.7,.6 -.7,.7 -.8,.5 -.9,.5 -1,.4 -1.1,.3 -1.4,.1 -1.7-.2 -2.1-.9 -2.5-1.8 -2.9-3.1 -3-5 -2.6-6.8 -1.2-7.7 .4-7.3 2.1-5.4 2.9-3.3 3.1-1.4 3-.3 2.8,.4 2.8,.8 2.8,1.5 2.8,2.3 2.4,3.4 1.7,4.1 1.1,4.4 .5,4.1 .1,3.7 -.1,3.2 -.3,2.6 -.5,2.3 -.5,1.9 -.6,1.6 -.6,1.3 -.7,1 -.6,.9 -.7,.7 -.6,.7 -.6,.6 -.6,.6 -.7,.5 -.8,.6 -.8,.5 -.9,.5 -1.2,.4 -1.3,.2 -1.7,0 -2.1-.6 -2.7-1.3 -3.2-2.7 -3.6-4.8 -3.2-7.2 -1.8-8.7 .3-8.6 2.1-6.7 3.3-4.1 3.5-1.8 3.4-.3 3.3,.5 3.1,.9 3.1,1.7 2.9,2.6 2.5,3.7 1.7,4.4 1.1,4.6 .6,4.2 .3,3.8 .1,3.3 -.2,2.8 -.2,2.5 -.3,2.2 -.4,1.9 -.5,1.6 -.4,1.3 -.6,1.1 -.5,.9 -.6,.8 -.5,.7 -.5,.7 -.5,.7 -.5,.6 -.6,.6 -.6,.6 -.6,.6 -.8,.5 -.9,.5 -1,.5 -1.3,.5 -1.6,.3 -1.9,0 -2.6-.5 -3.3-1.6 -4.3-3.2 -4.7-6.1 -4.1-9.3 -2-11.4 .8-10.9 3.4-7.9 4.6-4.3 4.7-1.4 4.3,.3 4,1.2 3.9,1.8 3.6,2.8 3,3.9 2.2,4.9 1.4,5.2 .9,4.8 .7,4.1 .5,3.7 .3,3.3 .3,3.1 .4,2.9 .4,2.5 .5,2.2 .7,1.9 .6,1.5 .7,1.2 .7,1 .7,.8 .7,.6 .6,.6 .6,.5 .5,.5 .6,.4 .6,.5 .7,.3 .7,.4 .7,.3 .9,.3 1,.1 1.1,0 1.3-.3 1.6-.4 1.8-.5 2.3-.9 2.8-1.7 3.7-3.3 4.1-5.6 3.2-8 .5-9.2 -2.3-8.1 -4.1-5.4 -4.3-2.8 -4-1.1 -3.5-.2 -3.5,.4 -3.4,1 -3.2,2 -2.7,3 -1.9,3.8 -1.2,4.1 -.7,4 -.5,3.6 -.6,3.2 -.6,2.8 -.8,2.4 -.7,2.1 -.7,1.7 -.7,1.4 -.7,1.2 -.7,.9 -.7,.7 -.6,.7 -.6,.6 -.6,.6 -.5,.6 -.7,.6 -.6,.6 -.8,.5 -.8,.5 -1,.5 -1.2,.5 -1.5,.3 -1.8,0 -2.4-.6 -3.1-1.4 -3.8-3 -4.3-5.6 -3.7-8.4 -1.9-10.3 .7-9.8 2.9-7.4 4-4.2 4.2-1.5 4,0 3.6,1 3.6,1.4 3.4,2.4 3,3.4 2.3,4.4 1.5,4.9 1,4.8 .6,4.1 .4,3.7 .3,3.3 .1,2.9 .2,2.8 .1,2.5 .1,2.4 .1,2.2 .2,1.9 .2,1.8 .2,1.6 .3,1.4 .5,1.3 .7,1.2 .6,1 .3,1 .2,1 .2,1 .1,1 0,1.1 0,1.1 .1,1.1 0,1 .1,1 .1,1 .1,.9 .2,.9 .3,.7 .3,.6 .5,.5 .5,.6 .6,.4 .7,.4 .8,.2 1.1,.2 1.2-.1 1.5-.3 1.7-.7 2.1-1.1 2.4-1.2 3.1-1.3 3.7-1.7 5.1-3.1 6.3-6.3 6.1-10.4 3.3-14.2 -1.6-14.4 -5.6-11 -7.2-5.9 -6.6-2.1 -5.8,.1 -5.1,1.2 -4.7,2.2 -4,3.2 -3,4.4 -1.9,4.9 -1.1,4.6 -.8,4.1 -.6,3.7 -.7,3.4 -.7,3.2 -.7,2.7 -.8,2.3 -.9,1.9 -.9,1.6 -.9,1.2 -.9,1 -.9,.8 -.9,.8 -1.1,.5 -1.1,.4 -1.3,.1 -1.5-.2 -1.7-.6 -2-1.4 -2.3-2.3 -2.4-3.5 -2.4-4.8 -1.9-6 -.7-6.4 .7-5.6 1.8-4.1 2.3-2.5 2.5-1.2 2.3-.4 2.3,0 2.3,.4 2.4,1 2.5,1.6 2.4,2.6 2,3.6 1.3,4.1 .6,4.2 0,3.8 -.3,3.3 -.5,2.8 -.5,2.3 -.7,1.9 -.7,1.5 -.8,1.3 -.8,1 -.8,.9 -.8,.8 -.8,.7 -1,.6 -1,.4 -1.2,.3 -1.3,0 -1.6-.4 -1.9-1 -2.1-1.7 -2.4-2.8 -2.5-4.2 -2.3-5.6 -1.4-6.4 0-6.2 1.3-5 2.3-3.4 2.5-1.7 2.4-.8 2.4-.1 2.3,.2 2.4,.8 2.5,1.3 2.5,2.3 2.1,3.1 1.7,3.9 .8,4.2 .3,4.1 -.1,3.5 -.4,3 -.6,2.5 -.6,2 -.7,1.7 -.7,1.4 -.8,1.1 -.7,.9 -.8,.9 -.8,.7 -.9,.6 -.9,.6 -1,.4 -1.2,.2 -1.4-.1 -1.6-.4 -1.9-1.1 -2.2-1.9 -2.5-3 -2.5-4.5 -2.2-5.8 -1.2-6.6 .2-6.2 1.6-4.9 2.4-3 2.5-1.6 2.5-.6 2.4,0 2.4,.4 2.5,.9 2.5,1.7 2.5,2.5 2,3.5 1.4,4 .7,4.2 .2,3.9 -.2,3.4 -.5,2.8 -.5,2.4 -.6,1.9 -.7,1.6 -.7,1.3 -.8,1 -.7,.9 -.7,.8 -.8,.7 -.8,.7 -.9,.5 -1,.4 -1.1,.3 -1.4,.1 -1.5-.4 -1.9-.8 -2.2-1.6 -2.5-2.7 -2.7-4.2 -2.4-5.7 -1.5-6.7 0-6.7 1.4-5.3 2.3-3.6 2.7-1.8 2.6-.7 2.5-.1 2.5,.4 2.5,.9 2.6,1.6 2.5,2.4 2.1,3.5 1.5,4 .8,4.3 .2,3.9 -.1,3.4 -.4,2.9 -.5,2.4 -.6,2 -.6,1.6 -.7,1.3 -.7,1.1 -.8,.9 -.7,.8 -.7,.7 -.8,.7 -.8,.6 -.8,.5 -1,.4 -1.2,.2 -1.4,.1 -1.6-.4 -2-.9 -2.3-1.7 -2.7-3 -2.7-4.6 -2.4-6.3 -1.3-7.1 .3-6.8 1.8-5.2 2.6-3.2 2.8-1.6 2.7-.5 2.6,.2 2.6,.6 2.7,1.1 2.6,2 2.5,2.9 1.9,3.8 1.2,4.2 .6,4.2 .1,3.8 -.1,3.2 -.4,2.8 -.5,2.3 -.6,1.8 -.6,1.6 -.7,1.3 -.7,1 -.7,.8 -.7,.8 -.7,.7 -.7,.6 -.7,.6 -.8,.5 -.9,.5 -1,.4 -1.3,.2 -1.4,0 -1.8-.4 -2.2-1.1 -2.6-2.1 -2.8-3.7 -2.9-5.6 -2.2-7.2 -.8-7.6 .9-6.8 2.3-4.7 3-2.6 3-1.1 2.9-.1 2.8,.5 2.8,1 2.8,1.7 2.7,2.7 2.2,3.6 1.5,4.2 .9,4.3 .4,4 .1,3.6 -.3,3 -.3,2.5 -.5,2.2 -.6,1.8 -.6,1.5 -.6,1.2 -.7,.9 -.6,.8 -.7,.7 -.6,.7 -.6,.6 -.7,.6 -.7,.5 -.8,.5 -.9,.5 -1,.5 -1.2,.3 -1.5,.1 -1.9-.3 -2.3-.9 -2.9-2 -3.3-3.8 -3.3-6 -2.6-7.9 -.9-8.7 1.1-7.7 2.7-5.3 3.4-2.8 3.5-1 3.3,.1 3.1,.7 3.1,1.3 3,2.1 2.7,3.1 2.1,4.1 1.4,4.5 .9,4.5 .4,3.9 .2,3.5 -.1,3.1 -.2,2.6 -.4,2.3 -.4,2 -.4,1.7 -.5,1.4 -.5,1.2 -.6,1 -.6,.8 -.5,.7 -.6,.6 -.5,.7 -.5,.7 -.6,.6 -.6,.5 -.7,.6 -.7,.5 -.9,.5 -1.1,.5 -1.2,.4 -1.6,.4 -2-.1 -2.5-.7 -3.4-1.7 -4.2-3.4 -4.6-6.2 -3.7-9.3 -1.6-11.1 1.1-10.2 3.4-7.3 4.4-3.8 4.5-1.2 4.2,.3 3.8,1.1 3.7,1.8 3.5,2.8 3,3.9 2.1,4.8 1.3,5.1 .9,4.7 .6,4.1 .5,3.6 .4,3.3 .2,3 .3,2.8 .3,2.6 .5,2.2 .5,2 .5,1.7 .6,1.3 .7,1.1 .6,.9 .6,.8 .5,.7 .5,.6 .5,.6 .5,.6 .5,.5 .5,.6 .5,.4 .7,.4 .6,.4 .8,.4 .9,.3 1,.2 1.1-.1 1.4-.2 1.6-.5 2-.7 2.4-.8 3.2-1.4 4.4-2.7 5.1-5.6 4.2-8.9 1.3-10.8 -2.6-9.7 -5-6.4 -5.4-3.1 -4.6-1.2 -4-.1 -3.8,.5 -3.6,1.2 -3.4,2.2 -2.8,3.3 -1.9,4 -1.2,4.3 -.8,4 -.7,3.6 -.7,3.2 -.8,2.8 -.8,2.4 -.8,2 -.8,1.6 -.8,1.3 -.8,1 -.7,.9 -.7,.7 -.7,.6 -.7,.7 -.6,.6 -.7,.5 -.8,.5 -.9,.5 -1,.5 -1.2,.3 -1.5,.2 -1.8-.3 -2.3-.8 -2.8-2 -3.3-3.6 -3.4-5.8 -2.7-7.8 -1-8.6 .9-7.8 2.7-5.5 3.4-3 3.5-1.1 3.2,0 3.1,.7 3.1,1.2 3,2.1 2.8,3 2.2,4 1.4,4.5 .9,4.4 .5,4.1 .1,3.5 0,3.1 -.2,2.6 -.4,2.3 -.4,2 -.4,1.7 -.5,1.5 -.5,1.2 -.6,.9 -.6,.8 -.6,.8 -.5,.6 -.5,.7 -.5,.6 -.6,.6 -.6,.6 -.7,.5 -.8,.6 -.9,.5 -1,.5 -1.3,.4 -1.6,.3 -1.9,0 -2.6-.8 -3.3-1.7 -4.2-3.5 -4.5-6.3 -3.7-9.3 -1.5-11 1.1-10.1 3.4-7.1 4.4-3.7 4.5-1.2 4.1,.3 3.8,1.2 3.7,1.8 3.5,2.7 2.9,3.9 2.1,4.9 1.3,5 .9,4.7 .6,4.1 .5,3.6 .3,3.2 .3,3 .2,2.8 .3,2.6 .4,2.3 .5,2 .6,1.7 .6,1.4 .6,1.1 .6,.9 .5,.8 .6,.7 .5,.6 .4,.7 .5,.6 .4,.6 .5,.5 .6,.5 .5,.4 .7,.5 .7,.3 .8,.4 1,.2 1.1,.1 1.3-.2 1.5-.4 1.8-.6 2.2-.7 2.8-1.2 3.6-2.2 4.2-4.5 4.1-7.2 2.2-9.7 -.7-10.1 -3.3-8.3 -4.6-5 -4.5-2.4 -4.2-.7 -3.9,.3 -3.8,.9 -3.6,1.7 -3.1,2.7 -2.3,3.9 -1.5,4.3 -.9,4.3 -.7,3.7 -.7,3.4 -.8,3 -.8,2.6 -.8,2.1 -.8,1.8 -.9,1.4 -.7,1.2 -.8,.9 -.7,.7 -.7,.7 -.7,.6 -.7,.7 -.7,.5 -.8,.6 -.8,.5 -1,.4 -1.2,.3 -1.5,.2 -1.8-.3 -2.2-.8 -2.7-1.9 -3.1-3.4 -3.3-5.5 -2.7-7.4 -1.1-8.4 .7-7.7 2.4-5.6 3.3-3.1 3.4-1.3 3.1,0 3.1,.6 3,1.1 3,1.8 2.7,2.8 2.3,3.8 1.6,4.4 .9,4.5 .5,4 .1,3.6 0,3.1 -.3,2.7 -.4,2.3 -.4,2 -.5,1.6 -.5,1.4 -.6,1.2 -.6,.9 -.6,.7 -.6,.7 -.5,.7 -.6,.6 -.6,.6 -.6,.6 -.7,.5 -.7,.5 -.9,.6 -1,.5 -1.2,.4 -1.4,.3 -1.9,0 -2.4-.6 -3-1.5 -3.9-3 -4.2-5.6 -3.7-8.5 -1.8-10.2 .7-9.8 2.9-7.3 4-4.1 4.3-1.4 3.9,0 3.6,1 3.6,1.4 3.3,2.4 3.1,3.4 2.2,4.5 1.5,4.8 .9,4.8 .7,4.1 .4,3.7 .2,3.2 .2,3 .1,2.7 .1,2.6 .1,2.3 .1,2.2 .2,1.9 .1,1.8 .1,1.6 .3,1.4 .4,1.4 .6,1.2 .7,1.1 .4,1.1 .3,1 .1,1 0,1.1 0,1.2 0,1.1 -.1,1.2 0,1.1 0,1.1 0,1.1 0,1.1 0,1.1 0,1.1 .1,.9 .2,.8 .3,.6 .3,.5 .5,.6 .4,.5 .6,.4 .8,.3 .9,.1 1.1,.1 1.2-.1 1.6-.4 1.8-.8 2.1-1.3 2.4-1.4 3.1-1.5 3.9-1.7 4.8-3.1 6.5-6.1 6.6-10.4 4.4-14.2 -1-15.4 -5.3-12.3 -7.5-7.3 -7.1-2.7 -6.2-.2 -5.5,1.2 -4.9,2.2 -4.2,3.4 -3.2,4.4 -1.9,4.9 -1.2,4.7 -.8,4.3 -.6,3.8 -.6,3.5 -.6,3.3 -.7,3 -.8,2.5 -.9,2 -.9,1.7 -.9,1.3 -1,1.1 -1,.9 -1,.7 -1.1,.5 -1.2,.3 -1.4,.1 -1.6-.4 -1.8-.9 -2.1-1.7 -2.4-2.7 -2.4-3.9 -2.3-5.3 -1.5-6.1 -.3-6.2 1.2-5.1 2-3.5 2.4-1.9 2.4-.9 2.2-.3 2.3,.1 2.2,.5 2.4,1 2.5,1.8 2.3,2.8 1.9,3.7 1.1,4.2 .5,4.2 -.1,3.8 -.3,3.3 -.6,2.7 -.6,2.2 -.7,1.8 -.8,1.5 -.8,1.2 -.8,1 -.9,.9 -.9,.8 -.9,.6 -1.1,.5 -1.2,.3 -1.3,0 -1.6-.4 -1.8-.9 -2.1-1.6 -2.3-2.7 -2.4-3.9 -2.3-5.3 -1.6-6.1 -.2-6.2 1.1-5.2 2-3.5 2.4-2 2.4-.9 2.3-.2 2.2,.1 2.3,.5 2.4,1.1 2.5,1.9 2.3,2.8 1.9,3.7 1.1,4.2 .4,4.1 -.1,3.8 -.3,3.2 -.6,2.7 -.6,2.2 -.7,1.8 -.8,1.4 -.8,1.2 -.8,1.1 -.8,.8 -.9,.8 -.9,.6 -1,.5 -1.1,.4 -1.3,0 -1.5-.2 -1.8-.8 -2-1.4 -2.3-2.5 -2.4-3.6 -2.4-5 -1.7-6.1 -.6-6.3 .8-5.5 1.9-3.9 2.4-2.3 2.5-1.1 2.3-.3 2.3,.1 2.3,.4 2.4,1 2.5,1.8 2.3,2.7 2,3.6 1.2,4.1 .5,4.2 0,3.8 -.3,3.3 -.5,2.7 -.6,2.3 -.7,1.8 -.8,1.5 -.7,1.3 -.8,1 -.8,.9 -.8,.7 -.9,.7 -1,.6 -1,.4 -1.2,.2 -1.4-.1 -1.7-.5 -1.9-1.1 -2.1-1.9 -2.4-3.1 -2.5-4.5 -2.1-5.7 -1.2-6.4 .2-6.1 1.6-4.6 2.3-3 2.5-1.6 2.4-.6 2.3-.1 2.3,.4 2.4,.8 2.5,1.5 2.5,2.3 2.1,3.4 1.4,4 .8,4.2 .2,3.9 -.2,3.5 -.5,2.9 -.5,2.4 -.7,2 -.7,1.6 -.7,1.3 -.8,1.1 -.7,.9 -.8,.8 -.8,.7 -.9,.6 -1,.6 -1,.3 -1.3,.2 -1.4-.2 -1.7-.6 -2-1.2 -2.3-2.2 -2.4-3.4 -2.4-4.9 -2-6.1 -.8-6.5 .5-5.9 1.8-4.4 2.5-2.6 2.5-1.2 2.5-.4 2.3,.1 2.4,.5 2.5,1 2.5,1.9 2.4,2.7 1.9,3.6 1.3,4.2 .5,4.1 0,3.8 -.3,3.3 -.4,2.7 -.6,2.2 -.6,1.8 -.7,1.5 -.8,1.3 -.7,1 -.7,.9 -.8,.7 -.8,.7 -.8,.6 -1,.5 -1,.4 -1.2,.2 -1.4-.1 -1.7-.5 -2-1.1 -2.2-2 -2.5-3.2 -2.6-4.8 -2.1-6.1 -1-6.8 .4-6.2 1.8-4.6 2.5-2.9 2.6-1.4 2.6-.4 2.4,.1 2.5,.5 2.5,1.1 2.6,1.9 2.4,2.8 1.9,3.7 1.2,4.1 .6,4.2 .1,3.8 -.3,3.2 -.4,2.7 -.6,2.3 -.6,1.8 -.7,1.5 -.7,1.3 -.7,1 -.7,.8 -.7,.8 -.8,.7 -.8,.6 -.8,.6 -.9,.4 -1.1,.4 -1.3,.1 -1.5-.2 -1.8-.6 -2.1-1.3 -2.5-2.3 -2.6-3.9 -2.6-5.4 -1.9-6.8 -.5-7 1-6 2.2-4.1 2.8-2.3 2.9-1.4 2.5,0" fill="none" stroke="#50b6ec" stroke-width="0.45" stroke-linejoin="round" opacity="0.82"/>
<path d="M424.0,103.4L423.8,106.7L423.5,110.2L422.9,113.7L421.9,116.5L420.3,118.2L418.4,119.3L416.4,119.9L414.4,120.3L412.3,120.5L410.2,120.6L408.2,120.2L406.1,119.7L404.1,119.1L402.2,118.3L400.3,117.4L398.6,116.3L396.9,115.2L395.3,113.9L393.8,112.6L392.4,111.2L391.0,109.8L389.7,108.5L388.5,107.1L387.4,105.7L386.3,104.3L385.2,102.9L384.2,101.6L383.3,100.2L382.4,98.9L381.5,97.5L380.7,96.1L380.0,94.7L379.3,93.3L378.6,91.9L378.0,90.5L377.4,89.1L376.8,87.7L376.2,86.3L375.5,85.0L374.9,83.6L374.4,82.1L373.9,80.7L373.4,79.2L373.0,77.7L372.7,76.2L372.5,74.6L372.3,73.1L372.2,71.5L372.1,69.9L372.1,68.3L372.0,66.7L372.0,65.1L372.0,63.4L372.1,61.7L372.3,60.0L372.5,58.3L372.7,56.5L372.9,54.7L373.2,52.9L373.5,51.0L373.9,49.1L374.3,47.1L374.9,45.2L375.7,43.3L376.5,41.4L377.5,39.6L378.6,37.9L379.8,36.1L381.1,34.5L382.6,33.0L384.3,31.7L386.1,30.8L388.1,30.1L390.3,30.0L392.5,30.0L394.6,30.1L396.7,30.4L398.8,31.0L400.9,31.6L402.8,32.3L404.7,33.0L406.4,33.7L408.2,34.5L409.8,35.3L411.4,36.2L412.9,37.1L414.4,37.9L415.8,38.8L417.1,39.7L418.4,40.6L419.6,41.5L420.8,42.5L421.9,43.5L422.9,44.7L423.6,46.4L423.9,48.4M423.6,102.7L423.5,105.9L423.2,109.3L422.6,112.6L421.5,115.4L419.9,117.0L418.1,118.1L416.2,118.7L414.2,119.0L412.2,119.3L410.2,119.3L408.2,119.0L406.2,118.4L404.2,117.8L402.4,117.1L400.5,116.3L398.8,115.2L397.2,114.0L395.6,112.8L394.2,111.5L392.8,110.2L391.5,108.9L390.2,107.5L389.1,106.1L387.9,104.8L386.9,103.5L385.9,102.1L384.9,100.8L384.0,99.5L383.1,98.2L382.2,96.8L381.5,95.5L380.7,94.1L380.1,92.7L379.4,91.4L378.8,90.0L378.2,88.7L377.6,87.3L377.0,86.0L376.4,84.6L375.8,83.3L375.3,81.9L374.8,80.5L374.4,79.0L374.0,77.6L373.7,76.1L373.4,74.6L373.3,73.1L373.2,71.5L373.1,70.0L373.0,68.4L373.0,66.9L373.0,65.3L373.0,63.7L373.1,62.0L373.2,60.4L373.4,58.7L373.6,56.9L373.8,55.2L374.1,53.4L374.4,51.6L374.8,49.7L375.2,47.8L375.8,45.9L376.5,44.1L377.3,42.3L378.3,40.5L379.4,38.8L380.5,37.1L381.8,35.4L383.3,34.0L384.9,32.8L386.7,31.9L388.6,31.2L390.8,31.1L392.9,31.1L394.9,31.1L397.0,31.5L399.1,32.0L401.0,32.6L402.9,33.3L404.7,33.9L406.5,34.6L408.2,35.4L409.8,36.2L411.3,37.0L412.8,37.8L414.2,38.7L415.6,39.6L416.9,40.4L418.2,41.3L419.4,42.2L420.6,43.1L421.6,44.2L422.6,45.3L423.3,46.9L423.6,48.9M423.2,102.1L423.1,105.1L422.8,108.3L422.2,111.6L421.1,114.2L419.6,115.8L417.9,116.8L416.0,117.4L414.0,117.8L412.1,118.0L410.1,118.1L408.2,117.7L406.2,117.2L404.3,116.6L402.5,115.9L400.8,115.1L399.1,114.0L397.5,112.9L396.0,111.7L394.6,110.5L393.2,109.2L391.9,107.9L390.7,106.5L389.6,105.2L388.5,103.9L387.5,102.6L386.5,101.3L385.6,100.0L384.7,98.7L383.8,97.4L383.0,96.1L382.2,94.8L381.5,93.5L380.9,92.2L380.2,90.9L379.6,89.5L379.1,88.2L378.5,86.9L377.9,85.6L377.3,84.3L376.7,83.0L376.2,81.6L375.8,80.3L375.3,78.9L374.9,77.4L374.6,76.0L374.4,74.6L374.3,73.1L374.1,71.6L374.1,70.1L374.0,68.6L373.9,67.0L373.9,65.5L373.9,63.9L374.0,62.3L374.2,60.7L374.3,59.1L374.5,57.4L374.7,55.7L375.0,53.9L375.3,52.1L375.6,50.3L376.1,48.5L376.6,46.6L377.3,44.8L378.2,43.1L379.1,41.4L380.1,39.7L381.3,38.0L382.5,36.4L383.9,35.0L385.5,33.9L387.3,32.9L389.2,32.3L391.2,32.2L393.3,32.1L395.3,32.2L397.3,32.5L399.3,33.0L401.2,33.6L403.0,34.2L404.8,34.8L406.5,35.5L408.2,36.2L409.7,37.0L411.2,37.8L412.7,38.6L414.1,39.4L415.4,40.3L416.7,41.2L418.0,42.0L419.1,42.9L420.3,43.8L421.4,44.8L422.3,45.9L422.9,47.5L423.2,49.4M422.9,101.3L422.7,104.2L422.3,107.3L421.7,110.4L420.7,112.9L419.2,114.4L417.6,115.4L415.7,116.0L413.9,116.4L412.0,116.6L410.1,116.7L408.2,116.3L406.3,115.9L404.5,115.3L402.7,114.6L401.0,113.8L399.4,112.8L397.8,111.7L396.4,110.5L395.0,109.3L393.7,108.0L392.5,106.8L391.3,105.5L390.2,104.2L389.1,102.9L388.1,101.7L387.2,100.4L386.3,99.2L385.4,97.9L384.6,96.7L383.8,95.4L383.1,94.1L382.4,92.9L381.7,91.6L381.1,90.3L380.6,89.0L380.0,87.7L379.4,86.5L378.9,85.2L378.3,83.9L377.8,82.7L377.3,81.4L376.8,80.0L376.4,78.7L376.0,77.3L375.7,75.9L375.5,74.5L375.3,73.1L375.2,71.6L375.1,70.2L375.1,68.7L375.0,67.2L375.0,65.7L375.0,64.2L375.1,62.6L375.2,61.1L375.3,59.5L375.5,57.8L375.7,56.2L375.9,54.5L376.3,52.8L376.6,51.0L377.1,49.2L377.6,47.4L378.3,45.7L379.1,44.0L380.0,42.3L381.0,40.7L382.1,39.1L383.3,37.5L384.7,36.2L386.2,35.1L387.9,34.2L389.7,33.5L391.7,33.4L393.7,33.3L395.6,33.4L397.6,33.7L399.5,34.2L401.4,34.7L403.2,35.3L404.9,35.9L406.6,36.5L408.2,37.2L409.7,37.9L411.2,38.7L412.6,39.5L413.9,40.3L415.2,41.1L416.5,41.9L417.7,42.8L418.9,43.6L420.0,44.5L421.0,45.5L421.9,46.6L422.6,48.1L422.9,50.0M424.0,49.9L425.3,49.3L426.7,49.1L428.0,48.7L429.3,48.1L430.5,47.4L431.8,46.7L433.1,46.2L434.4,45.7L435.8,45.2L437.2,44.8L438.7,44.4L440.1,44.1L441.6,43.8L443.1,43.6L444.7,43.5L446.2,43.4L447.8,43.3L449.5,43.2L451.1,43.2L452.8,43.2L454.5,43.4L456.2,43.7L457.8,44.1L459.4,44.8L460.9,45.5L462.3,46.4L463.6,47.5L464.9,48.6L466.0,49.9L467.1,51.2L468.0,52.6L468.9,54.0L469.6,55.5L470.2,57.1L470.7,58.7L471.0,60.3L471.4,61.9L471.6,63.4L471.8,65.0L472.0,66.5L472.2,68.0L472.3,69.5L472.3,71.0L472.3,72.5L472.3,73.9L472.3,75.4L472.1,76.8L472.0,78.2L471.7,79.6L471.5,81.0L471.2,82.3L470.9,83.7L470.4,85.0L469.9,86.3L469.5,87.5L469.0,88.8L468.6,90.1L468.1,91.4L467.6,92.7L467.0,93.9L466.4,95.2L465.7,96.3L464.9,97.5L464.1,98.7L463.3,99.8L462.4,100.9L461.6,102.1L460.7,103.2L459.7,104.3L458.7,105.4L457.7,106.5L456.6,107.5L455.4,108.5L454.3,109.5L453.0,110.5L451.7,111.5L450.4,112.6L449.1,113.6L447.7,114.7L446.2,115.7L444.6,116.8L443.0,117.9L441.3,118.9L439.5,119.8L437.6,120.6L435.7,121.1L433.7,121.4L431.8,121.5L429.9,121.2L428.0,120.5L426.4,119.2L425.3,116.9L424.6,113.7L424.3,110.4L424.1,107.5L424.0,104.7M424.3,50.5L425.6,49.9L427.0,49.7L428.3,49.2L429.5,48.7L430.7,48.0L431.9,47.4L433.2,46.8L434.6,46.4L435.9,45.9L437.3,45.5L438.7,45.2L440.1,44.9L441.6,44.6L443.1,44.4L444.6,44.3L446.1,44.2L447.6,44.1L449.2,44.1L450.8,44.1L452.5,44.1L454.1,44.3L455.7,44.6L457.3,45.1L458.8,45.7L460.3,46.4L461.7,47.3L462.9,48.3L464.1,49.5L465.2,50.7L466.3,52.0L467.2,53.3L468.0,54.7L468.7,56.2L469.3,57.7L469.8,59.2L470.1,60.8L470.4,62.3L470.7,63.9L470.9,65.4L471.1,66.9L471.2,68.3L471.3,69.8L471.3,71.2L471.3,72.7L471.3,74.1L471.3,75.5L471.1,76.8L471.0,78.2L470.8,79.5L470.5,80.9L470.3,82.2L469.9,83.5L469.5,84.8L469.0,86.0L468.6,87.3L468.1,88.5L467.7,89.8L467.3,91.0L466.8,92.2L466.2,93.4L465.6,94.6L464.9,95.8L464.1,96.9L463.4,98.0L462.6,99.1L461.8,100.2L460.9,101.3L460.0,102.4L459.1,103.5L458.1,104.6L457.1,105.6L456.1,106.6L455.0,107.6L453.8,108.6L452.6,109.6L451.4,110.6L450.1,111.6L448.8,112.6L447.4,113.6L446.0,114.7L444.5,115.7L442.9,116.8L441.2,117.8L439.5,118.7L437.7,119.4L435.8,119.9L433.9,120.2L432.0,120.3L430.1,120.0L428.4,119.3L426.8,118.1L425.6,115.9L425.0,112.8L424.7,109.7L424.5,106.8L424.4,104.2M424.6,51.0L425.8,50.5L427.2,50.2L428.5,49.8L429.7,49.2L430.9,48.6L432.1,48.0L433.4,47.5L434.7,47.1L436.0,46.6L437.3,46.3L438.7,45.9L440.1,45.6L441.5,45.4L443.0,45.2L444.5,45.1L445.9,45.0L447.4,45.0L449.0,45.0L450.5,45.0L452.1,45.1L453.7,45.2L455.3,45.5L456.8,46.0L458.3,46.6L459.7,47.3L461.0,48.2L462.3,49.2L463.4,50.3L464.5,51.5L465.5,52.7L466.4,54.0L467.2,55.4L467.8,56.8L468.4,58.3L468.8,59.8L469.2,61.3L469.5,62.8L469.7,64.3L469.9,65.8L470.1,67.2L470.2,68.6L470.3,70.0L470.3,71.4L470.4,72.8L470.3,74.2L470.3,75.5L470.2,76.9L470.0,78.2L469.8,79.5L469.6,80.8L469.3,82.1L469.0,83.3L468.5,84.5L468.1,85.8L467.7,87.0L467.2,88.2L466.8,89.4L466.4,90.6L465.9,91.8L465.4,93.0L464.8,94.1L464.1,95.2L463.4,96.3L462.6,97.4L461.9,98.5L461.1,99.5L460.3,100.6L459.4,101.7L458.5,102.7L457.6,103.7L456.6,104.8L455.6,105.8L454.5,106.7L453.4,107.7L452.3,108.7L451.1,109.6L449.8,110.6L448.5,111.6L447.2,112.6L445.8,113.6L444.3,114.6L442.8,115.7L441.2,116.6L439.5,117.5L437.7,118.2L435.9,118.7L434.1,119.0L432.2,119.1L430.4,118.8L428.7,118.2L427.1,117.0L426.0,114.9L425.4,112.0L425.1,108.9L424.8,106.2L424.7,103.7M425.0,51.6L426.2,51.1L427.5,50.8L428.7,50.4L429.9,49.9L431.1,49.3L432.3,48.7L433.5,48.2L434.8,47.8L436.1,47.4L437.4,47.1L438.8,46.7L440.1,46.5L441.5,46.3L442.9,46.1L444.3,46.0L445.8,46.0L447.2,45.9L448.7,45.9L450.2,46.0L451.8,46.1L453.3,46.2L454.8,46.6L456.3,47.0L457.7,47.6L459.0,48.4L460.3,49.2L461.5,50.2L462.6,51.2L463.6,52.4L464.6,53.6L465.4,54.9L466.2,56.2L466.9,57.6L467.4,59.0L467.8,60.4L468.2,61.9L468.4,63.4L468.7,64.8L468.9,66.2L469.0,67.6L469.1,69.0L469.2,70.3L469.3,71.7L469.3,73.0L469.2,74.3L469.2,75.6L469.1,76.9L468.9,78.2L468.7,79.4L468.5,80.7L468.2,81.9L467.9,83.1L467.5,84.3L467.0,85.5L466.6,86.6L466.3,87.8L465.9,89.0L465.4,90.1L465.0,91.3L464.4,92.4L463.9,93.5L463.2,94.6L462.5,95.7L461.8,96.7L461.1,97.7L460.3,98.8L459.5,99.8L458.7,100.8L457.9,101.8L457.0,102.8L456.0,103.8L455.0,104.8L454.0,105.7L452.9,106.7L451.8,107.6L450.7,108.5L449.5,109.5L448.3,110.5L447.0,111.4L445.6,112.4L444.2,113.4L442.7,114.4L441.1,115.3L439.5,116.2L437.8,116.9L436.0,117.4L434.3,117.7L432.5,117.7L430.7,117.5L429.0,116.9L427.6,115.7L426.4,113.7L425.8,111.0L425.5,108.1L425.2,105.5L425.0,103.1" fill="none" stroke="#6dbce9" stroke-width="0.4" opacity="0.75"/>
<defs><radialGradient id="gm"><stop offset="0" stop-color="#ff00ff"/><stop offset="0.75" stop-color="#fb1af6"/><stop offset="1" stop-color="#f86af4" stop-opacity="0.55"/></radialGradient><radialGradient id="go"><stop offset="0" stop-color="#dd7a10"/><stop offset="0.75" stop-color="#e0861f"/><stop offset="1" stop-color="#eaa85a" stop-opacity="0.55"/></radialGradient></defs>
<ellipse cx="408.1" cy="71.5" rx="6.0" ry="7.1" fill="url(#gm)" transform="rotate(-8 408.1 71.5)"/>
<path d="M403.6,67.5L399.8,64.6" stroke="#fa5cf5" stroke-width="0.6" fill="none"/>
<circle cx="408.1" cy="71.3" r="0.9" fill="#35d04a"/>
<ellipse cx="436.8" cy="74.7" rx="6.1" ry="5.8" fill="url(#go)"/>
<path d="M440.5,80.2Q443,80.8 445.5,79.2" stroke="#e9a04a" stroke-width="0.6" fill="none"/>
<circle cx="436.8" cy="74.6" r="0.8" fill="#ff2020"/>
<path d="M380.4,121.5L395.9,70.7" stroke="#2a2a2a" stroke-width="0.6" fill="none"/><path d="M397.0,67.0L397.6,73.0L395.9,70.7L393.2,71.7Z" fill="#111"/>
<path d="M452.6,126.0L446.1,88.1" stroke="#2a2a2a" stroke-width="0.6" fill="none"/><path d="M445.4,84.2L448.6,89.3L446.1,88.1L444.1,90.1Z" fill="#111"/>
<path d="M451.8,34.6L423.5,64.7" stroke="#2a2a2a" stroke-width="0.6" fill="none"/><path d="M420.8,67.6L423.0,61.9L423.5,64.7L426.3,65.1Z" fill="#111"/>
<path d="M406.8,80.0L406.8,77.3" stroke="#2a2a2a" stroke-width="0.6" fill="none"/><path d="M406.8,73.4L409.5,79.0L406.8,77.3L404.1,79.0Z" fill="#111"/>
<path d="M434.8,82.4L434.8,79.8" stroke="#2a2a2a" stroke-width="0.6" fill="none"/><path d="M434.8,76.0L437.5,81.4L434.8,79.8L432.1,81.4Z" fill="#111"/>
<text transform="translate(309.14,33.30) scale(1.400,1)" font-family="Liberation Sans, sans-serif" font-size="7.10" fill="#5f5f5f">40</text>
<text transform="translate(309.14,49.65) scale(1.400,1)" font-family="Liberation Sans, sans-serif" font-size="7.10" fill="#5f5f5f">20</text>
<text transform="translate(314.67,66.00) scale(1.400,1)" font-family="Liberation Sans, sans-serif" font-size="7.10" fill="#5f5f5f">0</text>
<text transform="translate(303.34,82.35) scale(1.400,1)" font-family="Liberation Sans, sans-serif" font-size="7.10" fill="#5f5f5f">−20</text>
<text transform="translate(303.34,98.70) scale(1.400,1)" font-family="Liberation Sans, sans-serif" font-size="7.10" fill="#5f5f5f">−40</text>
<text transform="translate(303.34,115.05) scale(1.400,1)" font-family="Liberation Sans, sans-serif" font-size="7.10" fill="#5f5f5f">−60</text>
<text transform="translate(303.34,131.40) scale(1.400,1)" font-family="Liberation Sans, sans-serif" font-size="7.10" fill="#5f5f5f">−80</text>
<text transform="translate(308.67,137.90) scale(1.400,1)" font-family="Liberation Sans, sans-serif" font-size="7.10" fill="#5f5f5f">20</text>
<text transform="translate(360.44,150.10) scale(1.400,1)" font-family="Liberation Sans, sans-serif" font-size="7.10" fill="#5f5f5f">0</text>
<text transform="translate(396.87,161.80) scale(1.400,1)" font-family="Liberation Sans, sans-serif" font-size="7.10" fill="#5f5f5f">−20</text>
<text transform="translate(424.47,161.80) scale(1.400,1)" font-family="Liberation Sans, sans-serif" font-size="7.10" fill="#5f5f5f">50</text>
<text transform="translate(475.24,151.00) scale(1.400,1)" font-family="Liberation Sans, sans-serif" font-size="7.10" fill="#5f5f5f">0</text>
<text transform="translate(526.97,140.80) scale(1.400,1)" font-family="Liberation Sans, sans-serif" font-size="7.10" fill="#5f5f5f">−50</text>
<text transform="translate(351.00,156.60) scale(1.219,1)" font-family="Liberation Serif, serif" font-size="8.50" fill="#444" font-style="italic">x</text>
<text transform="translate(476.80,160.60) scale(1.272,1)" font-family="Liberation Serif, serif" font-size="8.50" fill="#444" font-style="italic">y</text>
<text transform="translate(299.2,82) rotate(-90) scale(1,1.25)" font-family="Liberation Serif, serif" font-style="italic" font-size="8" fill="#444">z</text>
<text transform="translate(350.50,131.10) scale(1.450,1)" font-family="Liberation Sans, sans-serif" font-size="7.30" fill="#1c1c1c" font-style="italic" stroke="#1c1c1c" stroke-width="0.10">I</text><text transform="translate(354.80,134.30) scale(1.300,1)" font-family="Liberation Serif, serif" font-size="5.20" fill="#1c1c1c">1</text><text transform="translate(358.40,131.10) scale(1.464,1)" font-family="Liberation Sans, sans-serif" font-size="7.30" fill="#1c1c1c" stroke="#1c1c1c" stroke-width="0.10">=(12,−5,−10)</text>
<text transform="translate(426.10,133.30) scale(1.450,1)" font-family="Liberation Sans, sans-serif" font-size="7.30" fill="#1c1c1c" font-style="italic" stroke="#1c1c1c" stroke-width="0.10">I</text><text transform="translate(430.00,136.50) scale(1.300,1)" font-family="Liberation Serif, serif" font-size="5.20" fill="#1c1c1c">2</text><text transform="translate(434.50,133.30) scale(1.462,1)" font-family="Liberation Sans, sans-serif" font-size="7.30" fill="#1c1c1c" stroke="#1c1c1c" stroke-width="0.10">=(−12,5,−10)</text>
<text transform="translate(436.50,33.80) scale(1.450,1)" font-family="Liberation Sans, sans-serif" font-size="7.30" fill="#1c1c1c" font-style="italic" stroke="#1c1c1c" stroke-width="0.10">I</text><text transform="translate(440.00,37.00) scale(1.300,1)" font-family="Liberation Serif, serif" font-size="5.20" fill="#1c1c1c">3</text><text transform="translate(445.30,33.80) scale(1.410,1)" font-family="Liberation Sans, sans-serif" font-size="7.30" fill="#1c1c1c" stroke="#1c1c1c" stroke-width="0.10">=(1,1,−10)</text>
<text transform="translate(401.30,86.00) scale(1.040,1)" font-family="Liberation Serif, serif" font-size="9.60" fill="#111" font-style="italic">E</text>
<text transform="translate(407.90,90.40) scale(0.788,1)" font-family="Liberation Serif, serif" font-size="6.60" fill="#111">1</text>
<text transform="translate(429.90,89.40) scale(1.040,1)" font-family="Liberation Serif, serif" font-size="9.60" fill="#111" font-style="italic">E</text>
<text transform="translate(436.20,92.90) scale(1.061,1)" font-family="Liberation Serif, serif" font-size="6.60" fill="#111">2</text>
<text transform="translate(275.00,172.60) scale(1.075,1)" font-family="Liberation Serif, serif" font-size="10.50" fill="#111" font-weight="bold">(b)</text>
<path d="M185.8,246.4L185.7,249.3L185.9,246.3L186.3,209.0L186.7,209.0L187.2,211.7L187.8,210.5L188.2,210.5L188.6,246.5L188.9,254.0L189.3,285.3L189.7,285.3L190.1,254.0L190.5,251.5L190.6,252.3L191.0,256.5L191.4,310.7L191.8,310.7L192.2,256.5L192.6,252.3L193.1,251.8L193.5,254.8L193.9,293.3L194.3,293.3L194.7,254.8L195.0,247.0L195.4,215.5L195.8,215.5L196.1,216.7L196.5,213.4L196.9,213.4L197.3,246.8L198.0,245.3L198.4,198.1L198.8,198.1L199.2,245.3L199.8,254.3L200.2,288.9L200.6,288.9L201.0,254.3L201.5,246.7L201.9,212.6L202.3,212.6L202.7,246.7L203.1,254.7L203.5,292.5L203.9,292.5L204.3,254.7L204.9,247.0L205.3,215.5L205.7,215.5L206.2,216.7L206.7,212.6L207.1,212.6L207.5,246.7L207.8,254.8L208.2,293.3L208.6,293.3L209.0,254.8L209.5,247.0L209.9,215.5L210.3,215.5L210.8,216.7L211.4,213.4L211.8,213.4L212.2,246.8L212.9,245.4L213.3,199.5L213.7,199.5L214.1,245.4L214.3,254.1L214.7,286.0L215.1,286.0L215.5,254.1L215.8,246.1L216.2,206.8L216.6,206.8L217.0,246.1L217.4,249.2L218.0,251.6L218.4,254.1L218.8,286.0L219.2,286.0L219.6,254.1L220.0,251.6L220.5,249.1L220.9,246.0L221.3,205.4L221.7,205.4L222.1,246.0L222.3,253.8L222.7,283.8L223.1,283.8L223.7,282.6L224.2,288.9L224.6,288.9L225.0,254.3L225.7,255.4L226.1,299.1L226.5,299.1L226.9,255.4L227.0,246.8L227.4,213.4L227.8,213.4L228.2,246.8L228.9,255.4L229.3,299.8L229.7,299.8L230.1,255.4L230.6,246.6L231.0,211.9L231.4,211.9L231.8,246.6L232.4,254.5L232.8,290.4L233.2,290.4L233.6,254.5L233.9,246.9L234.3,214.8L234.7,214.8L235.4,216.0L236.1,211.2L236.5,211.2L237.3,287.5L237.7,287.5L238.1,254.2L238.6,246.5L239.0,210.5L239.4,210.5L239.8,246.5L240.1,254.1L240.5,286.0L240.9,286.0L241.3,254.1L241.9,245.9L242.3,204.6L242.7,204.6L243.1,245.9L243.4,253.9L243.8,284.5L244.2,284.5L244.8,283.3L245.3,289.6L245.7,289.6L246.3,288.4L247.0,298.4L247.4,298.4L247.8,255.3L247.8,246.9L248.2,214.1L248.6,214.1L249.0,246.9L249.4,249.4L249.5,249.2L249.9,246.1L250.3,206.1L250.7,206.1L251.1,246.1L251.7,253.9L252.1,284.5L252.5,284.5L252.9,283.3L253.3,286.0L253.7,286.0L254.1,254.1L254.7,245.6L255.1,201.7L255.5,201.7L256.3,283.8L256.7,283.8L257.4,282.6L258.2,291.0L258.6,291.0L259.0,254.6L259.0,246.7L259.4,212.0L259.8,212.0L260.2,246.7L260.6,249.3L260.8,248.9L261.2,245.3L261.6,198.1L262.0,198.1L262.4,245.3L263.1,254.3L263.5,288.9L263.9,288.9L264.3,254.3L264.6,246.8L265.0,213.4L265.4,213.4L265.8,246.8L266.5,255.5L266.9,300.5L267.3,300.5L267.7,255.5L267.9,246.6L268.3,211.9L268.7,211.9L269.1,246.6L269.7,254.5L270.1,290.4L270.5,290.4L270.9,254.5L271.4,246.9L271.8,214.8L272.2,214.8L272.8,216.0L273.3,209.0L273.7,209.0L274.4,288.2L274.8,288.2L275.6,287.0L276.3,294.0L276.7,294.0L277.1,254.8L277.7,247.1L278.1,216.3L278.5,216.3L278.9,217.5L279.2,213.4L279.6,213.4L280.0,246.8L280.4,249.4L280.5,249.0L280.9,245.6L281.3,201.3L281.7,201.3L282.4,283.8L282.8,283.8L283.6,282.6L284.3,289.6L284.7,289.6L285.1,254.4L285.4,246.9L285.8,214.8L286.2,214.8L286.9,216.0L287.5,206.8L287.9,206.8L288.3,246.1L288.7,249.2L289.3,251.6L289.7,254.1L290.1,286.0L290.5,286.0L290.9,254.1L291.3,251.6L291.5,249.2L291.9,246.1L292.3,206.4L292.7,206.4L293.1,246.1L293.5,249.2L294.3,251.6L294.7,254.1L295.1,286.0L295.5,286.0L295.9,254.1L296.6,245.8L297.0,203.2L297.4,203.2L297.8,245.8L298.2,249.1L298.8,251.6L299.2,254.1L299.6,286.0L300.0,286.0L300.4,254.1L300.9,246.2L301.3,207.8L301.7,207.8L302.1,246.2L302.5,249.2L303.5,251.6L303.9,254.1L304.3,286.7L304.7,286.7L305.1,254.1L305.7,246.3L306.1,208.3L306.5,208.3L306.9,246.3L307.3,249.2L308.1,251.7L308.5,254.3L308.9,288.9L309.3,288.9L309.7,254.3L310.1,246.8L310.5,213.4L310.9,213.4L311.3,246.8L312.1,255.7L312.5,302.0L312.9,302.0L313.3,255.7L314.0,246.3L314.4,208.3L314.8,208.3L315.2,246.3L315.6,249.2L316.5,251.7L316.9,254.3L317.3,288.9L317.7,288.9L318.1,254.3L318.7,246.8L319.1,213.4L319.5,213.4L319.9,246.8L320.6,255.2L321.0,297.6L321.4,297.6L321.8,255.2L322.0,246.9L322.4,214.8L322.8,214.8L323.5,216.0L324.2,207.5L324.6,207.5L325.0,246.2L325.4,249.2L326.0,251.6L326.4,254.1L326.8,286.0L327.2,286.0L327.6,254.1L328.0,251.6L328.2,249.2L328.6,246.3L329.0,208.3L329.4,208.3L329.8,246.3L330.2,249.2L330.7,251.7L331.1,254.4L331.5,289.6L331.9,289.6L332.3,254.4L333.0,246.9L333.4,214.1L333.8,214.1L334.4,215.3L334.9,206.6L335.3,206.6L335.7,246.1L335.9,253.8L336.3,283.8L336.7,283.8L337.1,253.8L337.5,251.5L339.2,252.3L339.6,256.4L340.0,309.3L340.4,309.3L340.8,256.4L341.2,252.3L341.4,251.7L341.8,254.6L342.2,291.8L342.6,291.8L343.0,254.6L343.2,247.0L343.6,215.5L344.0,215.5L344.6,216.7L345.1,211.6L345.5,211.6L345.9,246.6L346.1,254.3L346.5,288.9L346.9,288.9L347.3,254.3L347.9,246.8L348.3,213.1L348.7,213.1L349.1,246.8L349.8,255.0L350.2,295.5L350.6,295.5L351.0,255.0L351.2,247.0L351.6,215.5L352.0,215.5L352.6,216.7L353.1,213.1L353.5,213.1L353.9,246.8L354.4,255.1L354.8,296.2L355.2,296.2L355.6,255.1L356.0,247.0L356.4,215.5L356.8,215.5L357.4,216.7L357.9,213.4L358.3,213.4L358.7,246.8L359.2,255.1L359.6,296.9L360.0,296.9L360.4,255.1L361.0,246.9L361.4,214.8L361.8,214.8L362.3,216.0L362.8,211.2L363.2,211.2L363.6,246.6L363.9,254.2L364.3,287.5L364.7,287.5L365.1,254.2L365.5,246.3L365.9,208.3L366.3,208.3L366.7,246.3L366.8,253.9L367.2,284.5L367.6,284.5L368.1,283.3L368.6,288.9L369.0,288.9L369.4,254.3L370.1,246.8L370.5,213.1L370.9,213.1L371.3,246.8L371.9,255.0L372.3,295.5L372.7,295.5L373.1,255.0L373.3,247.0L373.7,215.5L374.1,215.5L374.6,216.7L375.2,213.4L375.6,213.4L376.0,246.8L376.7,255.6L377.1,301.3L377.5,301.3L377.9,255.6L378.3,252.0L378.5,249.3L378.9,246.4L379.3,209.7L379.7,209.7L380.4,285.3L380.8,285.3L381.5,284.1L382.2,296.9L382.6,296.9L383.0,255.1L383.4,251.9" fill="none" stroke="#79b9f0" stroke-width="0.64" stroke-linejoin="round" opacity="0.95"/>
<path d="M185.9,201.4V232.4" stroke="#ff4dff" stroke-width="0.8" fill="none"/>
<path d="M185.9,225.7L186.9,226.2L187.9,226.6L188.9,226.9L189.9,227.3L190.9,227.6L191.9,227.9L192.9,228.2L193.9,228.5L194.9,228.7L195.9,229.0L196.9,229.2L197.9,229.4L198.9,229.6L199.9,229.8L200.9,229.9L201.9,230.1L202.9,230.3L203.9,230.4L204.9,230.5L205.9,230.6L206.9,230.8L207.9,230.9L208.9,231.0L209.9,231.1L210.9,231.1L211.9,231.2L212.9,231.3L213.9,231.4L214.9,231.4L215.9,231.5L216.9,231.6L217.9,231.6L218.9,231.7L219.9,231.7L220.9,231.8L221.9,231.8L222.9,231.8L223.9,231.9L224.9,231.9L225.9,231.9L226.9,232.0L227.9,232.0L228.9,232.0L229.9,232.0L230.9,232.1L231.9,232.1L232.9,232.1L233.9,232.1L234.9,232.1L235.9,232.2L236.9,232.2L237.9,232.2L238.9,232.2L239.9,232.2L240.9,232.2L241.9,232.2L242.9,232.3L243.9,232.3L244.9,232.3L245.9,232.3L246.9,232.3L247.9,232.3L248.9,232.3L249.9,232.3L249.9,232.5L248.9,232.5L247.9,232.5L246.9,232.5L245.9,232.5L244.9,232.5L243.9,232.5L242.9,232.5L241.9,232.6L240.9,232.6L239.9,232.6L238.9,232.6L237.9,232.6L236.9,232.6L235.9,232.6L234.9,232.6L233.9,232.7L232.9,232.7L231.9,232.7L230.9,232.7L229.9,232.7L228.9,232.8L227.9,232.8L226.9,232.8L225.9,232.8L224.9,232.9L223.9,232.9L222.9,232.9L221.9,233.0L220.9,233.0L219.9,233.1L218.9,233.1L217.9,233.1L216.9,233.2L215.9,233.2L214.9,233.3L213.9,233.4L212.9,233.4L211.9,233.5L210.9,233.6L209.9,233.7L208.9,233.8L207.9,233.8L206.9,233.9L205.9,234.1L204.9,234.2L203.9,234.3L202.9,234.4L201.9,234.6L200.9,234.7L199.9,234.9L198.9,235.0L197.9,235.2L196.9,235.4L195.9,235.6L194.9,235.8L193.9,236.1L192.9,236.3L191.9,236.6L190.9,236.9L189.9,237.2L188.9,237.5L187.9,237.9L186.9,238.3L185.9,238.7Z" fill="#f53cf0" opacity="0.78"/>
<path d="M185.9,267.2V299.6" stroke="#f4b469" stroke-width="0.8" fill="none"/>
<path d="M185.9,260.9L186.9,261.4L187.9,261.8L188.9,262.2L189.9,262.6L190.9,262.9L191.9,263.3L192.9,263.5L193.9,263.8L194.9,264.1L195.9,264.3L196.9,264.5L197.9,264.7L198.9,264.9L199.9,265.1L200.9,265.2L201.9,265.4L202.9,265.5L203.9,265.6L204.9,265.7L205.9,265.9L206.9,266.0L207.9,266.0L208.9,266.1L209.9,266.2L210.9,266.3L211.9,266.4L212.9,266.4L213.9,266.5L214.9,266.5L215.9,266.6L216.9,266.6L217.9,266.7L218.9,266.7L219.9,266.7L220.9,266.8L221.9,266.8L222.9,266.8L223.9,266.9L224.9,266.9L225.9,266.9L226.9,266.9L227.9,267.0L228.9,267.0L229.9,267.0L230.9,267.0L231.9,267.0L232.9,267.0L233.9,267.0L234.9,267.1L235.9,267.1L236.9,267.1L237.9,267.1L238.9,267.1L239.9,267.1L239.9,267.3L238.9,267.3L237.9,267.3L236.9,267.3L235.9,267.3L234.9,267.3L233.9,267.4L232.9,267.4L231.9,267.4L230.9,267.4L229.9,267.4L228.9,267.4L227.9,267.5L226.9,267.5L225.9,267.5L224.9,267.5L223.9,267.5L222.9,267.6L221.9,267.6L220.9,267.6L219.9,267.7L218.9,267.7L217.9,267.8L216.9,267.8L215.9,267.8L214.9,267.9L213.9,267.9L212.9,268.0L211.9,268.1L210.9,268.1L209.9,268.2L208.9,268.3L207.9,268.4L206.9,268.5L205.9,268.6L204.9,268.7L203.9,268.8L202.9,268.9L201.9,269.1L200.9,269.2L199.9,269.4L198.9,269.6L197.9,269.8L196.9,270.0L195.9,270.2L194.9,270.4L193.9,270.7L192.9,271.0L191.9,271.3L190.9,271.6L189.9,271.9L188.9,272.3L187.9,272.7L186.9,273.2L185.9,273.6Z" fill="#eda84f" opacity="0.8"/>
<path d="M186.0,232.4H383.4" stroke="#ff5cff" stroke-width="0.7" fill="none" opacity="0.8"/>
<path d="M186.0,267.2H383.4" stroke="#f5c38a" stroke-width="0.8" fill="none" opacity="0.9"/>
<rect x="185.6" y="188.3" width="198.1" height="143.1" fill="none" stroke="#8c8c8c" stroke-width="0.6"/>
<path d="M185.6,331.4v-1.8M185.6,188.3v1.8M225.2,331.4v-1.8M225.2,188.3v1.8M264.8,331.4v-1.8M264.8,188.3v1.8M304.5,331.4v-1.8M304.5,188.3v1.8M344.1,331.4v-1.8M344.1,188.3v1.8M383.7,331.4v-1.8M383.7,188.3v1.8M185.6,188.3h1.8M383.7,188.3h-1.8M185.6,208.7h1.8M383.7,208.7h-1.8M185.6,229.2h1.8M383.7,229.2h-1.8M185.6,249.6h1.8M383.7,249.6h-1.8M185.6,270.1h1.8M383.7,270.1h-1.8M185.6,290.5h1.8M383.7,290.5h-1.8M185.6,311.0h1.8M383.7,311.0h-1.8M185.6,331.4h1.8M383.7,331.4h-1.8" stroke="#8c8c8c" stroke-width="0.5" fill="none"/>
<text transform="translate(173.61,192.20) scale(1.400,1)" font-family="Liberation Sans, sans-serif" font-size="6.80" fill="#5f5f5f">15</text>
<text transform="translate(173.61,211.84) scale(1.400,1)" font-family="Liberation Sans, sans-serif" font-size="6.80" fill="#5f5f5f">10</text>
<text transform="translate(178.91,232.29) scale(1.400,1)" font-family="Liberation Sans, sans-serif" font-size="6.80" fill="#5f5f5f">5</text>
<text transform="translate(178.91,252.73) scale(1.400,1)" font-family="Liberation Sans, sans-serif" font-size="6.80" fill="#5f5f5f">0</text>
<text transform="translate(173.35,273.17) scale(1.400,1)" font-family="Liberation Sans, sans-serif" font-size="6.80" fill="#5f5f5f">−5</text>
<text transform="translate(168.05,293.61) scale(1.400,1)" font-family="Liberation Sans, sans-serif" font-size="6.80" fill="#5f5f5f">−10</text>
<text transform="translate(168.05,314.06) scale(1.400,1)" font-family="Liberation Sans, sans-serif" font-size="6.80" fill="#5f5f5f">−15</text>
<text transform="translate(168.05,334.50) scale(1.400,1)" font-family="Liberation Sans, sans-serif" font-size="6.80" fill="#5f5f5f">−20</text>
<text transform="translate(183.45,341.20) scale(1.400,1)" font-family="Liberation Sans, sans-serif" font-size="6.80" fill="#5f5f5f">0</text>
<text transform="translate(220.43,341.20) scale(1.400,1)" font-family="Liberation Sans, sans-serif" font-size="6.80" fill="#5f5f5f">20</text>
<text transform="translate(260.05,341.20) scale(1.400,1)" font-family="Liberation Sans, sans-serif" font-size="6.80" fill="#5f5f5f">40</text>
<text transform="translate(299.67,341.20) scale(1.400,1)" font-family="Liberation Sans, sans-serif" font-size="6.80" fill="#5f5f5f">60</text>
<text transform="translate(339.29,341.20) scale(1.400,1)" font-family="Liberation Sans, sans-serif" font-size="6.80" fill="#5f5f5f">80</text>
<text transform="translate(377.56,341.20) scale(1.400,1)" font-family="Liberation Sans, sans-serif" font-size="6.80" fill="#5f5f5f">100</text>
<text transform="translate(282.60,350.20) scale(1.350,1)" font-family="Liberation Serif, serif" font-size="8.00" fill="#444" font-style="italic">t</text>
<text transform="translate(164.2,262) rotate(-90) scale(1,1.2)" font-family="Liberation Serif, serif" font-style="italic" font-size="8" fill="#444">x</text>
<text transform="translate(139.80,352.20) scale(1.030,1)" font-family="Liberation Serif, serif" font-size="10.50" fill="#111" font-weight="bold">(c)</text>
</g>
</svg>
</body></html>
